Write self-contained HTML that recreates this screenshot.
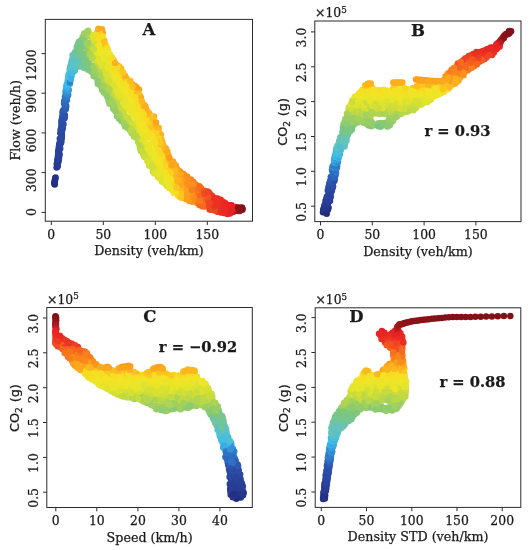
<!DOCTYPE html>
<html><head><meta charset="utf-8"><title>Figure</title>
<style>html,body{margin:0;padding:0;background:#fff}svg{display:block}text{font-family:"DejaVu Serif","Liberation Serif",serif;stroke:#1a1a1a;stroke-width:0.25px}</style>
</head><body>
<svg width="529" height="550" viewBox="0 0 529 550">
<rect width="529" height="550" fill="#ffffff"/>
<g>
<circle cx="54.7" cy="184.5" r="3.25" fill="#242e7f"/>
<circle cx="54.3" cy="183.3" r="3.25" fill="#242f80"/>
<circle cx="54.7" cy="182.1" r="3.25" fill="#243081"/>
<circle cx="54.8" cy="180.9" r="3.25" fill="#243083"/>
<circle cx="55.0" cy="179.7" r="3.25" fill="#253184"/>
<circle cx="55.3" cy="178.6" r="3.25" fill="#253285"/>
<circle cx="55.5" cy="177.4" r="3.25" fill="#253386"/>
<circle cx="56.6" cy="167.4" r="3.25" fill="#293b93"/>
<circle cx="57.4" cy="166.7" r="3.25" fill="#293b94"/>
<circle cx="57.6" cy="166.0" r="3.25" fill="#293b94"/>
<circle cx="57.5" cy="165.1" r="3.25" fill="#293c95"/>
<circle cx="56.9" cy="164.3" r="3.25" fill="#293c95"/>
<circle cx="57.0" cy="163.5" r="3.25" fill="#293c96"/>
<circle cx="57.4" cy="162.7" r="3.25" fill="#293d96"/>
<circle cx="58.3" cy="162.0" r="3.25" fill="#293d96"/>
<circle cx="57.4" cy="161.1" r="3.25" fill="#293d97"/>
<circle cx="58.5" cy="160.4" r="3.25" fill="#293e97"/>
<circle cx="57.4" cy="159.5" r="3.25" fill="#293e97"/>
<circle cx="58.8" cy="158.9" r="3.25" fill="#293e98"/>
<circle cx="58.9" cy="158.1" r="3.25" fill="#2a3f98"/>
<circle cx="59.0" cy="157.3" r="3.25" fill="#2a3f98"/>
<circle cx="57.9" cy="156.3" r="3.25" fill="#2a3f99"/>
<circle cx="58.7" cy="155.6" r="3.25" fill="#2a4099"/>
<circle cx="59.3" cy="154.9" r="3.25" fill="#2a4099"/>
<circle cx="59.5" cy="154.1" r="3.25" fill="#2a409a"/>
<circle cx="58.3" cy="153.1" r="3.25" fill="#2a419a"/>
<circle cx="58.3" cy="152.3" r="3.25" fill="#2a419a"/>
<circle cx="58.4" cy="151.5" r="3.25" fill="#2a419b"/>
<circle cx="58.6" cy="150.8" r="3.25" fill="#2a429b"/>
<circle cx="59.2" cy="150.0" r="3.25" fill="#2a429b"/>
<circle cx="58.8" cy="149.2" r="3.25" fill="#2a429c"/>
<circle cx="60.2" cy="148.6" r="3.25" fill="#2a439c"/>
<circle cx="58.8" cy="147.6" r="3.25" fill="#2a439c"/>
<circle cx="59.4" cy="146.8" r="3.25" fill="#2a439d"/>
<circle cx="59.1" cy="146.0" r="3.25" fill="#2a449d"/>
<circle cx="59.2" cy="145.2" r="3.25" fill="#2a449d"/>
<circle cx="59.5" cy="144.4" r="3.25" fill="#2a449e"/>
<circle cx="59.4" cy="143.6" r="3.25" fill="#2a459e"/>
<circle cx="61.0" cy="143.0" r="3.25" fill="#2a459e"/>
<circle cx="60.9" cy="142.2" r="3.25" fill="#2a459f"/>
<circle cx="61.2" cy="141.4" r="3.25" fill="#2b469f"/>
<circle cx="60.9" cy="140.6" r="3.25" fill="#2b469f"/>
<circle cx="61.2" cy="139.8" r="3.25" fill="#2b46a0"/>
<circle cx="59.8" cy="138.8" r="3.25" fill="#2b47a0"/>
<circle cx="61.5" cy="138.2" r="3.25" fill="#2b47a1"/>
<circle cx="61.7" cy="137.5" r="3.25" fill="#2b47a1"/>
<circle cx="61.7" cy="136.6" r="3.25" fill="#2b48a1"/>
<circle cx="61.9" cy="135.9" r="3.25" fill="#2b48a2"/>
<circle cx="61.9" cy="135.1" r="3.25" fill="#2b48a2"/>
<circle cx="61.1" cy="134.2" r="3.25" fill="#2b49a2"/>
<circle cx="60.6" cy="133.3" r="3.25" fill="#2b49a3"/>
<circle cx="60.5" cy="132.5" r="3.25" fill="#2b49a3"/>
<circle cx="61.9" cy="131.8" r="3.25" fill="#2b4aa3"/>
<circle cx="61.4" cy="131.0" r="3.25" fill="#2b4aa4"/>
<circle cx="60.8" cy="130.1" r="3.25" fill="#2b4aa4"/>
<circle cx="60.9" cy="129.3" r="3.25" fill="#2b4ba4"/>
<circle cx="62.7" cy="128.7" r="3.25" fill="#2b4ba5"/>
<circle cx="61.4" cy="127.7" r="3.25" fill="#2b4ba5"/>
<circle cx="62.3" cy="127.0" r="3.25" fill="#2b4ca5"/>
<circle cx="62.4" cy="126.2" r="3.25" fill="#2b4ca6"/>
<circle cx="61.5" cy="125.3" r="3.25" fill="#2b4ca6"/>
<circle cx="63.1" cy="124.7" r="3.25" fill="#2c4da6"/>
<circle cx="63.4" cy="124.0" r="3.25" fill="#2c4da7"/>
<circle cx="61.7" cy="122.9" r="3.25" fill="#2c4da7"/>
<circle cx="61.6" cy="122.1" r="3.25" fill="#2c4ea8"/>
<circle cx="61.9" cy="121.4" r="3.25" fill="#2c4ea8"/>
<circle cx="61.7" cy="120.5" r="3.25" fill="#2c4fa9"/>
<circle cx="62.2" cy="119.8" r="3.25" fill="#2c4fa9"/>
<circle cx="61.9" cy="118.9" r="3.25" fill="#2c4fa9"/>
<circle cx="64.4" cy="118.4" r="3.25" fill="#2c50aa"/>
<circle cx="64.4" cy="117.6" r="3.25" fill="#2c50aa"/>
<circle cx="62.3" cy="116.6" r="3.25" fill="#2c51ab"/>
<circle cx="64.7" cy="116.1" r="3.25" fill="#2c52ab"/>
<circle cx="64.8" cy="115.3" r="3.25" fill="#2c53ac"/>
<circle cx="64.3" cy="114.4" r="3.25" fill="#2c54ad"/>
<circle cx="62.9" cy="113.4" r="3.25" fill="#2d55ae"/>
<circle cx="62.7" cy="112.6" r="3.25" fill="#2d57af"/>
<circle cx="63.5" cy="111.9" r="3.25" fill="#2d58b0"/>
<circle cx="62.8" cy="111.0" r="3.25" fill="#2d59b1"/>
<circle cx="64.2" cy="110.3" r="3.25" fill="#2d5ab1"/>
<circle cx="63.9" cy="109.5" r="3.25" fill="#2d5bb2"/>
<circle cx="65.8" cy="109.0" r="3.25" fill="#2d5cb3"/>
<circle cx="64.9" cy="108.0" r="3.25" fill="#2d5eb4"/>
<circle cx="65.9" cy="107.4" r="3.25" fill="#2e5fb5"/>
<circle cx="66.0" cy="106.6" r="3.25" fill="#2e61b7"/>
<circle cx="66.1" cy="105.8" r="3.25" fill="#2e62b8"/>
<circle cx="65.2" cy="104.8" r="3.25" fill="#2e64b9"/>
<circle cx="64.3" cy="103.9" r="3.25" fill="#2e66bb"/>
<circle cx="64.1" cy="103.1" r="3.25" fill="#2e68bc"/>
<circle cx="64.3" cy="102.3" r="3.25" fill="#2f69bd"/>
<circle cx="64.6" cy="101.5" r="3.25" fill="#2f6bbe"/>
<circle cx="64.4" cy="100.7" r="3.25" fill="#2f6dbf"/>
<circle cx="66.8" cy="100.2" r="3.25" fill="#2f6ec0"/>
<circle cx="65.4" cy="99.2" r="3.25" fill="#2f70c2"/>
<circle cx="66.1" cy="98.5" r="3.25" fill="#2f72c4"/>
<circle cx="66.4" cy="97.8" r="3.25" fill="#3074c5"/>
<circle cx="65.0" cy="96.7" r="3.25" fill="#3077c8"/>
<circle cx="66.2" cy="96.1" r="3.25" fill="#307ac9"/>
<circle cx="67.9" cy="95.6" r="3.25" fill="#317dcb"/>
<circle cx="68.1" cy="94.8" r="3.25" fill="#3181cd"/>
<circle cx="67.1" cy="93.8" r="3.25" fill="#3287d0"/>
<circle cx="65.5" cy="92.7" r="3.25" fill="#338dd3"/>
<circle cx="66.1" cy="92.0" r="3.25" fill="#3491d5"/>
<circle cx="67.6" cy="91.5" r="3.25" fill="#3494d7"/>
<circle cx="65.9" cy="90.3" r="3.25" fill="#359ada"/>
<circle cx="68.8" cy="90.0" r="3.25" fill="#369cdb"/>
<circle cx="66.4" cy="88.8" r="3.25" fill="#37a3df"/>
<circle cx="66.9" cy="88.1" r="3.25" fill="#37a7e1"/>
<circle cx="67.6" cy="87.4" r="3.25" fill="#38abe4"/>
<circle cx="66.7" cy="86.4" r="3.25" fill="#39b1e7"/>
<circle cx="66.6" cy="85.6" r="3.25" fill="#39b5e9"/>
<circle cx="66.8" cy="84.8" r="3.25" fill="#3ab9eb"/>
<circle cx="69.0" cy="84.4" r="3.25" fill="#3bb9ea"/>
<circle cx="69.8" cy="83.7" r="3.25" fill="#3cbae8"/>
<circle cx="69.8" cy="82.9" r="3.25" fill="#3ebae7"/>
<circle cx="67.6" cy="81.7" r="3.25" fill="#40bbe4"/>
<circle cx="69.9" cy="81.3" r="3.25" fill="#41bbe4"/>
<circle cx="70.3" cy="80.6" r="3.25" fill="#42bbe2"/>
<circle cx="68.0" cy="79.3" r="3.25" fill="#44bce0"/>
<circle cx="68.4" cy="78.6" r="3.25" fill="#46bcde"/>
<circle cx="70.7" cy="78.2" r="3.25" fill="#47bcdd"/>
<circle cx="68.2" cy="76.9" r="3.25" fill="#49bddb"/>
<circle cx="68.5" cy="76.2" r="3.25" fill="#4abdd9"/>
<circle cx="71.2" cy="75.8" r="3.25" fill="#4bbed9"/>
<circle cx="68.6" cy="74.6" r="3.25" fill="#4ebed6"/>
<circle cx="69.4" cy="73.9" r="3.25" fill="#4fbfd4"/>
<circle cx="70.8" cy="73.3" r="3.25" fill="#51bfd2"/>
<circle cx="71.7" cy="72.8" r="3.25" fill="#52c0d1"/>
<circle cx="69.9" cy="71.5" r="3.25" fill="#56c0cd"/>
<circle cx="72.2" cy="71.3" r="3.25" fill="#56c1cc"/>
<circle cx="69.7" cy="69.8" r="3.25" fill="#5ac2c8"/>
<circle cx="70.1" cy="69.1" r="3.25" fill="#5cc2c6"/>
<circle cx="72.7" cy="68.9" r="3.25" fill="#5dc2c6"/>
<circle cx="70.2" cy="67.5" r="3.25" fill="#5fc3c2"/>
<circle cx="73.1" cy="67.4" r="3.25" fill="#5fc3c2"/>
<circle cx="93.3" cy="53.1" r="3.25" fill="#c0da43"/>
<circle cx="151.3" cy="130.7" r="3.25" fill="#f7da22"/>
<circle cx="99.0" cy="42.0" r="3.25" fill="#f7db22"/>
<circle cx="100.2" cy="54.8" r="3.25" fill="#e9e628"/>
<circle cx="150.4" cy="158.8" r="3.25" fill="#dbe230"/>
<circle cx="96.7" cy="64.6" r="3.25" fill="#bfd944"/>
<circle cx="148.0" cy="155.0" r="3.25" fill="#dfe32d"/>
<circle cx="151.4" cy="143.3" r="3.25" fill="#f0e425"/>
<circle cx="100.9" cy="69.5" r="3.25" fill="#bdd946"/>
<circle cx="93.6" cy="44.0" r="3.25" fill="#d1df37"/>
<circle cx="156.2" cy="165.7" r="3.25" fill="#e3e52b"/>
<circle cx="69.9" cy="82.6" r="3.25" fill="#3180cc"/>
<circle cx="86.8" cy="48.0" r="3.25" fill="#90cb6d"/>
<circle cx="147.0" cy="124.8" r="3.25" fill="#eee526"/>
<circle cx="153.5" cy="161.4" r="3.25" fill="#dee32e"/>
<circle cx="149.5" cy="127.5" r="3.25" fill="#fbc21f"/>
<circle cx="96.9" cy="52.7" r="3.25" fill="#e9e627"/>
<circle cx="99.5" cy="38.4" r="3.25" fill="#f3e123"/>
<circle cx="86.6" cy="57.1" r="3.25" fill="#83c878"/>
<circle cx="159.1" cy="134.8" r="3.25" fill="#fbbf1f"/>
<circle cx="166.9" cy="186.1" r="3.25" fill="#dfe32e"/>
<circle cx="203.7" cy="202.2" r="3.25" fill="#f6691f"/>
<circle cx="108.1" cy="51.3" r="3.25" fill="#f7da22"/>
<circle cx="87.2" cy="35.7" r="3.25" fill="#b0d551"/>
<circle cx="88.8" cy="63.0" r="3.25" fill="#8aca71"/>
<circle cx="127.0" cy="103.8" r="3.25" fill="#e3e42b"/>
<circle cx="169.0" cy="167.2" r="3.25" fill="#f7da22"/>
<circle cx="90.5" cy="66.2" r="3.25" fill="#9ace64"/>
<circle cx="73.8" cy="55.7" r="3.25" fill="#65c4b4"/>
<circle cx="224.7" cy="209.2" r="3.25" fill="#eb2e23"/>
<circle cx="136.8" cy="128.7" r="3.25" fill="#cbdd3a"/>
<circle cx="90.3" cy="45.7" r="3.25" fill="#b8d74a"/>
<circle cx="153.5" cy="125.7" r="3.25" fill="#fac41f"/>
<circle cx="83.8" cy="54.5" r="3.25" fill="#7dc67e"/>
<circle cx="228.4" cy="205.6" r="3.25" fill="#e82723"/>
<circle cx="220.2" cy="211.3" r="3.25" fill="#ec2e23"/>
<circle cx="116.2" cy="92.4" r="3.25" fill="#d7e133"/>
<circle cx="113.3" cy="108.7" r="3.25" fill="#8bca71"/>
<circle cx="125.7" cy="122.5" r="3.25" fill="#a8d358"/>
<circle cx="139.1" cy="134.7" r="3.25" fill="#d7e132"/>
<circle cx="91.4" cy="71.8" r="3.25" fill="#8aca72"/>
<circle cx="117.2" cy="111.8" r="3.25" fill="#a3d15c"/>
<circle cx="205.3" cy="194.9" r="3.25" fill="#f14f22"/>
<circle cx="130.0" cy="130.2" r="3.25" fill="#afd552"/>
<circle cx="112.7" cy="105.3" r="3.25" fill="#82c779"/>
<circle cx="158.0" cy="177.0" r="3.25" fill="#d8e132"/>
<circle cx="202.2" cy="206.3" r="3.25" fill="#f5671f"/>
<circle cx="92.0" cy="38.8" r="3.25" fill="#c9dc3b"/>
<circle cx="143.1" cy="153.1" r="3.25" fill="#c2da41"/>
<circle cx="203.8" cy="200.3" r="3.25" fill="#f45e20"/>
<circle cx="160.5" cy="154.3" r="3.25" fill="#f6dd23"/>
<circle cx="121.6" cy="121.3" r="3.25" fill="#8ecb6f"/>
<circle cx="183.5" cy="190.1" r="3.25" fill="#fca91d"/>
<circle cx="218.0" cy="210.1" r="3.25" fill="#ed3123"/>
<circle cx="160.8" cy="134.5" r="3.25" fill="#fcb01d"/>
<circle cx="105.6" cy="94.1" r="3.25" fill="#94cd69"/>
<circle cx="239.3" cy="208.0" r="3.25" fill="#8a1219"/>
<circle cx="236.0" cy="207.9" r="3.25" fill="#b11a1e"/>
<circle cx="165.8" cy="162.0" r="3.25" fill="#fcb51e"/>
<circle cx="139.2" cy="115.3" r="3.25" fill="#f3e324"/>
<circle cx="109.9" cy="69.4" r="3.25" fill="#e8e628"/>
<circle cx="116.1" cy="108.8" r="3.25" fill="#a0d05f"/>
<circle cx="132.7" cy="95.0" r="3.25" fill="#f5df23"/>
<circle cx="205.2" cy="204.8" r="3.25" fill="#f6691f"/>
<circle cx="147.5" cy="134.5" r="3.25" fill="#f3e123"/>
<circle cx="189.4" cy="193.1" r="3.25" fill="#fb901c"/>
<circle cx="218.2" cy="207.0" r="3.25" fill="#ee3a23"/>
<circle cx="106.9" cy="60.7" r="3.25" fill="#e5e52a"/>
<circle cx="113.7" cy="60.2" r="3.25" fill="#fbc11f"/>
<circle cx="171.0" cy="185.1" r="3.25" fill="#f0e425"/>
<circle cx="232.6" cy="208.4" r="3.25" fill="#e42223"/>
<circle cx="140.6" cy="118.0" r="3.25" fill="#f3e224"/>
<circle cx="155.9" cy="126.4" r="3.25" fill="#fcba1e"/>
<circle cx="97.4" cy="77.2" r="3.25" fill="#a2d15d"/>
<circle cx="170.6" cy="169.7" r="3.25" fill="#f8d121"/>
<circle cx="172.8" cy="183.0" r="3.25" fill="#f6dc22"/>
<circle cx="240.8" cy="208.8" r="3.25" fill="#90131a"/>
<circle cx="197.0" cy="198.5" r="3.25" fill="#f97d1d"/>
<circle cx="179.8" cy="171.3" r="3.25" fill="#fb951c"/>
<circle cx="84.3" cy="67.9" r="3.25" fill="#76c58e"/>
<circle cx="72.6" cy="55.3" r="3.25" fill="#64c4b7"/>
<circle cx="175.8" cy="165.5" r="3.25" fill="#fca31c"/>
<circle cx="178.2" cy="172.1" r="3.25" fill="#fca31c"/>
<circle cx="105.9" cy="77.1" r="3.25" fill="#c9dc3b"/>
<circle cx="119.1" cy="118.7" r="3.25" fill="#88c974"/>
<circle cx="165.5" cy="152.7" r="3.25" fill="#fac620"/>
<circle cx="201.5" cy="200.2" r="3.25" fill="#f97d1d"/>
<circle cx="145.6" cy="111.3" r="3.25" fill="#fcb81e"/>
<circle cx="106.3" cy="91.8" r="3.25" fill="#9ccf62"/>
<circle cx="221.9" cy="208.8" r="3.25" fill="#ea2923"/>
<circle cx="176.5" cy="177.9" r="3.25" fill="#fcb51e"/>
<circle cx="132.6" cy="102.5" r="3.25" fill="#f3e224"/>
<circle cx="112.2" cy="66.4" r="3.25" fill="#eee525"/>
<circle cx="214.1" cy="208.6" r="3.25" fill="#f04623"/>
<circle cx="138.3" cy="142.3" r="3.25" fill="#b7d74b"/>
<circle cx="131.6" cy="132.9" r="3.25" fill="#a8d258"/>
<circle cx="236.4" cy="210.4" r="3.25" fill="#93131a"/>
<circle cx="98.4" cy="72.2" r="3.25" fill="#b8d74a"/>
<circle cx="105.4" cy="74.1" r="3.25" fill="#cdde39"/>
<circle cx="194.9" cy="191.9" r="3.25" fill="#fa831d"/>
<circle cx="149.4" cy="113.5" r="3.25" fill="#fcad1d"/>
<circle cx="80.9" cy="47.7" r="3.25" fill="#7bc682"/>
<circle cx="163.2" cy="145.4" r="3.25" fill="#fcac1d"/>
<circle cx="128.8" cy="90.0" r="3.25" fill="#f5df23"/>
<circle cx="146.2" cy="130.1" r="3.25" fill="#f4e123"/>
<circle cx="163.8" cy="159.7" r="3.25" fill="#f5dd23"/>
<circle cx="182.6" cy="197.8" r="3.25" fill="#f9cb20"/>
<circle cx="89.7" cy="34.1" r="3.25" fill="#c4db3f"/>
<circle cx="139.8" cy="95.7" r="3.25" fill="#fca81c"/>
<circle cx="172.7" cy="174.8" r="3.25" fill="#f8d321"/>
<circle cx="120.8" cy="116.9" r="3.25" fill="#9ccf62"/>
<circle cx="132.4" cy="84.2" r="3.25" fill="#fca81d"/>
<circle cx="117.1" cy="65.3" r="3.25" fill="#f9cc20"/>
<circle cx="213.7" cy="204.6" r="3.25" fill="#ef4323"/>
<circle cx="108.5" cy="100.4" r="3.25" fill="#8aca72"/>
<circle cx="206.5" cy="203.7" r="3.25" fill="#f46020"/>
<circle cx="233.7" cy="211.0" r="3.25" fill="#e62423"/>
<circle cx="92.1" cy="57.3" r="3.25" fill="#add454"/>
<circle cx="148.1" cy="161.8" r="3.25" fill="#d4e034"/>
<circle cx="147.5" cy="144.9" r="3.25" fill="#eae627"/>
<circle cx="111.6" cy="72.8" r="3.25" fill="#eae627"/>
<circle cx="142.2" cy="103.0" r="3.25" fill="#fcb21d"/>
<circle cx="193.3" cy="182.1" r="3.25" fill="#f9811d"/>
<circle cx="155.5" cy="129.0" r="3.25" fill="#f9cb20"/>
<circle cx="109.5" cy="103.7" r="3.25" fill="#96cd68"/>
<circle cx="127.4" cy="81.4" r="3.25" fill="#f7db22"/>
<circle cx="241.8" cy="207.4" r="3.25" fill="#801118"/>
<circle cx="127.7" cy="124.3" r="3.25" fill="#b1d550"/>
<circle cx="194.5" cy="193.0" r="3.25" fill="#fa841d"/>
<circle cx="140.8" cy="150.9" r="3.25" fill="#b9d849"/>
<circle cx="143.3" cy="154.5" r="3.25" fill="#bfd944"/>
<circle cx="136.8" cy="91.8" r="3.25" fill="#fcb11d"/>
<circle cx="161.3" cy="166.8" r="3.25" fill="#f1e424"/>
<circle cx="70.7" cy="65.6" r="3.25" fill="#50bfd3"/>
<circle cx="236.9" cy="210.4" r="3.25" fill="#8e131a"/>
<circle cx="78.7" cy="49.8" r="3.25" fill="#70c59c"/>
<circle cx="231.4" cy="209.6" r="3.25" fill="#e62423"/>
<circle cx="104.6" cy="69.9" r="3.25" fill="#ccdd39"/>
<circle cx="242.4" cy="209.8" r="3.25" fill="#851118"/>
<circle cx="84.7" cy="38.1" r="3.25" fill="#8fcb6e"/>
<circle cx="162.4" cy="142.4" r="3.25" fill="#fcaf1d"/>
<circle cx="138.5" cy="141.7" r="3.25" fill="#b9d749"/>
<circle cx="158.7" cy="128.1" r="3.25" fill="#fcb01d"/>
<circle cx="154.6" cy="168.9" r="3.25" fill="#dde32f"/>
<circle cx="223.9" cy="212.9" r="3.25" fill="#ea2b23"/>
<circle cx="120.2" cy="76.7" r="3.25" fill="#f4e123"/>
<circle cx="173.2" cy="187.9" r="3.25" fill="#f4e023"/>
<circle cx="166.8" cy="156.7" r="3.25" fill="#fbc01f"/>
<circle cx="105.8" cy="64.4" r="3.25" fill="#dde32f"/>
<circle cx="93.6" cy="75.9" r="3.25" fill="#8dcb6f"/>
<circle cx="78.7" cy="66.6" r="3.25" fill="#6bc4a7"/>
<circle cx="220.7" cy="199.7" r="3.25" fill="#ed3123"/>
<circle cx="137.3" cy="138.7" r="3.25" fill="#b3d64f"/>
<circle cx="146.2" cy="146.8" r="3.25" fill="#e4e52b"/>
<circle cx="139.1" cy="89.8" r="3.25" fill="#fca91d"/>
<circle cx="161.8" cy="181.6" r="3.25" fill="#d8e132"/>
<circle cx="225.4" cy="204.4" r="3.25" fill="#e72623"/>
<circle cx="143.1" cy="129.0" r="3.25" fill="#f2e424"/>
<circle cx="220.7" cy="205.0" r="3.25" fill="#eb2d23"/>
<circle cx="139.9" cy="145.3" r="3.25" fill="#c2da41"/>
<circle cx="123.6" cy="119.2" r="3.25" fill="#a5d15b"/>
<circle cx="118.9" cy="66.3" r="3.25" fill="#fcbb1e"/>
<circle cx="121.6" cy="100.3" r="3.25" fill="#e0e42d"/>
<circle cx="73.0" cy="59.2" r="3.25" fill="#65c4b5"/>
<circle cx="95.8" cy="74.0" r="3.25" fill="#9bcf63"/>
<circle cx="228.5" cy="205.6" r="3.25" fill="#e62423"/>
<circle cx="166.5" cy="174.2" r="3.25" fill="#f4e023"/>
<circle cx="74.4" cy="66.5" r="3.25" fill="#5fc3c2"/>
<circle cx="76.8" cy="47.0" r="3.25" fill="#76c58d"/>
<circle cx="131.2" cy="112.2" r="3.25" fill="#e6e529"/>
<circle cx="75.0" cy="52.6" r="3.25" fill="#6ac4a9"/>
<circle cx="92.7" cy="67.9" r="3.25" fill="#9bcf63"/>
<circle cx="138.7" cy="119.5" r="3.25" fill="#efe525"/>
<circle cx="200.7" cy="195.1" r="3.25" fill="#f5651f"/>
<circle cx="143.7" cy="139.1" r="3.25" fill="#eee526"/>
<circle cx="177.1" cy="168.9" r="3.25" fill="#fc9d1c"/>
<circle cx="142.8" cy="136.6" r="3.25" fill="#ebe527"/>
<circle cx="135.3" cy="126.0" r="3.25" fill="#cfde37"/>
<circle cx="115.7" cy="87.8" r="3.25" fill="#dfe32d"/>
<circle cx="173.5" cy="181.8" r="3.25" fill="#f9cc20"/>
<circle cx="157.0" cy="135.0" r="3.25" fill="#f8d421"/>
<circle cx="177.6" cy="186.8" r="3.25" fill="#fac41f"/>
<circle cx="118.9" cy="70.5" r="3.25" fill="#f7da22"/>
<circle cx="182.1" cy="176.3" r="3.25" fill="#fca11c"/>
<circle cx="139.9" cy="97.3" r="3.25" fill="#fac51f"/>
<circle cx="76.0" cy="54.7" r="3.25" fill="#6ac4a9"/>
<circle cx="175.3" cy="189.9" r="3.25" fill="#f8d221"/>
<circle cx="76.3" cy="66.8" r="3.25" fill="#64c3b8"/>
<circle cx="161.8" cy="176.1" r="3.25" fill="#ece526"/>
<circle cx="227.4" cy="207.6" r="3.25" fill="#e52323"/>
<circle cx="85.3" cy="43.2" r="3.25" fill="#98ce66"/>
<circle cx="75.8" cy="51.5" r="3.25" fill="#74c593"/>
<circle cx="174.5" cy="185.2" r="3.25" fill="#f6dd23"/>
<circle cx="80.8" cy="61.2" r="3.25" fill="#71c599"/>
<circle cx="102.9" cy="66.2" r="3.25" fill="#e2e42c"/>
<circle cx="218.9" cy="202.9" r="3.25" fill="#ea2b23"/>
<circle cx="100.9" cy="50.4" r="3.25" fill="#ece526"/>
<circle cx="163.8" cy="162.8" r="3.25" fill="#f8d221"/>
<circle cx="150.1" cy="163.4" r="3.25" fill="#d4e034"/>
<circle cx="189.9" cy="182.1" r="3.25" fill="#fa8b1c"/>
<circle cx="218.5" cy="204.3" r="3.25" fill="#eb2d23"/>
<circle cx="135.0" cy="135.0" r="3.25" fill="#c3da41"/>
<circle cx="133.9" cy="111.8" r="3.25" fill="#ebe527"/>
<circle cx="93.4" cy="40.3" r="3.25" fill="#d8e132"/>
<circle cx="86.0" cy="60.8" r="3.25" fill="#88c974"/>
<circle cx="109.3" cy="96.8" r="3.25" fill="#9ccf63"/>
<circle cx="110.9" cy="83.9" r="3.25" fill="#d6e033"/>
<circle cx="95.4" cy="69.7" r="3.25" fill="#add453"/>
<circle cx="160.8" cy="141.4" r="3.25" fill="#f9d021"/>
<circle cx="142.2" cy="121.2" r="3.25" fill="#f3e324"/>
<circle cx="115.8" cy="77.9" r="3.25" fill="#f0e425"/>
<circle cx="233.8" cy="209.6" r="3.25" fill="#e12223"/>
<circle cx="164.9" cy="153.5" r="3.25" fill="#f8d021"/>
<circle cx="154.0" cy="116.4" r="3.25" fill="#fcb41e"/>
<circle cx="77.0" cy="59.0" r="3.25" fill="#6cc4a5"/>
<circle cx="185.0" cy="185.9" r="3.25" fill="#fc9b1c"/>
<circle cx="164.0" cy="178.0" r="3.25" fill="#ece526"/>
<circle cx="196.2" cy="189.5" r="3.25" fill="#f87a1d"/>
<circle cx="173.7" cy="167.6" r="3.25" fill="#fcb81e"/>
<circle cx="144.2" cy="109.0" r="3.25" fill="#fbc21f"/>
<circle cx="204.6" cy="206.5" r="3.25" fill="#f6681f"/>
<circle cx="144.4" cy="144.2" r="3.25" fill="#e2e42c"/>
<circle cx="133.9" cy="136.4" r="3.25" fill="#b3d64f"/>
<circle cx="102.7" cy="32.7" r="3.25" fill="#fca11c"/>
<circle cx="134.0" cy="88.5" r="3.25" fill="#fac820"/>
<circle cx="72.5" cy="69.6" r="3.25" fill="#56c1cd"/>
<circle cx="206.4" cy="199.5" r="3.25" fill="#f04a23"/>
<circle cx="178.2" cy="192.6" r="3.25" fill="#f6dc22"/>
<circle cx="179.7" cy="176.3" r="3.25" fill="#fcac1d"/>
<circle cx="211.9" cy="198.7" r="3.25" fill="#ee3a23"/>
<circle cx="84.0" cy="61.0" r="3.25" fill="#77c58b"/>
<circle cx="209.7" cy="209.4" r="3.25" fill="#ef3f23"/>
<circle cx="200.8" cy="187.7" r="3.25" fill="#f8751e"/>
<circle cx="105.4" cy="68.6" r="3.25" fill="#d0df37"/>
<circle cx="70.9" cy="73.2" r="3.25" fill="#48bddc"/>
<circle cx="138.3" cy="131.0" r="3.25" fill="#d5e034"/>
<circle cx="82.3" cy="44.9" r="3.25" fill="#85c876"/>
<circle cx="73.7" cy="63.3" r="3.25" fill="#5ec3c4"/>
<circle cx="197.8" cy="193.8" r="3.25" fill="#f7711e"/>
<circle cx="89.1" cy="35.9" r="3.25" fill="#b1d551"/>
<circle cx="161.3" cy="139.2" r="3.25" fill="#fcaa1d"/>
<circle cx="182.9" cy="173.8" r="3.25" fill="#fb931c"/>
<circle cx="184.8" cy="192.9" r="3.25" fill="#fcaf1d"/>
<circle cx="91.8" cy="65.6" r="3.25" fill="#95cd68"/>
<circle cx="117.9" cy="74.6" r="3.25" fill="#f1e425"/>
<circle cx="94.1" cy="59.0" r="3.25" fill="#bad848"/>
<circle cx="105.3" cy="85.4" r="3.25" fill="#bad849"/>
<circle cx="136.3" cy="118.3" r="3.25" fill="#e9e627"/>
<circle cx="240.9" cy="208.1" r="3.25" fill="#831118"/>
<circle cx="189.2" cy="188.4" r="3.25" fill="#fb8d1c"/>
<circle cx="163.5" cy="150.8" r="3.25" fill="#fcb71e"/>
<circle cx="105.4" cy="44.5" r="3.25" fill="#f3e224"/>
<circle cx="121.8" cy="86.3" r="3.25" fill="#f0e425"/>
<circle cx="132.9" cy="132.0" r="3.25" fill="#b3d64e"/>
<circle cx="71.2" cy="75.2" r="3.25" fill="#46bcde"/>
<circle cx="176.3" cy="179.7" r="3.25" fill="#fcb41e"/>
<circle cx="229.6" cy="207.5" r="3.25" fill="#e52323"/>
<circle cx="230.9" cy="212.1" r="3.25" fill="#e52323"/>
<circle cx="195.7" cy="184.4" r="3.25" fill="#f97c1d"/>
<circle cx="173.4" cy="168.6" r="3.25" fill="#fcb61e"/>
<circle cx="115.8" cy="65.2" r="3.25" fill="#f8d021"/>
<circle cx="192.9" cy="186.9" r="3.25" fill="#fa861d"/>
<circle cx="101.1" cy="82.6" r="3.25" fill="#add453"/>
<circle cx="164.5" cy="183.1" r="3.25" fill="#e0e42d"/>
<circle cx="81.5" cy="61.9" r="3.25" fill="#76c58e"/>
<circle cx="126.9" cy="107.7" r="3.25" fill="#e5e52a"/>
<circle cx="97.5" cy="32.3" r="3.25" fill="#fca41c"/>
<circle cx="150.9" cy="150.3" r="3.25" fill="#ebe527"/>
<circle cx="123.5" cy="99.4" r="3.25" fill="#eae627"/>
<circle cx="126.4" cy="78.3" r="3.25" fill="#fcb51e"/>
<circle cx="221.8" cy="203.6" r="3.25" fill="#eb2d23"/>
<circle cx="95.7" cy="47.7" r="3.25" fill="#e5e52a"/>
<circle cx="150.5" cy="116.2" r="3.25" fill="#f9cd20"/>
<circle cx="158.9" cy="132.7" r="3.25" fill="#fcb31e"/>
<circle cx="234.8" cy="209.0" r="3.25" fill="#b61b1e"/>
<circle cx="205.8" cy="202.0" r="3.25" fill="#f25521"/>
<circle cx="150.5" cy="123.4" r="3.25" fill="#f9cd20"/>
<circle cx="162.8" cy="169.2" r="3.25" fill="#f3e324"/>
<circle cx="238.9" cy="208.4" r="3.25" fill="#90131a"/>
<circle cx="74.9" cy="63.7" r="3.25" fill="#65c4b5"/>
<circle cx="82.7" cy="37.0" r="3.25" fill="#91cc6c"/>
<circle cx="105.6" cy="48.6" r="3.25" fill="#efe525"/>
<circle cx="78.6" cy="57.5" r="3.25" fill="#6fc59e"/>
<circle cx="77.2" cy="61.6" r="3.25" fill="#6cc4a4"/>
<circle cx="175.3" cy="184.7" r="3.25" fill="#f8d021"/>
<circle cx="231.6" cy="208.6" r="3.25" fill="#e92723"/>
<circle cx="97.5" cy="34.7" r="3.25" fill="#fbc01f"/>
<circle cx="80.8" cy="40.5" r="3.25" fill="#7cc680"/>
<circle cx="227.0" cy="212.6" r="3.25" fill="#e62423"/>
<circle cx="192.2" cy="201.7" r="3.25" fill="#fb901c"/>
<circle cx="147.4" cy="111.2" r="3.25" fill="#fcb51e"/>
<circle cx="87.0" cy="53.2" r="3.25" fill="#98ce66"/>
<circle cx="146.7" cy="158.5" r="3.25" fill="#d0df37"/>
<circle cx="86.9" cy="51.7" r="3.25" fill="#98ce66"/>
<circle cx="157.4" cy="132.4" r="3.25" fill="#fcb81e"/>
<circle cx="101.9" cy="29.2" r="3.25" fill="#fca71c"/>
<circle cx="75.9" cy="61.0" r="3.25" fill="#69c4ad"/>
<circle cx="112.0" cy="57.7" r="3.25" fill="#f9cc20"/>
<circle cx="117.1" cy="116.2" r="3.25" fill="#90cb6d"/>
<circle cx="146.6" cy="158.4" r="3.25" fill="#d2df36"/>
<circle cx="196.9" cy="201.4" r="3.25" fill="#fa821d"/>
<circle cx="186.2" cy="199.1" r="3.25" fill="#fc9c1c"/>
<circle cx="211.6" cy="207.7" r="3.25" fill="#f14c22"/>
<circle cx="148.5" cy="121.5" r="3.25" fill="#f8d321"/>
<circle cx="88.2" cy="30.8" r="3.25" fill="#b0d551"/>
<circle cx="152.9" cy="171.5" r="3.25" fill="#c9dc3b"/>
<circle cx="209.1" cy="205.8" r="3.25" fill="#f04823"/>
<circle cx="119.3" cy="107.2" r="3.25" fill="#bbd847"/>
<circle cx="173.1" cy="173.6" r="3.25" fill="#fac920"/>
<circle cx="156.0" cy="145.5" r="3.25" fill="#f4e023"/>
<circle cx="174.0" cy="192.9" r="3.25" fill="#f1e424"/>
<circle cx="227.4" cy="214.0" r="3.25" fill="#ea2b23"/>
<circle cx="160.8" cy="168.2" r="3.25" fill="#f0e425"/>
<circle cx="140.3" cy="123.4" r="3.25" fill="#efe525"/>
<circle cx="212.6" cy="201.4" r="3.25" fill="#ef4223"/>
<circle cx="235.2" cy="207.1" r="3.25" fill="#c01d1f"/>
<circle cx="98.3" cy="59.8" r="3.25" fill="#d8e132"/>
<circle cx="154.3" cy="140.7" r="3.25" fill="#f6dd23"/>
<circle cx="74.4" cy="57.8" r="3.25" fill="#67c4b1"/>
<circle cx="209.2" cy="199.5" r="3.25" fill="#ef4323"/>
<circle cx="72.9" cy="66.6" r="3.25" fill="#5dc3c5"/>
<circle cx="117.5" cy="105.0" r="3.25" fill="#c1da42"/>
<circle cx="77.9" cy="44.5" r="3.25" fill="#76c58d"/>
<circle cx="73.6" cy="61.1" r="3.25" fill="#60c3c1"/>
<circle cx="129.0" cy="106.5" r="3.25" fill="#ebe527"/>
<circle cx="110.2" cy="56.1" r="3.25" fill="#f3e224"/>
<circle cx="210.3" cy="202.4" r="3.25" fill="#f04523"/>
<circle cx="147.4" cy="132.0" r="3.25" fill="#f4e023"/>
<circle cx="198.6" cy="190.0" r="3.25" fill="#f87a1d"/>
<circle cx="155.6" cy="156.4" r="3.25" fill="#f1e424"/>
<circle cx="131.6" cy="99.6" r="3.25" fill="#efe525"/>
<circle cx="83.6" cy="45.8" r="3.25" fill="#8ecb6e"/>
<circle cx="113.0" cy="82.6" r="3.25" fill="#e2e42c"/>
<circle cx="224.3" cy="211.7" r="3.25" fill="#e72623"/>
<circle cx="234.7" cy="208.7" r="3.25" fill="#b21b1e"/>
<circle cx="144.4" cy="127.6" r="3.25" fill="#f4df23"/>
<circle cx="153.1" cy="152.5" r="3.25" fill="#efe525"/>
<circle cx="138.0" cy="122.2" r="3.25" fill="#eae627"/>
<circle cx="175.4" cy="169.5" r="3.25" fill="#fcb71e"/>
<circle cx="75.6" cy="64.1" r="3.25" fill="#62c3bb"/>
<circle cx="227.2" cy="208.1" r="3.25" fill="#ea2a23"/>
<circle cx="237.3" cy="208.4" r="3.25" fill="#9b151b"/>
<circle cx="145.9" cy="109.2" r="3.25" fill="#fcad1d"/>
<circle cx="159.8" cy="164.3" r="3.25" fill="#eee526"/>
<circle cx="83.1" cy="53.5" r="3.25" fill="#7ec67c"/>
<circle cx="76.3" cy="57.8" r="3.25" fill="#6ac4a9"/>
<circle cx="129.5" cy="97.8" r="3.25" fill="#f1e424"/>
<circle cx="209.4" cy="193.1" r="3.25" fill="#ef3f23"/>
<circle cx="113.4" cy="62.3" r="3.25" fill="#f6dc22"/>
<circle cx="219.6" cy="206.7" r="3.25" fill="#ed3323"/>
<circle cx="163.8" cy="149.9" r="3.25" fill="#fbbe1f"/>
<circle cx="240.1" cy="209.4" r="3.25" fill="#801118"/>
<circle cx="217.6" cy="198.4" r="3.25" fill="#ec3023"/>
<circle cx="82.7" cy="41.5" r="3.25" fill="#8aca72"/>
<circle cx="71.3" cy="72.7" r="3.25" fill="#41bbe3"/>
<circle cx="95.8" cy="77.1" r="3.25" fill="#92cc6b"/>
<circle cx="174.1" cy="176.5" r="3.25" fill="#fcb21d"/>
<circle cx="124.0" cy="112.8" r="3.25" fill="#c5db3e"/>
<circle cx="102.2" cy="78.8" r="3.25" fill="#bbd848"/>
<circle cx="100.0" cy="33.3" r="3.25" fill="#f8d321"/>
<circle cx="213.9" cy="200.2" r="3.25" fill="#ef4223"/>
<circle cx="78.7" cy="56.1" r="3.25" fill="#73c594"/>
<circle cx="129.4" cy="126.6" r="3.25" fill="#afd452"/>
<circle cx="166.7" cy="165.3" r="3.25" fill="#f9ce21"/>
<circle cx="77.2" cy="52.8" r="3.25" fill="#71c59a"/>
<circle cx="133.6" cy="115.3" r="3.25" fill="#e9e628"/>
<circle cx="154.4" cy="173.5" r="3.25" fill="#dee32e"/>
<circle cx="134.8" cy="105.0" r="3.25" fill="#f4e123"/>
<circle cx="106.0" cy="46.3" r="3.25" fill="#f3e224"/>
<circle cx="168.7" cy="158.6" r="3.25" fill="#fcb21d"/>
<circle cx="209.1" cy="196.5" r="3.25" fill="#ef4123"/>
<circle cx="183.9" cy="184.8" r="3.25" fill="#fc9f1c"/>
<circle cx="201.8" cy="193.3" r="3.25" fill="#f45c20"/>
<circle cx="112.9" cy="86.8" r="3.25" fill="#d5e034"/>
<circle cx="206.8" cy="194.9" r="3.25" fill="#f45d20"/>
<circle cx="145.7" cy="119.4" r="3.25" fill="#f6dc22"/>
<circle cx="208.9" cy="205.5" r="3.25" fill="#f04923"/>
<circle cx="203.0" cy="203.6" r="3.25" fill="#f76e1e"/>
<circle cx="156.9" cy="171.2" r="3.25" fill="#e1e42c"/>
<circle cx="192.4" cy="191.0" r="3.25" fill="#fb931c"/>
<circle cx="159.9" cy="137.7" r="3.25" fill="#fcb91e"/>
<circle cx="154.9" cy="124.2" r="3.25" fill="#fbc11f"/>
<circle cx="166.6" cy="155.2" r="3.25" fill="#fbc21f"/>
<circle cx="110.0" cy="54.7" r="3.25" fill="#f7db22"/>
<circle cx="79.2" cy="47.2" r="3.25" fill="#77c58c"/>
<circle cx="71.4" cy="76.0" r="3.25" fill="#3fbae6"/>
<circle cx="70.9" cy="79.0" r="3.25" fill="#39b1e7"/>
<circle cx="116.6" cy="102.9" r="3.25" fill="#bbd847"/>
<circle cx="218.2" cy="201.5" r="3.25" fill="#ec2f23"/>
<circle cx="190.9" cy="179.4" r="3.25" fill="#fa841d"/>
<circle cx="196.2" cy="187.4" r="3.25" fill="#f8791d"/>
<circle cx="121.3" cy="110.1" r="3.25" fill="#c8dc3c"/>
<circle cx="152.5" cy="167.7" r="3.25" fill="#cfde38"/>
<circle cx="206.8" cy="198.0" r="3.25" fill="#f04a23"/>
<circle cx="129.0" cy="83.8" r="3.25" fill="#f9cd20"/>
<circle cx="104.6" cy="81.3" r="3.25" fill="#b5d64c"/>
<circle cx="92.8" cy="48.3" r="3.25" fill="#c9dc3b"/>
<circle cx="156.6" cy="129.5" r="3.25" fill="#fcb61e"/>
<circle cx="181.9" cy="191.8" r="3.25" fill="#fcab1d"/>
<circle cx="162.6" cy="147.9" r="3.25" fill="#fbbc1e"/>
<circle cx="191.4" cy="195.5" r="3.25" fill="#fb961c"/>
<circle cx="198.8" cy="191.2" r="3.25" fill="#f7721e"/>
<circle cx="172.9" cy="161.4" r="3.25" fill="#fca11c"/>
<circle cx="165.8" cy="148.4" r="3.25" fill="#fca11c"/>
<circle cx="242.3" cy="208.6" r="3.25" fill="#811118"/>
<circle cx="105.1" cy="62.3" r="3.25" fill="#e9e628"/>
<circle cx="190.2" cy="189.1" r="3.25" fill="#fa891c"/>
<circle cx="125.6" cy="116.4" r="3.25" fill="#c4db3f"/>
<circle cx="221.8" cy="208.3" r="3.25" fill="#eb2e23"/>
<circle cx="215.5" cy="209.0" r="3.25" fill="#ed3423"/>
<circle cx="128.0" cy="118.0" r="3.25" fill="#cbdd3a"/>
<circle cx="210.3" cy="198.0" r="3.25" fill="#ef4023"/>
<circle cx="144.6" cy="156.4" r="3.25" fill="#bed945"/>
<circle cx="81.1" cy="55.9" r="3.25" fill="#76c58e"/>
<circle cx="120.0" cy="93.8" r="3.25" fill="#eae627"/>
<circle cx="72.3" cy="59.4" r="3.25" fill="#61c3bf"/>
<circle cx="111.5" cy="59.0" r="3.25" fill="#f6dc22"/>
<circle cx="167.3" cy="151.6" r="3.25" fill="#fca91d"/>
<circle cx="103.2" cy="52.4" r="3.25" fill="#ede526"/>
<circle cx="178.1" cy="195.8" r="3.25" fill="#f7db22"/>
<circle cx="195.6" cy="196.3" r="3.25" fill="#fb901c"/>
<circle cx="178.9" cy="190.1" r="3.25" fill="#f7da22"/>
<circle cx="78.4" cy="62.5" r="3.25" fill="#68c4ae"/>
<circle cx="168.8" cy="170.1" r="3.25" fill="#f9d021"/>
<circle cx="114.0" cy="75.1" r="3.25" fill="#ede526"/>
<circle cx="162.6" cy="170.7" r="3.25" fill="#f2e324"/>
<circle cx="90.3" cy="45.7" r="3.25" fill="#b3d64e"/>
<circle cx="201.7" cy="191.9" r="3.25" fill="#f5651f"/>
<circle cx="104.6" cy="89.1" r="3.25" fill="#9ccf62"/>
<circle cx="153.1" cy="119.3" r="3.25" fill="#fbc21f"/>
<circle cx="167.2" cy="167.6" r="3.25" fill="#f9ce21"/>
<circle cx="74.0" cy="66.5" r="3.25" fill="#60c3c0"/>
<circle cx="217.1" cy="209.2" r="3.25" fill="#ee3a23"/>
<circle cx="144.2" cy="156.4" r="3.25" fill="#cbdd3a"/>
<circle cx="74.8" cy="70.8" r="3.25" fill="#62c3bd"/>
<circle cx="187.6" cy="187.5" r="3.25" fill="#fb941c"/>
<circle cx="168.2" cy="154.6" r="3.25" fill="#fcb01d"/>
<circle cx="149.3" cy="165.8" r="3.25" fill="#d1df36"/>
<circle cx="199.3" cy="186.3" r="3.25" fill="#f66c1e"/>
<circle cx="141.7" cy="111.2" r="3.25" fill="#f6db22"/>
<circle cx="227.9" cy="209.4" r="3.25" fill="#e62523"/>
<circle cx="140.4" cy="127.8" r="3.25" fill="#ede526"/>
<circle cx="149.2" cy="134.7" r="3.25" fill="#f4e123"/>
<circle cx="161.5" cy="144.7" r="3.25" fill="#fcbb1e"/>
<circle cx="85.0" cy="62.0" r="3.25" fill="#7ac683"/>
<circle cx="162.3" cy="159.0" r="3.25" fill="#f6dc22"/>
<circle cx="224.0" cy="205.9" r="3.25" fill="#e82623"/>
<circle cx="108.1" cy="53.5" r="3.25" fill="#f1e424"/>
<circle cx="234.0" cy="210.7" r="3.25" fill="#bf1d1f"/>
<circle cx="149.6" cy="137.3" r="3.25" fill="#f4e023"/>
<circle cx="198.2" cy="198.5" r="3.25" fill="#f87a1d"/>
<circle cx="140.9" cy="100.9" r="3.25" fill="#fac820"/>
<circle cx="172.1" cy="189.9" r="3.25" fill="#f0e425"/>
<circle cx="186.1" cy="186.5" r="3.25" fill="#fc9f1c"/>
<circle cx="157.6" cy="148.2" r="3.25" fill="#f6dc22"/>
<circle cx="230.2" cy="211.6" r="3.25" fill="#e62523"/>
<circle cx="93.2" cy="68.0" r="3.25" fill="#a1d05e"/>
<circle cx="237.0" cy="210.1" r="3.25" fill="#95141a"/>
<circle cx="104.4" cy="40.4" r="3.25" fill="#fbbe1f"/>
<circle cx="212.1" cy="204.5" r="3.25" fill="#ef4423"/>
<circle cx="125.0" cy="126.6" r="3.25" fill="#9bcf63"/>
<circle cx="211.7" cy="195.5" r="3.25" fill="#ee3a23"/>
<circle cx="216.4" cy="206.0" r="3.25" fill="#ed3123"/>
<circle cx="140.8" cy="130.6" r="3.25" fill="#eae627"/>
<circle cx="102.6" cy="47.1" r="3.25" fill="#f3e224"/>
<circle cx="136.4" cy="114.8" r="3.25" fill="#eee525"/>
<circle cx="160.1" cy="178.4" r="3.25" fill="#dde22f"/>
<circle cx="139.9" cy="147.9" r="3.25" fill="#bfd944"/>
<circle cx="159.3" cy="150.6" r="3.25" fill="#f6dc22"/>
<circle cx="96.1" cy="37.2" r="3.25" fill="#f4e023"/>
<circle cx="184.3" cy="180.8" r="3.25" fill="#fc9e1c"/>
<circle cx="97.8" cy="83.8" r="3.25" fill="#89c973"/>
<circle cx="145.4" cy="141.8" r="3.25" fill="#ece526"/>
<circle cx="142.4" cy="140.6" r="3.25" fill="#e3e42b"/>
<circle cx="111.0" cy="92.9" r="3.25" fill="#bad848"/>
<circle cx="126.9" cy="87.4" r="3.25" fill="#f5dd23"/>
<circle cx="71.0" cy="69.7" r="3.25" fill="#45bcdf"/>
<circle cx="102.6" cy="36.3" r="3.25" fill="#f7db22"/>
<circle cx="198.2" cy="194.4" r="3.25" fill="#f8781d"/>
<circle cx="193.4" cy="199.4" r="3.25" fill="#fb8e1c"/>
<circle cx="87.6" cy="63.7" r="3.25" fill="#7fc67c"/>
<circle cx="163.1" cy="147.8" r="3.25" fill="#fcb71e"/>
<circle cx="139.8" cy="145.6" r="3.25" fill="#b6d74c"/>
<circle cx="107.2" cy="95.0" r="3.25" fill="#a3d15d"/>
<circle cx="144.0" cy="117.6" r="3.25" fill="#f6dd23"/>
<circle cx="212.0" cy="207.4" r="3.25" fill="#ef4323"/>
<circle cx="71.9" cy="64.2" r="3.25" fill="#52c0d1"/>
<circle cx="141.0" cy="148.1" r="3.25" fill="#b9d749"/>
<circle cx="91.9" cy="48.1" r="3.25" fill="#bcd846"/>
<circle cx="169.9" cy="161.0" r="3.25" fill="#fac820"/>
<circle cx="106.0" cy="58.8" r="3.25" fill="#e4e52b"/>
<circle cx="125.6" cy="92.0" r="3.25" fill="#f2e424"/>
<circle cx="168.4" cy="159.6" r="3.25" fill="#fbbf1f"/>
<circle cx="156.3" cy="143.7" r="3.25" fill="#f6dd23"/>
<circle cx="80.9" cy="43.8" r="3.25" fill="#79c687"/>
<circle cx="114.3" cy="85.7" r="3.25" fill="#dae231"/>
<circle cx="159.0" cy="138.4" r="3.25" fill="#f8d421"/>
<circle cx="108.9" cy="77.0" r="3.25" fill="#dee32e"/>
<circle cx="93.8" cy="70.9" r="3.25" fill="#9ccf62"/>
<circle cx="89.2" cy="54.6" r="3.25" fill="#95cd68"/>
<circle cx="113.2" cy="96.4" r="3.25" fill="#c4db3f"/>
<circle cx="203.7" cy="197.7" r="3.25" fill="#f35b20"/>
<circle cx="236.9" cy="209.0" r="3.25" fill="#8f131a"/>
<circle cx="109.3" cy="64.0" r="3.25" fill="#efe525"/>
<circle cx="110.4" cy="79.7" r="3.25" fill="#e4e52b"/>
<circle cx="191.4" cy="198.0" r="3.25" fill="#fc9b1c"/>
<circle cx="101.6" cy="62.8" r="3.25" fill="#e4e52b"/>
<circle cx="73.0" cy="70.3" r="3.25" fill="#50bfd4"/>
<circle cx="169.1" cy="183.1" r="3.25" fill="#f3e224"/>
<circle cx="160.1" cy="164.3" r="3.25" fill="#f2e424"/>
<circle cx="141.0" cy="97.8" r="3.25" fill="#fcab1d"/>
<circle cx="157.3" cy="147.0" r="3.25" fill="#f5dd23"/>
<circle cx="152.8" cy="153.8" r="3.25" fill="#e8e628"/>
<circle cx="71.4" cy="65.2" r="3.25" fill="#54c0cf"/>
<circle cx="86.2" cy="43.2" r="3.25" fill="#93cc6a"/>
<circle cx="170.4" cy="162.9" r="3.25" fill="#fcaf1d"/>
<circle cx="148.1" cy="114.3" r="3.25" fill="#fcb61e"/>
<circle cx="72.8" cy="66.3" r="3.25" fill="#57c1cc"/>
<circle cx="155.1" cy="157.7" r="3.25" fill="#ede526"/>
<circle cx="72.4" cy="70.0" r="3.25" fill="#58c1ca"/>
<circle cx="115.1" cy="99.3" r="3.25" fill="#b9d849"/>
<circle cx="122.4" cy="79.6" r="3.25" fill="#f6dc22"/>
<circle cx="160.8" cy="144.5" r="3.25" fill="#fbc21f"/>
<circle cx="142.9" cy="123.7" r="3.25" fill="#f3e224"/>
<circle cx="114.4" cy="89.7" r="3.25" fill="#d9e131"/>
<circle cx="240.0" cy="208.9" r="3.25" fill="#831118"/>
<circle cx="186.9" cy="191.4" r="3.25" fill="#fca31c"/>
<circle cx="227.8" cy="209.4" r="3.25" fill="#e72523"/>
<circle cx="125.4" cy="105.1" r="3.25" fill="#e6e529"/>
<circle cx="217.5" cy="211.7" r="3.25" fill="#ed3323"/>
<circle cx="184.8" cy="195.6" r="3.25" fill="#fc9f1c"/>
<circle cx="123.7" cy="102.7" r="3.25" fill="#e4e52a"/>
<circle cx="166.0" cy="165.6" r="3.25" fill="#f8d521"/>
<circle cx="127.1" cy="94.4" r="3.25" fill="#f0e425"/>
<circle cx="164.5" cy="172.0" r="3.25" fill="#f3e123"/>
<circle cx="197.2" cy="202.9" r="3.25" fill="#fa8a1c"/>
<circle cx="188.8" cy="200.7" r="3.25" fill="#fc9b1c"/>
<circle cx="224.6" cy="207.5" r="3.25" fill="#e62523"/>
<circle cx="161.9" cy="156.6" r="3.25" fill="#f6dd23"/>
<circle cx="73.8" cy="58.6" r="3.25" fill="#68c4ae"/>
<circle cx="125.6" cy="101.6" r="3.25" fill="#e6e529"/>
<circle cx="158.7" cy="150.8" r="3.25" fill="#f6dd23"/>
<circle cx="134.9" cy="86.0" r="3.25" fill="#fca81c"/>
<circle cx="152.0" cy="166.4" r="3.25" fill="#d0de37"/>
<circle cx="199.7" cy="202.5" r="3.25" fill="#f8741e"/>
<circle cx="180.9" cy="188.5" r="3.25" fill="#fcb91e"/>
<circle cx="117.5" cy="80.5" r="3.25" fill="#ede526"/>
<circle cx="103.6" cy="92.2" r="3.25" fill="#95cd68"/>
<circle cx="138.4" cy="93.5" r="3.25" fill="#fbbf1f"/>
<circle cx="105.4" cy="72.7" r="3.25" fill="#d8e132"/>
<circle cx="112.3" cy="102.6" r="3.25" fill="#9fd060"/>
<circle cx="82.2" cy="66.5" r="3.25" fill="#72c597"/>
<circle cx="144.4" cy="105.2" r="3.25" fill="#fca01c"/>
<circle cx="178.2" cy="182.0" r="3.25" fill="#fcb31d"/>
<circle cx="130.8" cy="92.5" r="3.25" fill="#f5de23"/>
<circle cx="120.0" cy="83.5" r="3.25" fill="#f0e425"/>
<circle cx="72.0" cy="62.4" r="3.25" fill="#5fc3c2"/>
<circle cx="109.0" cy="81.3" r="3.25" fill="#d1df36"/>
<circle cx="103.6" cy="64.6" r="3.25" fill="#dae231"/>
<circle cx="104.7" cy="44.1" r="3.25" fill="#fbc21f"/>
<circle cx="152.3" cy="137.3" r="3.25" fill="#f5dd23"/>
<circle cx="157.8" cy="161.1" r="3.25" fill="#f3e123"/>
<circle cx="215.5" cy="201.8" r="3.25" fill="#ee3723"/>
<circle cx="100.5" cy="85.8" r="3.25" fill="#90cb6d"/>
<circle cx="160.6" cy="156.4" r="3.25" fill="#f4df23"/>
<circle cx="211.5" cy="209.8" r="3.25" fill="#f04523"/>
<circle cx="109.4" cy="90.1" r="3.25" fill="#aed453"/>
<circle cx="123.6" cy="82.6" r="3.25" fill="#f4e023"/>
<circle cx="114.5" cy="106.2" r="3.25" fill="#9fd05f"/>
<circle cx="238.3" cy="208.7" r="3.25" fill="#95141a"/>
<circle cx="184.0" cy="174.6" r="3.25" fill="#fb971c"/>
<circle cx="102.0" cy="89.8" r="3.25" fill="#8dcb6f"/>
<circle cx="160.4" cy="153.4" r="3.25" fill="#f7d722"/>
<circle cx="99.3" cy="79.7" r="3.25" fill="#acd455"/>
<circle cx="169.4" cy="157.7" r="3.25" fill="#fc9c1c"/>
<circle cx="227.2" cy="211.5" r="3.25" fill="#e82723"/>
<circle cx="87.9" cy="43.7" r="3.25" fill="#a6d25a"/>
<circle cx="231.4" cy="205.2" r="3.25" fill="#d11f21"/>
<circle cx="74.7" cy="53.3" r="3.25" fill="#6bc4a7"/>
<circle cx="233.4" cy="211.7" r="3.25" fill="#af1a1d"/>
<circle cx="72.3" cy="72.7" r="3.25" fill="#40bbe5"/>
<circle cx="107.8" cy="67.5" r="3.25" fill="#e8e628"/>
<circle cx="131.3" cy="109.2" r="3.25" fill="#e8e628"/>
<circle cx="123.7" cy="89.4" r="3.25" fill="#f0e425"/>
<circle cx="138.0" cy="101.4" r="3.25" fill="#f6dc22"/>
<circle cx="118.1" cy="91.0" r="3.25" fill="#e4e52a"/>
<circle cx="75.1" cy="60.4" r="3.25" fill="#62c3bc"/>
<circle cx="189.8" cy="185.4" r="3.25" fill="#fb901c"/>
<circle cx="159.9" cy="142.0" r="3.25" fill="#fac820"/>
<circle cx="173.6" cy="177.8" r="3.25" fill="#fcb81e"/>
<circle cx="95.4" cy="34.4" r="3.25" fill="#f6db22"/>
<circle cx="214.7" cy="210.6" r="3.25" fill="#f04723"/>
<circle cx="139.2" cy="103.8" r="3.25" fill="#f6db22"/>
<circle cx="96.1" cy="58.8" r="3.25" fill="#dce22f"/>
<circle cx="129.8" cy="121.0" r="3.25" fill="#c9dc3b"/>
<circle cx="93.0" cy="36.0" r="3.25" fill="#dee32e"/>
<circle cx="71.4" cy="62.1" r="3.25" fill="#58c1ca"/>
<circle cx="98.4" cy="28.8" r="3.25" fill="#fcac1d"/>
<circle cx="222.1" cy="205.9" r="3.25" fill="#ec2f23"/>
<circle cx="98.8" cy="45.7" r="3.25" fill="#f1e425"/>
<circle cx="204.5" cy="190.7" r="3.25" fill="#f35921"/>
<circle cx="107.5" cy="79.2" r="3.25" fill="#d2df36"/>
<circle cx="156.2" cy="132.1" r="3.25" fill="#f8d421"/>
<circle cx="141.0" cy="138.2" r="3.25" fill="#dfe32d"/>
<circle cx="72.6" cy="61.8" r="3.25" fill="#5ac2c8"/>
<circle cx="119.1" cy="114.6" r="3.25" fill="#a4d15c"/>
<circle cx="187.7" cy="180.3" r="3.25" fill="#fb901c"/>
<circle cx="77.4" cy="49.7" r="3.25" fill="#71c59a"/>
<circle cx="180.5" cy="174.5" r="3.25" fill="#fca71c"/>
<circle cx="76.5" cy="52.7" r="3.25" fill="#6ec59f"/>
<circle cx="233.9" cy="207.2" r="3.25" fill="#e42223"/>
<circle cx="208.1" cy="200.9" r="3.25" fill="#f25022"/>
<circle cx="74.9" cy="55.6" r="3.25" fill="#6ac4aa"/>
<circle cx="139.4" cy="125.6" r="3.25" fill="#eae627"/>
<circle cx="110.2" cy="99.5" r="3.25" fill="#a1d05e"/>
<circle cx="80.7" cy="46.9" r="3.25" fill="#77c58c"/>
<circle cx="107.3" cy="47.9" r="3.25" fill="#f6dc22"/>
<circle cx="118.2" cy="95.7" r="3.25" fill="#e0e42d"/>
<circle cx="152.3" cy="138.6" r="3.25" fill="#f3e123"/>
<circle cx="147.5" cy="161.2" r="3.25" fill="#d7e132"/>
<circle cx="107.2" cy="96.6" r="3.25" fill="#91cc6c"/>
<circle cx="156.6" cy="158.5" r="3.25" fill="#ece526"/>
<circle cx="137.2" cy="136.5" r="3.25" fill="#b6d74b"/>
<circle cx="74.0" cy="64.0" r="3.25" fill="#5ec3c4"/>
<circle cx="184.9" cy="178.2" r="3.25" fill="#fc9b1c"/>
<circle cx="230.8" cy="206.4" r="3.25" fill="#e72523"/>
<circle cx="170.7" cy="180.6" r="3.25" fill="#f4df23"/>
<circle cx="149.9" cy="151.6" r="3.25" fill="#eae627"/>
<circle cx="155.0" cy="142.5" r="3.25" fill="#f4df23"/>
<circle cx="191.3" cy="194.9" r="3.25" fill="#fb961c"/>
<circle cx="214.9" cy="200.2" r="3.25" fill="#ef4123"/>
<circle cx="97.6" cy="80.7" r="3.25" fill="#8bca71"/>
<circle cx="182.0" cy="194.3" r="3.25" fill="#fac51f"/>
<circle cx="214.2" cy="197.8" r="3.25" fill="#ec3023"/>
<circle cx="100.7" cy="75.2" r="3.25" fill="#aed453"/>
<circle cx="124.2" cy="124.0" r="3.25" fill="#9ed060"/>
<circle cx="180.7" cy="182.2" r="3.25" fill="#fbc01f"/>
<circle cx="230.1" cy="213.4" r="3.25" fill="#e62523"/>
<circle cx="123.8" cy="76.5" r="3.25" fill="#f8d321"/>
<circle cx="119.4" cy="98.0" r="3.25" fill="#d6e033"/>
<circle cx="187.2" cy="194.1" r="3.25" fill="#fca01c"/>
<circle cx="214.7" cy="206.0" r="3.25" fill="#ed3123"/>
<circle cx="207.9" cy="196.8" r="3.25" fill="#f25321"/>
<circle cx="88.2" cy="69.7" r="3.25" fill="#7cc680"/>
<circle cx="203.3" cy="196.8" r="3.25" fill="#f46020"/>
<circle cx="134.9" cy="97.1" r="3.25" fill="#f7db22"/>
<circle cx="148.2" cy="149.2" r="3.25" fill="#e5e52a"/>
<circle cx="115.5" cy="71.4" r="3.25" fill="#f4df23"/>
<circle cx="170.7" cy="179.0" r="3.25" fill="#f5de23"/>
<circle cx="96.9" cy="60.0" r="3.25" fill="#dfe32d"/>
<circle cx="140.3" cy="107.7" r="3.25" fill="#f5df23"/>
<circle cx="115.5" cy="111.6" r="3.25" fill="#94cd69"/>
<circle cx="121.2" cy="68.6" r="3.25" fill="#fcba1e"/>
<circle cx="129.2" cy="110.0" r="3.25" fill="#e9e628"/>
<circle cx="80.5" cy="54.2" r="3.25" fill="#75c590"/>
<circle cx="165.3" cy="173.6" r="3.25" fill="#f3e123"/>
<circle cx="125.1" cy="78.6" r="3.25" fill="#f8d221"/>
<circle cx="141.8" cy="101.3" r="3.25" fill="#fcb91e"/>
<circle cx="168.3" cy="176.8" r="3.25" fill="#f7d822"/>
<circle cx="105.8" cy="50.9" r="3.25" fill="#eee526"/>
<circle cx="215.7" cy="203.1" r="3.25" fill="#ed3123"/>
<circle cx="107.0" cy="87.4" r="3.25" fill="#b2d54f"/>
<circle cx="169.1" cy="188.1" r="3.25" fill="#e9e627"/>
<circle cx="138.2" cy="111.1" r="3.25" fill="#f2e324"/>
<circle cx="132.1" cy="123.5" r="3.25" fill="#d2df36"/>
<circle cx="200.4" cy="196.0" r="3.25" fill="#f6681f"/>
<circle cx="89.6" cy="54.2" r="3.25" fill="#a8d258"/>
<circle cx="72.2" cy="73.1" r="3.25" fill="#43bbe2"/>
<circle cx="98.0" cy="48.6" r="3.25" fill="#f0e425"/>
<circle cx="193.2" cy="184.2" r="3.25" fill="#fb8e1c"/>
<circle cx="199.5" cy="205.0" r="3.25" fill="#f6691f"/>
<circle cx="84.3" cy="33.6" r="3.25" fill="#9dcf62"/>
<circle cx="104.6" cy="52.7" r="3.25" fill="#f1e424"/>
<circle cx="176.4" cy="173.7" r="3.25" fill="#fcaf1d"/>
<circle cx="144.9" cy="131.7" r="3.25" fill="#f3e324"/>
<circle cx="117.5" cy="67.5" r="3.25" fill="#f6dd23"/>
<circle cx="115.1" cy="63.3" r="3.25" fill="#fcb21d"/>
<circle cx="239.8" cy="210.4" r="3.25" fill="#8c1219"/>
<circle cx="158.1" cy="161.2" r="3.25" fill="#f2e424"/>
<circle cx="127.6" cy="128.1" r="3.25" fill="#9ccf62"/>
<circle cx="168.9" cy="178.5" r="3.25" fill="#f3e224"/>
<circle cx="242.1" cy="208.3" r="3.25" fill="#821118"/>
<circle cx="166.3" cy="181.0" r="3.25" fill="#ede526"/>
<circle cx="87.7" cy="42.8" r="3.25" fill="#9fd05f"/>
<circle cx="156.5" cy="127.0" r="3.25" fill="#fcb71e"/>
<circle cx="187.1" cy="176.6" r="3.25" fill="#fb8f1c"/>
<circle cx="220.8" cy="212.6" r="3.25" fill="#ed3423"/>
<circle cx="174.3" cy="171.7" r="3.25" fill="#fcb71e"/>
<circle cx="130.4" cy="81.0" r="3.25" fill="#fcbc1e"/>
<circle cx="125.1" cy="76.1" r="3.25" fill="#fcae1d"/>
<circle cx="105.2" cy="55.3" r="3.25" fill="#e8e628"/>
<circle cx="99.8" cy="62.3" r="3.25" fill="#dee32e"/>
<circle cx="141.9" cy="151.3" r="3.25" fill="#c4db3f"/>
<circle cx="121.4" cy="72.9" r="3.25" fill="#f7d722"/>
<circle cx="93.9" cy="49.3" r="3.25" fill="#c7dc3d"/>
<circle cx="156.0" cy="122.4" r="3.25" fill="#fca41c"/>
<circle cx="221.2" cy="210.8" r="3.25" fill="#eb2e23"/>
<circle cx="180.8" cy="197.5" r="3.25" fill="#fac720"/>
<circle cx="171.4" cy="165.5" r="3.25" fill="#fcb01d"/>
<circle cx="143.6" cy="114.4" r="3.25" fill="#f6dd23"/>
<circle cx="223.2" cy="202.0" r="3.25" fill="#eb2e23"/>
<circle cx="136.5" cy="87.3" r="3.25" fill="#fca01c"/>
<circle cx="204.5" cy="193.7" r="3.25" fill="#f04a23"/>
<circle cx="174.1" cy="163.9" r="3.25" fill="#fca81d"/>
<circle cx="143.2" cy="106.0" r="3.25" fill="#fcbc1e"/>
<circle cx="71.3" cy="68.3" r="3.25" fill="#56c0cd"/>
<circle cx="145.5" cy="106.6" r="3.25" fill="#fcac1d"/>
<circle cx="106.3" cy="74.5" r="3.25" fill="#d8e132"/>
<circle cx="181.0" cy="184.4" r="3.25" fill="#fca51c"/>
<circle cx="181.4" cy="179.2" r="3.25" fill="#fca11c"/>
<circle cx="232.2" cy="209.9" r="3.25" fill="#e42223"/>
<circle cx="178.8" cy="180.3" r="3.25" fill="#fcb21d"/>
<circle cx="137.5" cy="108.4" r="3.25" fill="#f4df23"/>
<circle cx="103.2" cy="86.5" r="3.25" fill="#9ecf61"/>
<circle cx="131.3" cy="129.7" r="3.25" fill="#bad848"/>
<circle cx="79.6" cy="50.1" r="3.25" fill="#7dc67e"/>
<circle cx="123.1" cy="72.5" r="3.25" fill="#fac920"/>
<circle cx="187.5" cy="183.5" r="3.25" fill="#fb8e1c"/>
<circle cx="149.5" cy="148.0" r="3.25" fill="#eae627"/>
<circle cx="159.3" cy="173.8" r="3.25" fill="#e5e52a"/>
<circle cx="172.2" cy="165.1" r="3.25" fill="#fca41c"/>
<circle cx="176.7" cy="187.8" r="3.25" fill="#fac720"/>
<circle cx="207.8" cy="191.5" r="3.25" fill="#ef4323"/>
<circle cx="92.6" cy="57.6" r="3.25" fill="#b6d74c"/>
<circle cx="225.4" cy="203.2" r="3.25" fill="#e92823"/>
<circle cx="238.2" cy="207.6" r="3.25" fill="#8c1219"/>
<circle cx="187.9" cy="197.0" r="3.25" fill="#fc9d1c"/>
<circle cx="239.5" cy="210.9" r="3.25" fill="#8d1219"/>
<circle cx="121.2" cy="96.4" r="3.25" fill="#e2e42c"/>
<circle cx="114.0" cy="69.2" r="3.25" fill="#f4df23"/>
<circle cx="223.8" cy="212.4" r="3.25" fill="#ea2b23"/>
<circle cx="192.0" cy="189.9" r="3.25" fill="#f9811d"/>
<circle cx="132.5" cy="86.4" r="3.25" fill="#fbc11f"/>
<circle cx="209.3" cy="203.2" r="3.25" fill="#f04523"/>
<circle cx="125.4" cy="85.8" r="3.25" fill="#f4e123"/>
<circle cx="142.4" cy="133.4" r="3.25" fill="#eae627"/>
<circle cx="170.6" cy="172.9" r="3.25" fill="#f8d121"/>
<circle cx="78.8" cy="41.9" r="3.25" fill="#79c686"/>
<circle cx="193.5" cy="197.6" r="3.25" fill="#fb8d1c"/>
<circle cx="87.4" cy="31.4" r="3.25" fill="#a5d15b"/>
<circle cx="224.6" cy="208.7" r="3.25" fill="#ea2b23"/>
<circle cx="166.9" cy="176.6" r="3.25" fill="#f2e324"/>
<circle cx="199.8" cy="201.0" r="3.25" fill="#f8781d"/>
<circle cx="141.3" cy="125.8" r="3.25" fill="#f0e425"/>
<circle cx="104.5" cy="58.7" r="3.25" fill="#e8e628"/>
</g>
<rect x="45.3" y="19.4" width="207.2" height="201.8" fill="none" stroke="#2b2b2b" stroke-width="1"/>
<line x1="51.3" y1="221.2" x2="51.3" y2="225.0" stroke="#2b2b2b" stroke-width="1"/>
<text x="51.3" y="238.6" font-size="12.4" text-anchor="middle" fill="#1a1a1a">0</text>
<line x1="103.3" y1="221.2" x2="103.3" y2="225.0" stroke="#2b2b2b" stroke-width="1"/>
<text x="103.3" y="238.6" font-size="12.4" text-anchor="middle" fill="#1a1a1a">50</text>
<line x1="155.3" y1="221.2" x2="155.3" y2="225.0" stroke="#2b2b2b" stroke-width="1"/>
<text x="155.3" y="238.6" font-size="12.4" text-anchor="middle" fill="#1a1a1a">100</text>
<line x1="207.3" y1="221.2" x2="207.3" y2="225.0" stroke="#2b2b2b" stroke-width="1"/>
<text x="207.3" y="238.6" font-size="12.4" text-anchor="middle" fill="#1a1a1a">150</text>
<line x1="41.5" y1="212.4" x2="45.3" y2="212.4" stroke="#2b2b2b" stroke-width="1"/>
<text transform="translate(36.3,208.2) rotate(-90)" font-size="12.4" text-anchor="end" fill="#1a1a1a">0</text>
<line x1="41.5" y1="172.6" x2="45.3" y2="172.6" stroke="#2b2b2b" stroke-width="1"/>
<text transform="translate(36.3,168.4) rotate(-90)" font-size="12.4" text-anchor="end" fill="#1a1a1a">300</text>
<line x1="41.5" y1="132.9" x2="45.3" y2="132.9" stroke="#2b2b2b" stroke-width="1"/>
<text transform="translate(36.3,128.7) rotate(-90)" font-size="12.4" text-anchor="end" fill="#1a1a1a">600</text>
<line x1="41.5" y1="93.2" x2="45.3" y2="93.2" stroke="#2b2b2b" stroke-width="1"/>
<text transform="translate(36.3,89.0) rotate(-90)" font-size="12.4" text-anchor="end" fill="#1a1a1a">900</text>
<line x1="41.5" y1="53.6" x2="45.3" y2="53.6" stroke="#2b2b2b" stroke-width="1"/>
<text transform="translate(36.3,49.4) rotate(-90)" font-size="12.4" text-anchor="end" fill="#1a1a1a">1200</text>
<text x="148.9" y="255.2" font-size="12.7" text-anchor="middle" fill="#1a1a1a">Density (veh/km)</text>
<text transform="translate(19.7,120.3) rotate(-90)" font-size="12.7" text-anchor="middle" fill="#1a1a1a">Flow (veh/h)</text>
<text x="148.9" y="34.7" font-size="16.5" font-weight="bold" text-anchor="middle" fill="#1a1a1a">A</text>
<g>
<circle cx="326.7" cy="213.7" r="3.25" fill="#232d7d"/>
<circle cx="323.0" cy="212.2" r="3.25" fill="#232d7d"/>
<circle cx="325.3" cy="212.2" r="3.25" fill="#232d7d"/>
<circle cx="324.1" cy="211.2" r="3.25" fill="#232d7d"/>
<circle cx="325.9" cy="211.1" r="3.25" fill="#232e7e"/>
<circle cx="323.2" cy="209.7" r="3.25" fill="#242f80"/>
<circle cx="323.7" cy="209.2" r="3.25" fill="#263387"/>
<circle cx="327.9" cy="209.7" r="3.25" fill="#243083"/>
<circle cx="324.9" cy="208.3" r="3.25" fill="#242f80"/>
<circle cx="324.0" cy="207.5" r="3.25" fill="#28388f"/>
<circle cx="328.3" cy="208.0" r="3.25" fill="#263489"/>
<circle cx="328.4" cy="207.4" r="3.25" fill="#253284"/>
<circle cx="324.6" cy="205.8" r="3.25" fill="#263489"/>
<circle cx="324.8" cy="205.2" r="3.25" fill="#253285"/>
<circle cx="324.9" cy="204.6" r="3.25" fill="#283991"/>
<circle cx="325.9" cy="204.2" r="3.25" fill="#293d97"/>
<circle cx="327.8" cy="204.1" r="3.25" fill="#293a93"/>
<circle cx="326.8" cy="203.2" r="3.25" fill="#27368c"/>
<circle cx="327.9" cy="202.9" r="3.25" fill="#283a92"/>
<circle cx="327.5" cy="202.2" r="3.25" fill="#293a93"/>
<circle cx="325.5" cy="201.0" r="3.25" fill="#293b95"/>
<circle cx="328.1" cy="201.1" r="3.25" fill="#293c95"/>
<circle cx="330.0" cy="201.0" r="3.25" fill="#2a4099"/>
<circle cx="329.0" cy="200.1" r="3.25" fill="#293d97"/>
<circle cx="326.5" cy="198.8" r="3.25" fill="#293c95"/>
<circle cx="329.4" cy="198.9" r="3.25" fill="#2a419a"/>
<circle cx="326.8" cy="197.8" r="3.25" fill="#2a4099"/>
<circle cx="328.6" cy="197.5" r="3.25" fill="#2a439c"/>
<circle cx="327.0" cy="196.6" r="3.25" fill="#2a419a"/>
<circle cx="330.8" cy="196.7" r="3.25" fill="#2a419a"/>
<circle cx="328.2" cy="195.6" r="3.25" fill="#2a459f"/>
<circle cx="329.2" cy="195.2" r="3.25" fill="#2a449d"/>
<circle cx="329.7" cy="194.7" r="3.25" fill="#2b469f"/>
<circle cx="329.9" cy="194.1" r="3.25" fill="#2b49a2"/>
<circle cx="330.3" cy="193.6" r="3.25" fill="#2a439d"/>
<circle cx="330.0" cy="192.9" r="3.25" fill="#2a3f99"/>
<circle cx="330.4" cy="192.4" r="3.25" fill="#2a429b"/>
<circle cx="330.7" cy="191.8" r="3.25" fill="#2a459f"/>
<circle cx="327.8" cy="190.6" r="3.25" fill="#2b469f"/>
<circle cx="331.9" cy="190.8" r="3.25" fill="#2a459f"/>
<circle cx="330.6" cy="190.0" r="3.25" fill="#2a459e"/>
<circle cx="328.4" cy="188.9" r="3.25" fill="#2b4aa3"/>
<circle cx="328.7" cy="188.3" r="3.25" fill="#2b4ca6"/>
<circle cx="330.0" cy="188.0" r="3.25" fill="#2b47a1"/>
<circle cx="332.4" cy="187.9" r="3.25" fill="#2b47a1"/>
<circle cx="328.7" cy="186.5" r="3.25" fill="#2b4ba5"/>
<circle cx="332.9" cy="186.7" r="3.25" fill="#2a459e"/>
<circle cx="333.0" cy="186.2" r="3.25" fill="#2b47a1"/>
<circle cx="332.6" cy="185.5" r="3.25" fill="#2c4fa9"/>
<circle cx="331.1" cy="184.5" r="3.25" fill="#2b49a3"/>
<circle cx="329.3" cy="183.6" r="3.25" fill="#2b4ca5"/>
<circle cx="330.0" cy="183.1" r="3.25" fill="#2c50aa"/>
<circle cx="332.7" cy="183.0" r="3.25" fill="#2c50aa"/>
<circle cx="332.9" cy="182.5" r="3.25" fill="#2c50aa"/>
<circle cx="330.2" cy="181.3" r="3.25" fill="#2c4ea8"/>
<circle cx="330.4" cy="180.7" r="3.25" fill="#2d59b1"/>
<circle cx="334.3" cy="180.9" r="3.25" fill="#2c4ea8"/>
<circle cx="334.2" cy="180.3" r="3.25" fill="#2b4ca6"/>
<circle cx="334.0" cy="179.6" r="3.25" fill="#2c4ea8"/>
<circle cx="334.6" cy="179.1" r="3.25" fill="#2c4da7"/>
<circle cx="332.0" cy="178.0" r="3.25" fill="#2e62b8"/>
<circle cx="330.8" cy="177.1" r="3.25" fill="#2d5cb3"/>
<circle cx="334.9" cy="177.3" r="3.25" fill="#2e60b6"/>
<circle cx="334.8" cy="176.7" r="3.25" fill="#2e68bc"/>
<circle cx="335.1" cy="176.2" r="3.25" fill="#2e66ba"/>
<circle cx="333.2" cy="175.2" r="3.25" fill="#2e63b8"/>
<circle cx="332.8" cy="174.5" r="3.25" fill="#2e68bc"/>
<circle cx="335.4" cy="174.4" r="3.25" fill="#2e63b8"/>
<circle cx="334.9" cy="173.7" r="3.25" fill="#2f6cbf"/>
<circle cx="335.5" cy="173.2" r="3.25" fill="#2d5db4"/>
<circle cx="336.0" cy="172.7" r="3.25" fill="#2f6dbf"/>
<circle cx="335.9" cy="172.0" r="3.25" fill="#3078c8"/>
<circle cx="332.3" cy="170.7" r="3.25" fill="#2e67bb"/>
<circle cx="332.0" cy="170.0" r="3.25" fill="#2f73c4"/>
<circle cx="334.9" cy="170.0" r="3.25" fill="#2f70c2"/>
<circle cx="332.2" cy="168.9" r="3.25" fill="#2e67bb"/>
<circle cx="333.6" cy="168.5" r="3.25" fill="#2f70c2"/>
<circle cx="332.6" cy="167.7" r="3.25" fill="#3286d0"/>
<circle cx="336.8" cy="167.9" r="3.25" fill="#317cca"/>
<circle cx="332.6" cy="166.5" r="3.25" fill="#3490d5"/>
<circle cx="337.0" cy="166.8" r="3.25" fill="#338ad1"/>
<circle cx="333.5" cy="165.4" r="3.25" fill="#3075c6"/>
<circle cx="337.0" cy="165.5" r="3.25" fill="#3077c7"/>
<circle cx="334.1" cy="164.3" r="3.25" fill="#3283ce"/>
<circle cx="334.7" cy="163.9" r="3.25" fill="#3078c8"/>
<circle cx="336.4" cy="163.6" r="3.25" fill="#3286cf"/>
<circle cx="334.2" cy="162.5" r="3.25" fill="#369ddc"/>
<circle cx="335.9" cy="162.2" r="3.25" fill="#369fdd"/>
<circle cx="337.9" cy="162.0" r="3.25" fill="#3597d8"/>
<circle cx="337.8" cy="161.4" r="3.25" fill="#3285cf"/>
<circle cx="334.1" cy="160.1" r="3.25" fill="#37a4e0"/>
<circle cx="336.9" cy="160.0" r="3.25" fill="#37a6e1"/>
<circle cx="334.4" cy="158.9" r="3.25" fill="#38ade4"/>
<circle cx="336.4" cy="158.7" r="3.25" fill="#3495d8"/>
<circle cx="338.4" cy="158.5" r="3.25" fill="#39b0e6"/>
<circle cx="334.7" cy="157.1" r="3.25" fill="#37a4e0"/>
<circle cx="335.5" cy="156.7" r="3.25" fill="#45bcdf"/>
<circle cx="338.7" cy="156.8" r="3.25" fill="#38aae3"/>
<circle cx="335.3" cy="155.3" r="3.25" fill="#38ace4"/>
<circle cx="335.4" cy="154.7" r="3.25" fill="#3fbae6"/>
<circle cx="339.3" cy="155.1" r="3.25" fill="#41bbe3"/>
<circle cx="339.3" cy="154.5" r="3.25" fill="#40bbe5"/>
<circle cx="339.8" cy="154.0" r="3.25" fill="#3bb9ea"/>
<circle cx="338.3" cy="153.0" r="3.25" fill="#41bbe3"/>
<circle cx="335.9" cy="151.8" r="3.25" fill="#4dbed6"/>
<circle cx="336.2" cy="151.2" r="3.25" fill="#48bddc"/>
<circle cx="338.6" cy="151.2" r="3.25" fill="#51bfd2"/>
<circle cx="340.2" cy="151.0" r="3.25" fill="#4ebed5"/>
<circle cx="336.5" cy="149.4" r="3.25" fill="#42bbe3"/>
<circle cx="340.7" cy="149.9" r="3.25" fill="#45bcdf"/>
<circle cx="336.6" cy="148.2" r="3.25" fill="#58c1cb"/>
<circle cx="337.0" cy="147.7" r="3.25" fill="#64c4b6"/>
<circle cx="337.0" cy="147.1" r="3.25" fill="#5ac2c9"/>
<circle cx="337.8" cy="146.7" r="3.25" fill="#5cc2c6"/>
<circle cx="341.6" cy="147.0" r="3.25" fill="#51bfd2"/>
<circle cx="337.8" cy="145.2" r="3.25" fill="#65c4b4"/>
<circle cx="339.7" cy="145.3" r="3.25" fill="#59c1ca"/>
<circle cx="341.6" cy="145.3" r="3.25" fill="#60c3c0"/>
<circle cx="341.9" cy="144.8" r="3.25" fill="#55c0ce"/>
<circle cx="342.4" cy="144.4" r="3.25" fill="#58c1cb"/>
<circle cx="342.4" cy="143.7" r="3.25" fill="#5bc2c8"/>
<circle cx="342.2" cy="143.0" r="3.25" fill="#65c4b5"/>
<circle cx="339.2" cy="141.3" r="3.25" fill="#6dc4a2"/>
<circle cx="340.8" cy="141.2" r="3.25" fill="#67c4af"/>
<circle cx="339.8" cy="140.2" r="3.25" fill="#66c4b3"/>
<circle cx="343.6" cy="141.0" r="3.25" fill="#66c4b3"/>
<circle cx="341.7" cy="139.6" r="3.25" fill="#65c4b6"/>
<circle cx="344.2" cy="139.9" r="3.25" fill="#6bc4a7"/>
<circle cx="340.2" cy="137.8" r="3.25" fill="#69c4ac"/>
<circle cx="499.0" cy="44.4" r="3.25" fill="#d92022"/>
<circle cx="499.8" cy="43.9" r="3.25" fill="#be1c1f"/>
<circle cx="499.1" cy="42.2" r="3.25" fill="#b11a1e"/>
<circle cx="500.6" cy="42.3" r="3.25" fill="#bc1c1f"/>
<circle cx="500.4" cy="40.9" r="3.25" fill="#ae1a1d"/>
<circle cx="500.8" cy="40.0" r="3.25" fill="#a8181d"/>
<circle cx="501.8" cy="39.7" r="3.25" fill="#a6181c"/>
<circle cx="502.3" cy="39.0" r="3.25" fill="#9c161b"/>
<circle cx="502.6" cy="38.1" r="3.25" fill="#a0161c"/>
<circle cx="503.9" cy="38.0" r="3.25" fill="#94141a"/>
<circle cx="503.7" cy="36.6" r="3.25" fill="#96141b"/>
<circle cx="504.2" cy="35.9" r="3.25" fill="#8e131a"/>
<circle cx="505.0" cy="35.2" r="3.25" fill="#8b1219"/>
<circle cx="505.6" cy="34.6" r="3.25" fill="#8b1219"/>
<circle cx="506.2" cy="33.9" r="3.25" fill="#8d1219"/>
<circle cx="507.8" cy="34.2" r="3.25" fill="#8c1219"/>
<circle cx="508.2" cy="33.4" r="3.25" fill="#871219"/>
<circle cx="509.4" cy="33.3" r="3.25" fill="#8a1219"/>
<circle cx="508.8" cy="31.4" r="3.25" fill="#861219"/>
<circle cx="509.5" cy="30.9" r="3.25" fill="#801118"/>
<circle cx="511.1" cy="31.2" r="3.25" fill="#801118"/>
<circle cx="343.5" cy="124.6" r="3.25" fill="#7fc77b"/>
<circle cx="389.4" cy="93.9" r="3.25" fill="#f4e023"/>
<circle cx="385.8" cy="97.0" r="3.25" fill="#ede526"/>
<circle cx="402.9" cy="93.5" r="3.25" fill="#f2e424"/>
<circle cx="386.0" cy="107.7" r="3.25" fill="#c7dc3d"/>
<circle cx="384.5" cy="123.1" r="3.25" fill="#8dcb6f"/>
<circle cx="371.4" cy="126.2" r="3.25" fill="#85c876"/>
<circle cx="459.9" cy="77.7" r="3.25" fill="#fcad1d"/>
<circle cx="474.3" cy="63.2" r="3.25" fill="#f5621f"/>
<circle cx="396.0" cy="95.4" r="3.25" fill="#f0e425"/>
<circle cx="370.3" cy="117.6" r="3.25" fill="#b1d551"/>
<circle cx="371.7" cy="122.0" r="3.25" fill="#97ce66"/>
<circle cx="410.2" cy="109.8" r="3.25" fill="#b9d749"/>
<circle cx="423.1" cy="90.8" r="3.25" fill="#f6dc22"/>
<circle cx="348.7" cy="110.5" r="3.25" fill="#bad848"/>
<circle cx="347.8" cy="122.2" r="3.25" fill="#8fcb6e"/>
<circle cx="403.5" cy="99.2" r="3.25" fill="#ebe527"/>
<circle cx="490.7" cy="47.4" r="3.25" fill="#e52323"/>
<circle cx="347.0" cy="130.3" r="3.25" fill="#85c876"/>
<circle cx="376.7" cy="112.9" r="3.25" fill="#a6d25a"/>
<circle cx="357.7" cy="107.6" r="3.25" fill="#d4e035"/>
<circle cx="365.7" cy="92.2" r="3.25" fill="#f1e424"/>
<circle cx="406.9" cy="107.1" r="3.25" fill="#ccdd3a"/>
<circle cx="415.8" cy="108.1" r="3.25" fill="#c3da41"/>
<circle cx="463.5" cy="63.0" r="3.25" fill="#f5621f"/>
<circle cx="484.4" cy="54.8" r="3.25" fill="#ed3523"/>
<circle cx="367.3" cy="117.2" r="3.25" fill="#98ce66"/>
<circle cx="354.3" cy="124.1" r="3.25" fill="#8ecb6e"/>
<circle cx="479.3" cy="61.7" r="3.25" fill="#f14d22"/>
<circle cx="458.5" cy="80.6" r="3.25" fill="#fca81d"/>
<circle cx="469.2" cy="69.1" r="3.25" fill="#f8751e"/>
<circle cx="406.9" cy="99.2" r="3.25" fill="#e2e42c"/>
<circle cx="466.5" cy="60.8" r="3.25" fill="#f45e20"/>
<circle cx="395.7" cy="110.8" r="3.25" fill="#c6db3e"/>
<circle cx="367.3" cy="95.0" r="3.25" fill="#f3e224"/>
<circle cx="453.1" cy="78.9" r="3.25" fill="#fb941c"/>
<circle cx="466.5" cy="64.2" r="3.25" fill="#fa831d"/>
<circle cx="409.6" cy="98.8" r="3.25" fill="#e8e628"/>
<circle cx="352.0" cy="110.9" r="3.25" fill="#d2df36"/>
<circle cx="351.7" cy="107.8" r="3.25" fill="#d4e035"/>
<circle cx="490.3" cy="52.1" r="3.25" fill="#ec3023"/>
<circle cx="479.8" cy="52.1" r="3.25" fill="#ec2f23"/>
<circle cx="469.2" cy="65.4" r="3.25" fill="#f6691f"/>
<circle cx="360.7" cy="99.3" r="3.25" fill="#e2e42c"/>
<circle cx="449.4" cy="82.5" r="3.25" fill="#f9ca20"/>
<circle cx="396.4" cy="98.4" r="3.25" fill="#e5e52a"/>
<circle cx="405.4" cy="112.1" r="3.25" fill="#b9d749"/>
<circle cx="392.3" cy="111.6" r="3.25" fill="#bdd946"/>
<circle cx="391.9" cy="89.8" r="3.25" fill="#f3e324"/>
<circle cx="415.4" cy="93.6" r="3.25" fill="#f3e324"/>
<circle cx="383.5" cy="89.8" r="3.25" fill="#f1e424"/>
<circle cx="496.3" cy="49.2" r="3.25" fill="#e92823"/>
<circle cx="392.9" cy="115.3" r="3.25" fill="#aed453"/>
<circle cx="417.5" cy="90.0" r="3.25" fill="#f5dd23"/>
<circle cx="433.8" cy="93.3" r="3.25" fill="#f2e424"/>
<circle cx="467.3" cy="70.4" r="3.25" fill="#f8791d"/>
<circle cx="431.8" cy="91.4" r="3.25" fill="#f3e123"/>
<circle cx="388.1" cy="114.5" r="3.25" fill="#aad357"/>
<circle cx="394.5" cy="100.1" r="3.25" fill="#d9e131"/>
<circle cx="484.5" cy="58.9" r="3.25" fill="#ee3b23"/>
<circle cx="462.1" cy="67.2" r="3.25" fill="#f8791d"/>
<circle cx="360.8" cy="109.3" r="3.25" fill="#bcd846"/>
<circle cx="400.8" cy="99.9" r="3.25" fill="#d6e033"/>
<circle cx="398.7" cy="94.2" r="3.25" fill="#efe525"/>
<circle cx="396.2" cy="87.4" r="3.25" fill="#fac620"/>
<circle cx="471.8" cy="64.8" r="3.25" fill="#f9801d"/>
<circle cx="412.2" cy="88.3" r="3.25" fill="#f9cd20"/>
<circle cx="397.8" cy="101.0" r="3.25" fill="#e2e42c"/>
<circle cx="381.1" cy="105.1" r="3.25" fill="#d9e131"/>
<circle cx="430.4" cy="84.1" r="3.25" fill="#fc9f1c"/>
<circle cx="380.4" cy="126.8" r="3.25" fill="#7ac684"/>
<circle cx="397.3" cy="89.8" r="3.25" fill="#f5df23"/>
<circle cx="401.9" cy="90.9" r="3.25" fill="#f3e224"/>
<circle cx="418.1" cy="97.9" r="3.25" fill="#eae627"/>
<circle cx="418.6" cy="92.8" r="3.25" fill="#f3e324"/>
<circle cx="421.7" cy="104.6" r="3.25" fill="#dee32e"/>
<circle cx="379.4" cy="94.4" r="3.25" fill="#f2e424"/>
<circle cx="364.0" cy="102.0" r="3.25" fill="#d2df36"/>
<circle cx="394.1" cy="87.5" r="3.25" fill="#fac920"/>
<circle cx="350.7" cy="117.6" r="3.25" fill="#a6d25a"/>
<circle cx="438.1" cy="89.2" r="3.25" fill="#f7db22"/>
<circle cx="485.7" cy="49.9" r="3.25" fill="#e92923"/>
<circle cx="368.5" cy="125.5" r="3.25" fill="#8fcb6e"/>
<circle cx="447.7" cy="73.8" r="3.25" fill="#fc9b1c"/>
<circle cx="385.3" cy="114.1" r="3.25" fill="#b1d550"/>
<circle cx="487.0" cy="53.1" r="3.25" fill="#ec3023"/>
<circle cx="430.4" cy="94.7" r="3.25" fill="#f2e424"/>
<circle cx="359.7" cy="111.7" r="3.25" fill="#bbd847"/>
<circle cx="411.7" cy="93.6" r="3.25" fill="#ece526"/>
<circle cx="389.6" cy="96.9" r="3.25" fill="#e8e628"/>
<circle cx="348.5" cy="119.7" r="3.25" fill="#a2d15d"/>
<circle cx="341.0" cy="136.9" r="3.25" fill="#68c4ad"/>
<circle cx="410.3" cy="91.5" r="3.25" fill="#f3e224"/>
<circle cx="492.1" cy="54.9" r="3.25" fill="#ee3823"/>
<circle cx="385.9" cy="93.4" r="3.25" fill="#e8e628"/>
<circle cx="356.8" cy="99.7" r="3.25" fill="#e5e52a"/>
<circle cx="460.5" cy="64.6" r="3.25" fill="#fa841d"/>
<circle cx="427.0" cy="102.2" r="3.25" fill="#dee32e"/>
<circle cx="401.9" cy="110.2" r="3.25" fill="#bcd846"/>
<circle cx="414.9" cy="88.0" r="3.25" fill="#fbbf1f"/>
<circle cx="360.8" cy="115.1" r="3.25" fill="#bbd847"/>
<circle cx="436.6" cy="95.2" r="3.25" fill="#f1e424"/>
<circle cx="480.3" cy="55.6" r="3.25" fill="#ee3a23"/>
<circle cx="457.0" cy="66.0" r="3.25" fill="#f97d1d"/>
<circle cx="493.1" cy="47.6" r="3.25" fill="#e72523"/>
<circle cx="357.4" cy="95.7" r="3.25" fill="#ede526"/>
<circle cx="447.8" cy="89.2" r="3.25" fill="#f5de23"/>
<circle cx="458.3" cy="71.8" r="3.25" fill="#fb8d1c"/>
<circle cx="352.3" cy="100.3" r="3.25" fill="#eae627"/>
<circle cx="355.5" cy="116.2" r="3.25" fill="#9ccf63"/>
<circle cx="354.8" cy="121.1" r="3.25" fill="#9ecf61"/>
<circle cx="377.3" cy="100.3" r="3.25" fill="#e1e42c"/>
<circle cx="363.8" cy="111.6" r="3.25" fill="#bfd944"/>
<circle cx="451.7" cy="69.7" r="3.25" fill="#f97b1d"/>
<circle cx="461.1" cy="74.0" r="3.25" fill="#fa8b1c"/>
<circle cx="343.0" cy="134.3" r="3.25" fill="#66c4b2"/>
<circle cx="394.7" cy="104.7" r="3.25" fill="#e1e42d"/>
<circle cx="420.2" cy="90.5" r="3.25" fill="#f7db22"/>
<circle cx="406.4" cy="96.0" r="3.25" fill="#eae627"/>
<circle cx="361.5" cy="119.3" r="3.25" fill="#8aca72"/>
<circle cx="411.2" cy="101.6" r="3.25" fill="#e2e42c"/>
<circle cx="348.8" cy="107.4" r="3.25" fill="#cadd3b"/>
<circle cx="384.6" cy="100.1" r="3.25" fill="#ede526"/>
<circle cx="499.7" cy="46.4" r="3.25" fill="#e72523"/>
<circle cx="344.5" cy="146.6" r="3.25" fill="#5dc2c5"/>
<circle cx="487.5" cy="49.0" r="3.25" fill="#e92823"/>
<circle cx="457.9" cy="63.5" r="3.25" fill="#f25321"/>
<circle cx="464.6" cy="68.8" r="3.25" fill="#f66c1e"/>
<circle cx="376.9" cy="90.4" r="3.25" fill="#f6dc22"/>
<circle cx="370.7" cy="89.6" r="3.25" fill="#f2e424"/>
<circle cx="424.8" cy="85.3" r="3.25" fill="#fbc11f"/>
<circle cx="431.1" cy="99.3" r="3.25" fill="#ece526"/>
<circle cx="378.4" cy="104.2" r="3.25" fill="#d2df36"/>
<circle cx="378.0" cy="123.4" r="3.25" fill="#8fcb6e"/>
<circle cx="396.5" cy="107.2" r="3.25" fill="#d1df36"/>
<circle cx="393.8" cy="97.1" r="3.25" fill="#f3e123"/>
<circle cx="493.9" cy="52.6" r="3.25" fill="#ed3123"/>
<circle cx="441.3" cy="85.5" r="3.25" fill="#fac620"/>
<circle cx="422.5" cy="87.4" r="3.25" fill="#f8d421"/>
<circle cx="470.5" cy="55.6" r="3.25" fill="#ee3a23"/>
<circle cx="346.5" cy="140.5" r="3.25" fill="#67c4b1"/>
<circle cx="474.1" cy="66.2" r="3.25" fill="#f8741e"/>
<circle cx="429.5" cy="100.3" r="3.25" fill="#dae230"/>
<circle cx="363.1" cy="92.9" r="3.25" fill="#f6dc22"/>
<circle cx="482.9" cy="56.8" r="3.25" fill="#f25122"/>
<circle cx="452.8" cy="74.2" r="3.25" fill="#fb911c"/>
<circle cx="395.3" cy="114.3" r="3.25" fill="#aed453"/>
<circle cx="486.6" cy="57.2" r="3.25" fill="#f04623"/>
<circle cx="456.8" cy="81.9" r="3.25" fill="#fcae1d"/>
<circle cx="404.2" cy="105.6" r="3.25" fill="#cfde37"/>
<circle cx="368.3" cy="111.4" r="3.25" fill="#c8dc3c"/>
<circle cx="449.9" cy="80.0" r="3.25" fill="#fc9f1c"/>
<circle cx="451.7" cy="85.0" r="3.25" fill="#fcbc1e"/>
<circle cx="377.0" cy="93.5" r="3.25" fill="#f2e424"/>
<circle cx="372.3" cy="98.7" r="3.25" fill="#eae627"/>
<circle cx="426.7" cy="99.4" r="3.25" fill="#e1e42c"/>
<circle cx="387.3" cy="123.0" r="3.25" fill="#87c974"/>
<circle cx="387.9" cy="110.3" r="3.25" fill="#bfd944"/>
<circle cx="347.9" cy="134.7" r="3.25" fill="#6dc4a2"/>
<circle cx="439.1" cy="82.9" r="3.25" fill="#fcb31d"/>
<circle cx="393.0" cy="120.7" r="3.25" fill="#97cd67"/>
<circle cx="353.6" cy="105.1" r="3.25" fill="#d3df35"/>
<circle cx="360.9" cy="91.4" r="3.25" fill="#f0e425"/>
<circle cx="481.9" cy="60.6" r="3.25" fill="#f45c20"/>
<circle cx="492.6" cy="50.4" r="3.25" fill="#ea2b23"/>
<circle cx="463.2" cy="60.2" r="3.25" fill="#f04623"/>
<circle cx="357.5" cy="122.5" r="3.25" fill="#90cb6d"/>
<circle cx="482.1" cy="53.3" r="3.25" fill="#ed3323"/>
<circle cx="425.0" cy="88.2" r="3.25" fill="#f7da22"/>
<circle cx="394.6" cy="117.7" r="3.25" fill="#a4d15b"/>
<circle cx="351.9" cy="129.5" r="3.25" fill="#7dc67e"/>
<circle cx="369.0" cy="87.6" r="3.25" fill="#f8d121"/>
<circle cx="497.6" cy="43.2" r="3.25" fill="#e22223"/>
<circle cx="349.6" cy="125.1" r="3.25" fill="#82c779"/>
<circle cx="411.0" cy="96.6" r="3.25" fill="#e9e628"/>
<circle cx="348.7" cy="128.0" r="3.25" fill="#7bc681"/>
<circle cx="427.7" cy="94.9" r="3.25" fill="#eae627"/>
<circle cx="390.8" cy="102.8" r="3.25" fill="#dee32e"/>
<circle cx="447.1" cy="80.2" r="3.25" fill="#fcb61e"/>
<circle cx="366.2" cy="123.4" r="3.25" fill="#87c974"/>
<circle cx="341.6" cy="145.4" r="3.25" fill="#66c4b2"/>
<circle cx="444.3" cy="91.6" r="3.25" fill="#f2e424"/>
<circle cx="436.6" cy="83.5" r="3.25" fill="#fac620"/>
<circle cx="436.4" cy="92.5" r="3.25" fill="#f5de23"/>
<circle cx="413.0" cy="107.2" r="3.25" fill="#c8dc3c"/>
<circle cx="430.8" cy="87.6" r="3.25" fill="#f7da22"/>
<circle cx="407.7" cy="93.8" r="3.25" fill="#eee526"/>
<circle cx="440.5" cy="90.2" r="3.25" fill="#f3e324"/>
<circle cx="438.2" cy="86.6" r="3.25" fill="#f8d421"/>
<circle cx="489.4" cy="55.0" r="3.25" fill="#ef4123"/>
<circle cx="354.7" cy="96.8" r="3.25" fill="#ece526"/>
<circle cx="399.0" cy="111.7" r="3.25" fill="#b0d551"/>
<circle cx="384.7" cy="105.3" r="3.25" fill="#dce22f"/>
<circle cx="446.3" cy="83.6" r="3.25" fill="#fcb41e"/>
<circle cx="400.6" cy="105.5" r="3.25" fill="#cddd39"/>
<circle cx="413.8" cy="102.7" r="3.25" fill="#d2df35"/>
<circle cx="367.0" cy="109.0" r="3.25" fill="#d9e132"/>
<circle cx="419.8" cy="99.9" r="3.25" fill="#eae627"/>
<circle cx="345.6" cy="127.6" r="3.25" fill="#81c77a"/>
<circle cx="441.8" cy="92.7" r="3.25" fill="#f0e425"/>
<circle cx="369.4" cy="103.9" r="3.25" fill="#d0de37"/>
<circle cx="434.2" cy="84.9" r="3.25" fill="#fbbf1f"/>
<circle cx="462.5" cy="70.3" r="3.25" fill="#fb901c"/>
<circle cx="499.6" cy="42.6" r="3.25" fill="#b81c1e"/>
<circle cx="410.5" cy="107.1" r="3.25" fill="#ccdd39"/>
<circle cx="449.8" cy="75.5" r="3.25" fill="#fb981c"/>
<circle cx="403.9" cy="96.2" r="3.25" fill="#e4e52a"/>
<circle cx="344.9" cy="138.3" r="3.25" fill="#6bc4a6"/>
<circle cx="433.8" cy="96.2" r="3.25" fill="#ede526"/>
<circle cx="402.3" cy="107.5" r="3.25" fill="#c5db3f"/>
<circle cx="379.3" cy="90.3" r="3.25" fill="#f7d922"/>
<circle cx="367.8" cy="90.1" r="3.25" fill="#f4e023"/>
<circle cx="391.2" cy="121.7" r="3.25" fill="#93cc6a"/>
<circle cx="341.8" cy="139.3" r="3.25" fill="#6bc4a6"/>
<circle cx="397.1" cy="103.9" r="3.25" fill="#c2da41"/>
<circle cx="369.9" cy="92.4" r="3.25" fill="#f5df23"/>
<circle cx="372.3" cy="94.9" r="3.25" fill="#f2e424"/>
<circle cx="476.8" cy="64.4" r="3.25" fill="#f5651f"/>
<circle cx="396.8" cy="116.5" r="3.25" fill="#9bcf63"/>
<circle cx="354.6" cy="101.3" r="3.25" fill="#d0de37"/>
<circle cx="379.1" cy="114.1" r="3.25" fill="#b8d74a"/>
<circle cx="345.3" cy="119.1" r="3.25" fill="#a5d15b"/>
<circle cx="361.7" cy="106.3" r="3.25" fill="#c7dc3d"/>
<circle cx="383.1" cy="125.3" r="3.25" fill="#85c876"/>
<circle cx="342.4" cy="132.0" r="3.25" fill="#71c599"/>
<circle cx="364.4" cy="118.1" r="3.25" fill="#b3d64e"/>
<circle cx="350.2" cy="115.1" r="3.25" fill="#a2d15d"/>
<circle cx="382.9" cy="103.4" r="3.25" fill="#dfe32d"/>
<circle cx="380.4" cy="123.0" r="3.25" fill="#8fcb6d"/>
<circle cx="428.8" cy="97.2" r="3.25" fill="#eee526"/>
<circle cx="385.2" cy="110.6" r="3.25" fill="#b4d64e"/>
<circle cx="365.2" cy="88.5" r="3.25" fill="#f4e123"/>
<circle cx="340.0" cy="142.5" r="3.25" fill="#64c3b8"/>
<circle cx="425.2" cy="97.4" r="3.25" fill="#ebe527"/>
<circle cx="382.0" cy="100.0" r="3.25" fill="#e6e529"/>
<circle cx="427.6" cy="88.8" r="3.25" fill="#f6dd23"/>
<circle cx="476.8" cy="60.2" r="3.25" fill="#f5661f"/>
<circle cx="445.7" cy="76.3" r="3.25" fill="#fb971c"/>
<circle cx="344.2" cy="122.8" r="3.25" fill="#94cc6a"/>
<circle cx="419.8" cy="87.2" r="3.25" fill="#f7d822"/>
<circle cx="497.6" cy="47.7" r="3.25" fill="#e72623"/>
<circle cx="362.7" cy="95.4" r="3.25" fill="#eee526"/>
<circle cx="464.0" cy="72.7" r="3.25" fill="#fb8e1c"/>
<circle cx="354.4" cy="109.5" r="3.25" fill="#cddd39"/>
<circle cx="446.1" cy="87.3" r="3.25" fill="#f7d722"/>
<circle cx="367.6" cy="99.9" r="3.25" fill="#e5e52a"/>
<circle cx="467.3" cy="67.2" r="3.25" fill="#f6681f"/>
<circle cx="444.2" cy="79.8" r="3.25" fill="#fc9a1c"/>
<circle cx="379.3" cy="110.7" r="3.25" fill="#aad356"/>
<circle cx="401.3" cy="95.5" r="3.25" fill="#eee525"/>
<circle cx="452.1" cy="81.5" r="3.25" fill="#fc9b1c"/>
<circle cx="418.5" cy="84.7" r="3.25" fill="#fbbd1e"/>
<circle cx="363.9" cy="107.8" r="3.25" fill="#d4e035"/>
<circle cx="363.0" cy="122.5" r="3.25" fill="#92cc6b"/>
<circle cx="474.8" cy="57.7" r="3.25" fill="#f25222"/>
<circle cx="360.2" cy="95.6" r="3.25" fill="#eee526"/>
<circle cx="375.9" cy="106.2" r="3.25" fill="#d2df35"/>
<circle cx="342.9" cy="128.1" r="3.25" fill="#78c589"/>
<circle cx="393.3" cy="102.4" r="3.25" fill="#d9e131"/>
<circle cx="367.1" cy="105.5" r="3.25" fill="#cbdd3a"/>
<circle cx="358.0" cy="115.8" r="3.25" fill="#b2d64f"/>
<circle cx="457.2" cy="69.3" r="3.25" fill="#f9811d"/>
<circle cx="414.5" cy="97.2" r="3.25" fill="#efe525"/>
<circle cx="381.8" cy="110.8" r="3.25" fill="#bad849"/>
<circle cx="417.7" cy="95.4" r="3.25" fill="#f1e424"/>
<circle cx="388.2" cy="91.3" r="3.25" fill="#efe525"/>
<circle cx="374.7" cy="125.0" r="3.25" fill="#94cd69"/>
<circle cx="393.2" cy="106.7" r="3.25" fill="#d2df36"/>
<circle cx="391.5" cy="100.4" r="3.25" fill="#e5e52a"/>
<circle cx="422.9" cy="103.0" r="3.25" fill="#dce230"/>
<circle cx="370.2" cy="107.1" r="3.25" fill="#c3da40"/>
<circle cx="443.9" cy="84.3" r="3.25" fill="#fbbe1f"/>
<circle cx="415.5" cy="105.6" r="3.25" fill="#cede38"/>
<circle cx="350.6" cy="104.8" r="3.25" fill="#e0e32d"/>
<circle cx="380.5" cy="102.2" r="3.25" fill="#e4e52a"/>
<circle cx="388.6" cy="120.6" r="3.25" fill="#96cd68"/>
<circle cx="350.0" cy="131.3" r="3.25" fill="#78c688"/>
<circle cx="346.2" cy="124.3" r="3.25" fill="#8aca72"/>
<circle cx="364.8" cy="98.7" r="3.25" fill="#ece526"/>
<circle cx="425.2" cy="93.6" r="3.25" fill="#efe525"/>
<circle cx="346.9" cy="136.8" r="3.25" fill="#68c4af"/>
<circle cx="405.3" cy="92.4" r="3.25" fill="#f5de23"/>
<circle cx="450.1" cy="72.2" r="3.25" fill="#f97d1d"/>
<circle cx="382.0" cy="96.2" r="3.25" fill="#ede526"/>
<circle cx="355.9" cy="111.7" r="3.25" fill="#c4db40"/>
<circle cx="478.6" cy="58.0" r="3.25" fill="#f04723"/>
<circle cx="459.6" cy="67.7" r="3.25" fill="#f5641f"/>
<circle cx="347.0" cy="113.8" r="3.25" fill="#a9d357"/>
<circle cx="381.3" cy="92.5" r="3.25" fill="#f4df23"/>
<circle cx="473.3" cy="54.0" r="3.25" fill="#ed3223"/>
<circle cx="403.6" cy="88.3" r="3.25" fill="#f6dc22"/>
<circle cx="374.1" cy="113.5" r="3.25" fill="#abd355"/>
<circle cx="420.2" cy="96.4" r="3.25" fill="#ebe527"/>
<circle cx="375.2" cy="109.5" r="3.25" fill="#c4db40"/>
<circle cx="471.8" cy="67.8" r="3.25" fill="#f9821d"/>
<circle cx="362.4" cy="89.8" r="3.25" fill="#f5de23"/>
<circle cx="351.4" cy="120.1" r="3.25" fill="#93cc6a"/>
<circle cx="465.4" cy="58.2" r="3.25" fill="#ef4023"/>
<circle cx="422.5" cy="97.6" r="3.25" fill="#dde22f"/>
<circle cx="365.5" cy="120.9" r="3.25" fill="#9ccf62"/>
<circle cx="421.2" cy="94.1" r="3.25" fill="#efe525"/>
<circle cx="408.7" cy="89.5" r="3.25" fill="#f0e425"/>
<circle cx="428.0" cy="86.0" r="3.25" fill="#fcb41e"/>
<circle cx="385.7" cy="90.2" r="3.25" fill="#f4e123"/>
<circle cx="371.8" cy="109.2" r="3.25" fill="#c1da42"/>
<circle cx="364.4" cy="105.1" r="3.25" fill="#e1e42c"/>
<circle cx="343.8" cy="141.2" r="3.25" fill="#60c3c1"/>
<circle cx="418.7" cy="102.5" r="3.25" fill="#d4e034"/>
<circle cx="375.6" cy="95.7" r="3.25" fill="#ebe527"/>
<circle cx="363.7" cy="114.4" r="3.25" fill="#bad849"/>
<circle cx="378.2" cy="126.0" r="3.25" fill="#79c685"/>
<circle cx="389.0" cy="99.4" r="3.25" fill="#e8e628"/>
<circle cx="382.6" cy="113.7" r="3.25" fill="#abd356"/>
<circle cx="454.6" cy="76.1" r="3.25" fill="#fc9a1c"/>
<circle cx="382.6" cy="108.0" r="3.25" fill="#dde32f"/>
<circle cx="360.0" cy="120.3" r="3.25" fill="#a0d05f"/>
<circle cx="371.9" cy="104.9" r="3.25" fill="#e2e42b"/>
<circle cx="496.3" cy="44.6" r="3.25" fill="#e22223"/>
<circle cx="426.0" cy="90.8" r="3.25" fill="#f6dc22"/>
<circle cx="378.0" cy="96.6" r="3.25" fill="#f0e425"/>
<circle cx="360.7" cy="101.9" r="3.25" fill="#e1e42c"/>
<circle cx="373.7" cy="101.1" r="3.25" fill="#dbe230"/>
<circle cx="358.8" cy="104.7" r="3.25" fill="#d9e131"/>
<circle cx="389.8" cy="117.2" r="3.25" fill="#95cd69"/>
<circle cx="357.1" cy="102.6" r="3.25" fill="#e6e529"/>
<circle cx="457.2" cy="74.4" r="3.25" fill="#fa851d"/>
<circle cx="400.2" cy="114.2" r="3.25" fill="#a8d258"/>
<circle cx="464.8" cy="66.3" r="3.25" fill="#f6671f"/>
<circle cx="375.3" cy="98.7" r="3.25" fill="#efe525"/>
<circle cx="418.6" cy="105.3" r="3.25" fill="#d1df36"/>
<circle cx="454.9" cy="83.7" r="3.25" fill="#fcb21d"/>
<circle cx="477.8" cy="54.8" r="3.25" fill="#ee3923"/>
<circle cx="439.4" cy="94.1" r="3.25" fill="#efe525"/>
<circle cx="390.0" cy="124.9" r="3.25" fill="#93cc6a"/>
<circle cx="366.2" cy="114.8" r="3.25" fill="#a5d15b"/>
<circle cx="455.9" cy="78.4" r="3.25" fill="#fcb01d"/>
<circle cx="448.0" cy="77.5" r="3.25" fill="#fca81c"/>
<circle cx="392.8" cy="92.8" r="3.25" fill="#f2e424"/>
<circle cx="390.7" cy="113.6" r="3.25" fill="#b6d74c"/>
<circle cx="373.5" cy="107.1" r="3.25" fill="#d7e133"/>
<circle cx="358.9" cy="93.4" r="3.25" fill="#f3e224"/>
<circle cx="378.5" cy="108.1" r="3.25" fill="#ccdd3a"/>
<circle cx="399.5" cy="102.8" r="3.25" fill="#dfe32e"/>
<circle cx="410.5" cy="104.0" r="3.25" fill="#ccdd39"/>
<circle cx="353.8" cy="114.0" r="3.25" fill="#bbd847"/>
<circle cx="375.5" cy="103.7" r="3.25" fill="#d0de37"/>
<circle cx="402.0" cy="102.4" r="3.25" fill="#e4e52a"/>
<circle cx="353.7" cy="118.0" r="3.25" fill="#9ace64"/>
<circle cx="401.5" cy="113.4" r="3.25" fill="#b2d64f"/>
<circle cx="372.2" cy="87.4" r="3.25" fill="#f8d321"/>
<circle cx="345.1" cy="143.7" r="3.25" fill="#65c4b5"/>
<circle cx="412.4" cy="98.7" r="3.25" fill="#ece526"/>
<circle cx="435.4" cy="88.3" r="3.25" fill="#f2e324"/>
<circle cx="414.0" cy="91.3" r="3.25" fill="#f0e425"/>
<circle cx="366.7" cy="102.6" r="3.25" fill="#cadd3b"/>
<circle cx="400.1" cy="87.9" r="3.25" fill="#f1e424"/>
<circle cx="468.4" cy="58.6" r="3.25" fill="#f15022"/>
<circle cx="356.2" cy="105.2" r="3.25" fill="#dee32e"/>
<circle cx="399.2" cy="97.9" r="3.25" fill="#ede526"/>
<circle cx="443.0" cy="89.4" r="3.25" fill="#fac720"/>
<circle cx="352.3" cy="127.0" r="3.25" fill="#7cc680"/>
<circle cx="352.0" cy="102.1" r="3.25" fill="#cbdd3a"/>
<circle cx="368.6" cy="97.3" r="3.25" fill="#e8e628"/>
<circle cx="429.2" cy="91.7" r="3.25" fill="#f2e324"/>
<circle cx="408.0" cy="111.5" r="3.25" fill="#b9d849"/>
<circle cx="424.2" cy="99.8" r="3.25" fill="#e5e52a"/>
<circle cx="394.8" cy="90.6" r="3.25" fill="#f3e123"/>
<circle cx="476.4" cy="51.9" r="3.25" fill="#ea2c23"/>
<circle cx="449.6" cy="87.3" r="3.25" fill="#fbbd1f"/>
<circle cx="373.4" cy="92.0" r="3.25" fill="#f3e324"/>
<circle cx="405.3" cy="88.5" r="3.25" fill="#f8d622"/>
<circle cx="368.5" cy="119.5" r="3.25" fill="#a1d05e"/>
<circle cx="404.3" cy="109.3" r="3.25" fill="#d0de37"/>
<circle cx="389.1" cy="105.4" r="3.25" fill="#d0df37"/>
<circle cx="399.2" cy="91.4" r="3.25" fill="#f3e224"/>
<circle cx="405.7" cy="102.8" r="3.25" fill="#d7e132"/>
<circle cx="482.9" cy="50.9" r="3.25" fill="#eb2c23"/>
<circle cx="416.9" cy="86.2" r="3.25" fill="#fcbc1e"/>
<circle cx="373.5" cy="89.5" r="3.25" fill="#f5df23"/>
<circle cx="422.1" cy="84.6" r="3.25" fill="#fac620"/>
<circle cx="370.0" cy="100.9" r="3.25" fill="#e8e628"/>
<circle cx="408.1" cy="102.0" r="3.25" fill="#dfe32d"/>
<circle cx="468.7" cy="56.1" r="3.25" fill="#ef3f23"/>
<circle cx="413.5" cy="110.3" r="3.25" fill="#c1da42"/>
<circle cx="370.6" cy="114.7" r="3.25" fill="#abd355"/>
<circle cx="379.8" cy="98.5" r="3.25" fill="#ebe527"/>
<circle cx="357.2" cy="119.1" r="3.25" fill="#a3d15d"/>
<circle cx="371.5" cy="112.3" r="3.25" fill="#aed453"/>
<circle cx="471.8" cy="59.2" r="3.25" fill="#f25521"/>
<circle cx="399.5" cy="108.6" r="3.25" fill="#d4e035"/>
<circle cx="470.3" cy="62.8" r="3.25" fill="#f45c20"/>
<circle cx="386.9" cy="101.5" r="3.25" fill="#dce22f"/>
<circle cx="453.9" cy="68.0" r="3.25" fill="#fa821d"/>
<circle cx="392.1" cy="118.4" r="3.25" fill="#a0d05f"/>
<circle cx="455.2" cy="72.2" r="3.25" fill="#fa871d"/>
<circle cx="463.5" cy="75.3" r="3.25" fill="#fb931c"/>
<circle cx="387.5" cy="126.4" r="3.25" fill="#8aca72"/>
<circle cx="390.8" cy="109.6" r="3.25" fill="#c9dc3b"/>
<circle cx="460.7" cy="62.1" r="3.25" fill="#f76e1e"/>
<circle cx="368.3" cy="122.2" r="3.25" fill="#96cd68"/>
<circle cx="442.3" cy="80.9" r="3.25" fill="#fcaa1d"/>
<circle cx="347.2" cy="117.4" r="3.25" fill="#9bce64"/>
<circle cx="345.9" cy="132.8" r="3.25" fill="#7ac685"/>
<circle cx="352.4" cy="122.4" r="3.25" fill="#9ace65"/>
<circle cx="340.0" cy="146.7" r="3.25" fill="#50bfd3"/>
<circle cx="415.7" cy="101.0" r="3.25" fill="#d5e034"/>
<circle cx="365.1" cy="85.5" r="3.25" fill="#fbc11f"/>
<circle cx="366.7" cy="84.9" r="3.25" fill="#fcbb1e"/>
<circle cx="367.8" cy="83.7" r="3.25" fill="#fcb41e"/>
<circle cx="369.2" cy="83.5" r="3.25" fill="#fcb31d"/>
<circle cx="370.8" cy="83.5" r="3.25" fill="#fcb31d"/>
<circle cx="393.3" cy="82.4" r="3.25" fill="#fcad1d"/>
<circle cx="395.1" cy="82.4" r="3.25" fill="#fcad1d"/>
<circle cx="396.9" cy="82.6" r="3.25" fill="#fcae1d"/>
<circle cx="398.7" cy="82.5" r="3.25" fill="#fcae1d"/>
<circle cx="400.5" cy="82.6" r="3.25" fill="#fcae1d"/>
<circle cx="402.3" cy="82.5" r="3.25" fill="#fcae1d"/>
<circle cx="416.0" cy="79.6" r="3.25" fill="#fc9f1c"/>
<circle cx="417.8" cy="79.6" r="3.25" fill="#fca01c"/>
<circle cx="419.6" cy="80.4" r="3.25" fill="#fca21c"/>
<circle cx="421.4" cy="79.8" r="3.25" fill="#fca01c"/>
<circle cx="423.2" cy="80.6" r="3.25" fill="#fca31c"/>
<circle cx="425.0" cy="80.4" r="3.25" fill="#fca21c"/>
<circle cx="426.8" cy="80.2" r="3.25" fill="#fca11c"/>
<circle cx="428.5" cy="81.0" r="3.25" fill="#fca61c"/>
<circle cx="430.3" cy="81.1" r="3.25" fill="#fca61c"/>
<circle cx="432.2" cy="80.7" r="3.25" fill="#fca41c"/>
<circle cx="434.0" cy="81.1" r="3.25" fill="#fca61c"/>
<circle cx="435.8" cy="81.2" r="3.25" fill="#fca61c"/>
<circle cx="437.6" cy="81.1" r="3.25" fill="#fca61c"/>
<circle cx="439.4" cy="81.2" r="3.25" fill="#fca71c"/>
</g>
<rect x="314.8" y="21.0" width="206.2" height="200.6" fill="none" stroke="#2b2b2b" stroke-width="1"/>
<line x1="320.5" y1="221.6" x2="320.5" y2="225.4" stroke="#2b2b2b" stroke-width="1"/>
<text x="320.5" y="239.0" font-size="12.4" text-anchor="middle" fill="#1a1a1a">0</text>
<line x1="372.3" y1="221.6" x2="372.3" y2="225.4" stroke="#2b2b2b" stroke-width="1"/>
<text x="372.3" y="239.0" font-size="12.4" text-anchor="middle" fill="#1a1a1a">50</text>
<line x1="424.1" y1="221.6" x2="424.1" y2="225.4" stroke="#2b2b2b" stroke-width="1"/>
<text x="424.1" y="239.0" font-size="12.4" text-anchor="middle" fill="#1a1a1a">100</text>
<line x1="475.9" y1="221.6" x2="475.9" y2="225.4" stroke="#2b2b2b" stroke-width="1"/>
<text x="475.9" y="239.0" font-size="12.4" text-anchor="middle" fill="#1a1a1a">150</text>
<line x1="311.0" y1="206.2" x2="314.8" y2="206.2" stroke="#2b2b2b" stroke-width="1"/>
<text transform="translate(305.8,202.0) rotate(-90)" font-size="12.4" text-anchor="end" fill="#1a1a1a">0.5</text>
<line x1="311.0" y1="171.3" x2="314.8" y2="171.3" stroke="#2b2b2b" stroke-width="1"/>
<text transform="translate(305.8,167.1) rotate(-90)" font-size="12.4" text-anchor="end" fill="#1a1a1a">1.0</text>
<line x1="311.0" y1="136.5" x2="314.8" y2="136.5" stroke="#2b2b2b" stroke-width="1"/>
<text transform="translate(305.8,132.3) rotate(-90)" font-size="12.4" text-anchor="end" fill="#1a1a1a">1.5</text>
<line x1="311.0" y1="101.6" x2="314.8" y2="101.6" stroke="#2b2b2b" stroke-width="1"/>
<text transform="translate(305.8,97.4) rotate(-90)" font-size="12.4" text-anchor="end" fill="#1a1a1a">2.0</text>
<line x1="311.0" y1="66.8" x2="314.8" y2="66.8" stroke="#2b2b2b" stroke-width="1"/>
<text transform="translate(305.8,62.6) rotate(-90)" font-size="12.4" text-anchor="end" fill="#1a1a1a">2.5</text>
<line x1="311.0" y1="31.9" x2="314.8" y2="31.9" stroke="#2b2b2b" stroke-width="1"/>
<text transform="translate(305.8,27.7) rotate(-90)" font-size="12.4" text-anchor="end" fill="#1a1a1a">3.0</text>
<text x="417.9" y="255.6" font-size="12.7" text-anchor="middle" fill="#1a1a1a">Density (veh/km)</text>
<text transform="translate(287.4,121.9) rotate(-90)" font-size="12.8" text-anchor="middle" fill="#1a1a1a" style="font-family:'DejaVu Sans','Liberation Sans',sans-serif">CO<tspan font-size="9" dy="2.3">2</tspan><tspan dy="-2.3" dx="0.8"> (g)</tspan></text>
<text x="417.9" y="35.7" font-size="16.5" font-weight="bold" text-anchor="middle" fill="#1a1a1a">B</text>
<text x="315.0" y="17.0" font-size="12.4" fill="#1a1a1a">×10<tspan font-size="8.7" dy="-4.2">5</tspan></text>
<text x="424.4" y="136.2" font-size="14.7" font-weight="bold" fill="#1a1a1a">r = 0.93</text>
<g>
<circle cx="55.5" cy="316.2" r="3.25" fill="#7d1017"/>
<circle cx="55.6" cy="317.0" r="3.25" fill="#821118"/>
<circle cx="56.1" cy="317.8" r="3.25" fill="#811118"/>
<circle cx="55.5" cy="318.6" r="3.25" fill="#851118"/>
<circle cx="55.9" cy="319.4" r="3.25" fill="#881219"/>
<circle cx="56.0" cy="320.2" r="3.25" fill="#8c1219"/>
<circle cx="56.0" cy="321.0" r="3.25" fill="#891219"/>
<circle cx="55.7" cy="321.8" r="3.25" fill="#90131a"/>
<circle cx="55.9" cy="322.6" r="3.25" fill="#8f131a"/>
<circle cx="55.5" cy="323.4" r="3.25" fill="#90131a"/>
<circle cx="56.0" cy="324.2" r="3.25" fill="#a7181d"/>
<circle cx="55.6" cy="325.0" r="3.25" fill="#a0161c"/>
<circle cx="55.5" cy="325.8" r="3.25" fill="#aa191d"/>
<circle cx="55.8" cy="326.6" r="3.25" fill="#ac191d"/>
<circle cx="55.8" cy="327.4" r="3.25" fill="#a8181d"/>
<circle cx="56.1" cy="328.2" r="3.25" fill="#bd1c1f"/>
<circle cx="56.1" cy="329.0" r="3.25" fill="#d21f21"/>
<circle cx="56.1" cy="329.8" r="3.25" fill="#c21d1f"/>
<circle cx="55.5" cy="330.6" r="3.25" fill="#d82022"/>
<circle cx="55.8" cy="331.4" r="3.25" fill="#e42223"/>
<circle cx="55.5" cy="332.2" r="3.25" fill="#e52423"/>
<circle cx="55.8" cy="333.0" r="3.25" fill="#e32223"/>
<circle cx="55.6" cy="333.8" r="3.25" fill="#e72523"/>
<circle cx="56.1" cy="334.6" r="3.25" fill="#e82623"/>
<circle cx="55.8" cy="335.4" r="3.25" fill="#e92823"/>
<circle cx="55.8" cy="336.2" r="3.25" fill="#e92923"/>
<circle cx="56.1" cy="337.0" r="3.25" fill="#eb2d23"/>
<circle cx="56.1" cy="337.8" r="3.25" fill="#eb2c23"/>
<circle cx="55.6" cy="338.6" r="3.25" fill="#ed3123"/>
<circle cx="56.1" cy="339.4" r="3.25" fill="#ec3023"/>
<circle cx="55.9" cy="340.2" r="3.25" fill="#ed3523"/>
<circle cx="55.9" cy="341.0" r="3.25" fill="#ee3923"/>
<circle cx="55.5" cy="341.8" r="3.25" fill="#ee3d23"/>
<circle cx="55.7" cy="342.6" r="3.25" fill="#ed3223"/>
<circle cx="55.5" cy="343.4" r="3.25" fill="#ef4323"/>
<circle cx="152.8" cy="385.5" r="3.25" fill="#d7e133"/>
<circle cx="165.7" cy="376.4" r="3.25" fill="#f5dd23"/>
<circle cx="77.1" cy="351.8" r="3.25" fill="#ef4223"/>
<circle cx="175.8" cy="398.5" r="3.25" fill="#bed945"/>
<circle cx="182.0" cy="408.2" r="3.25" fill="#94cd69"/>
<circle cx="210.6" cy="414.5" r="3.25" fill="#82c779"/>
<circle cx="166.7" cy="388.4" r="3.25" fill="#e0e32d"/>
<circle cx="170.7" cy="393.7" r="3.25" fill="#b4d64e"/>
<circle cx="148.1" cy="396.0" r="3.25" fill="#c4db3f"/>
<circle cx="230.7" cy="494.8" r="3.25" fill="#263488"/>
<circle cx="135.9" cy="396.8" r="3.25" fill="#bdd946"/>
<circle cx="57.7" cy="346.3" r="3.25" fill="#ef4323"/>
<circle cx="190.3" cy="389.5" r="3.25" fill="#d2df36"/>
<circle cx="110.2" cy="387.1" r="3.25" fill="#e1e42c"/>
<circle cx="133.2" cy="377.8" r="3.25" fill="#f6db22"/>
<circle cx="125.8" cy="375.5" r="3.25" fill="#f8d121"/>
<circle cx="134.1" cy="394.6" r="3.25" fill="#d6e033"/>
<circle cx="88.7" cy="377.6" r="3.25" fill="#f6db22"/>
<circle cx="234.5" cy="457.8" r="3.25" fill="#3077c8"/>
<circle cx="167.7" cy="394.5" r="3.25" fill="#d0de37"/>
<circle cx="176.8" cy="376.7" r="3.25" fill="#f2e324"/>
<circle cx="188.9" cy="400.2" r="3.25" fill="#bbd847"/>
<circle cx="154.8" cy="390.9" r="3.25" fill="#d5e034"/>
<circle cx="208.1" cy="409.6" r="3.25" fill="#98ce66"/>
<circle cx="210.9" cy="405.1" r="3.25" fill="#a5d25a"/>
<circle cx="174.5" cy="377.7" r="3.25" fill="#f3e224"/>
<circle cx="235.5" cy="481.4" r="3.25" fill="#2a429b"/>
<circle cx="166.2" cy="382.0" r="3.25" fill="#f2e424"/>
<circle cx="165.8" cy="411.1" r="3.25" fill="#84c877"/>
<circle cx="208.1" cy="402.5" r="3.25" fill="#a5d15b"/>
<circle cx="240.8" cy="497.4" r="3.25" fill="#26358a"/>
<circle cx="232.9" cy="448.8" r="3.25" fill="#359bdb"/>
<circle cx="147.1" cy="378.2" r="3.25" fill="#f3e324"/>
<circle cx="128.1" cy="389.3" r="3.25" fill="#e3e52b"/>
<circle cx="206.4" cy="404.8" r="3.25" fill="#99ce65"/>
<circle cx="143.0" cy="392.8" r="3.25" fill="#cfde37"/>
<circle cx="167.5" cy="374.3" r="3.25" fill="#f5de23"/>
<circle cx="150.6" cy="399.5" r="3.25" fill="#b3d64e"/>
<circle cx="230.4" cy="491.5" r="3.25" fill="#293c95"/>
<circle cx="161.0" cy="385.4" r="3.25" fill="#eae627"/>
<circle cx="161.9" cy="405.2" r="3.25" fill="#a0d05f"/>
<circle cx="222.1" cy="441.5" r="3.25" fill="#3dbae8"/>
<circle cx="99.0" cy="376.2" r="3.25" fill="#f5de23"/>
<circle cx="229.0" cy="469.0" r="3.25" fill="#2c4fa9"/>
<circle cx="122.3" cy="370.6" r="3.25" fill="#fac31f"/>
<circle cx="105.5" cy="374.6" r="3.25" fill="#f8d621"/>
<circle cx="234.2" cy="451.6" r="3.25" fill="#3180cc"/>
<circle cx="157.8" cy="378.0" r="3.25" fill="#f0e425"/>
<circle cx="183.6" cy="390.3" r="3.25" fill="#cadd3b"/>
<circle cx="72.0" cy="343.7" r="3.25" fill="#ee3c23"/>
<circle cx="233.3" cy="471.0" r="3.25" fill="#2c4da7"/>
<circle cx="94.6" cy="380.8" r="3.25" fill="#f2e424"/>
<circle cx="218.8" cy="421.0" r="3.25" fill="#71c599"/>
<circle cx="146.8" cy="402.7" r="3.25" fill="#8ecb6f"/>
<circle cx="86.0" cy="367.3" r="3.25" fill="#fbbc1e"/>
<circle cx="183.1" cy="374.6" r="3.25" fill="#f8d421"/>
<circle cx="223.0" cy="429.8" r="3.25" fill="#60c3c0"/>
<circle cx="157.5" cy="405.7" r="3.25" fill="#a3d15c"/>
<circle cx="184.0" cy="377.2" r="3.25" fill="#f6dc22"/>
<circle cx="83.3" cy="368.6" r="3.25" fill="#fca31c"/>
<circle cx="78.1" cy="360.5" r="3.25" fill="#fa8a1c"/>
<circle cx="158.6" cy="396.4" r="3.25" fill="#b5d64c"/>
<circle cx="239.9" cy="485.9" r="3.25" fill="#293a93"/>
<circle cx="237.1" cy="468.2" r="3.25" fill="#2c50aa"/>
<circle cx="190.6" cy="403.1" r="3.25" fill="#aed453"/>
<circle cx="131.8" cy="388.1" r="3.25" fill="#d5e034"/>
<circle cx="117.4" cy="394.4" r="3.25" fill="#cfde38"/>
<circle cx="180.7" cy="379.3" r="3.25" fill="#f4e023"/>
<circle cx="237.2" cy="475.3" r="3.25" fill="#2b46a0"/>
<circle cx="194.5" cy="405.1" r="3.25" fill="#95cd69"/>
<circle cx="231.3" cy="443.3" r="3.25" fill="#40bbe4"/>
<circle cx="192.8" cy="379.9" r="3.25" fill="#f4e023"/>
<circle cx="135.1" cy="380.8" r="3.25" fill="#f0e425"/>
<circle cx="99.0" cy="384.4" r="3.25" fill="#e7e628"/>
<circle cx="234.6" cy="491.7" r="3.25" fill="#27368c"/>
<circle cx="225.1" cy="426.9" r="3.25" fill="#66c4b3"/>
<circle cx="114.1" cy="371.1" r="3.25" fill="#fcb81e"/>
<circle cx="121.4" cy="393.1" r="3.25" fill="#dbe230"/>
<circle cx="121.1" cy="395.8" r="3.25" fill="#cbdd3a"/>
<circle cx="126.3" cy="378.3" r="3.25" fill="#f0e425"/>
<circle cx="219.3" cy="413.0" r="3.25" fill="#8cca71"/>
<circle cx="81.1" cy="363.2" r="3.25" fill="#fb991c"/>
<circle cx="107.5" cy="376.0" r="3.25" fill="#f5dd23"/>
<circle cx="180.4" cy="403.9" r="3.25" fill="#add454"/>
<circle cx="85.0" cy="351.8" r="3.25" fill="#f25621"/>
<circle cx="213.1" cy="412.5" r="3.25" fill="#95cd69"/>
<circle cx="238.5" cy="472.9" r="3.25" fill="#2b4ca6"/>
<circle cx="239.9" cy="495.0" r="3.25" fill="#253286"/>
<circle cx="106.5" cy="380.9" r="3.25" fill="#eae627"/>
<circle cx="156.6" cy="388.8" r="3.25" fill="#dde32f"/>
<circle cx="234.5" cy="465.7" r="3.25" fill="#2b4ca6"/>
<circle cx="101.7" cy="368.4" r="3.25" fill="#fcb91e"/>
<circle cx="185.2" cy="405.2" r="3.25" fill="#a4d15b"/>
<circle cx="205.4" cy="392.5" r="3.25" fill="#cede38"/>
<circle cx="231.1" cy="480.0" r="3.25" fill="#2b48a1"/>
<circle cx="119.5" cy="390.3" r="3.25" fill="#e7e628"/>
<circle cx="72.4" cy="361.7" r="3.25" fill="#fb931c"/>
<circle cx="90.4" cy="371.4" r="3.25" fill="#fcb41e"/>
<circle cx="103.2" cy="383.5" r="3.25" fill="#e2e42c"/>
<circle cx="138.7" cy="375.3" r="3.25" fill="#f1e424"/>
<circle cx="70.0" cy="355.3" r="3.25" fill="#fa831d"/>
<circle cx="163.6" cy="398.9" r="3.25" fill="#afd552"/>
<circle cx="233.5" cy="455.0" r="3.25" fill="#3076c6"/>
<circle cx="152.8" cy="376.2" r="3.25" fill="#f9ce21"/>
<circle cx="192.3" cy="397.6" r="3.25" fill="#bed945"/>
<circle cx="68.0" cy="356.9" r="3.25" fill="#f97a1d"/>
<circle cx="118.0" cy="382.2" r="3.25" fill="#e2e42c"/>
<circle cx="188.2" cy="385.3" r="3.25" fill="#e3e42b"/>
<circle cx="131.0" cy="381.3" r="3.25" fill="#ece526"/>
<circle cx="188.3" cy="407.8" r="3.25" fill="#96cd67"/>
<circle cx="179.7" cy="398.6" r="3.25" fill="#cede38"/>
<circle cx="162.4" cy="392.7" r="3.25" fill="#d0de37"/>
<circle cx="176.1" cy="401.2" r="3.25" fill="#b0d551"/>
<circle cx="114.7" cy="392.9" r="3.25" fill="#d3df35"/>
<circle cx="216.3" cy="420.4" r="3.25" fill="#71c599"/>
<circle cx="185.7" cy="400.5" r="3.25" fill="#c4db40"/>
<circle cx="116.7" cy="390.5" r="3.25" fill="#e1e42c"/>
<circle cx="133.3" cy="382.7" r="3.25" fill="#e4e52b"/>
<circle cx="217.1" cy="414.7" r="3.25" fill="#7ac685"/>
<circle cx="103.9" cy="376.9" r="3.25" fill="#f3e324"/>
<circle cx="192.1" cy="393.0" r="3.25" fill="#cdde39"/>
<circle cx="181.0" cy="386.1" r="3.25" fill="#ece526"/>
<circle cx="218.2" cy="417.1" r="3.25" fill="#76c58d"/>
<circle cx="237.2" cy="491.1" r="3.25" fill="#253285"/>
<circle cx="128.6" cy="392.2" r="3.25" fill="#cede38"/>
<circle cx="223.3" cy="447.7" r="3.25" fill="#38aee5"/>
<circle cx="140.2" cy="394.6" r="3.25" fill="#d2df36"/>
<circle cx="193.7" cy="402.6" r="3.25" fill="#a5d15b"/>
<circle cx="171.9" cy="382.2" r="3.25" fill="#f2e424"/>
<circle cx="174.1" cy="408.8" r="3.25" fill="#8dcb6f"/>
<circle cx="101.1" cy="385.7" r="3.25" fill="#e4e52b"/>
<circle cx="152.4" cy="382.4" r="3.25" fill="#ede526"/>
<circle cx="111.6" cy="391.3" r="3.25" fill="#d2df36"/>
<circle cx="166.4" cy="385.4" r="3.25" fill="#e1e42c"/>
<circle cx="231.2" cy="445.9" r="3.25" fill="#3494d7"/>
<circle cx="191.4" cy="374.6" r="3.25" fill="#f5df23"/>
<circle cx="129.4" cy="383.6" r="3.25" fill="#f2e424"/>
<circle cx="226.4" cy="432.0" r="3.25" fill="#60c3c0"/>
<circle cx="142.6" cy="389.7" r="3.25" fill="#dae131"/>
<circle cx="123.6" cy="389.0" r="3.25" fill="#d4e034"/>
<circle cx="149.7" cy="383.2" r="3.25" fill="#e8e628"/>
<circle cx="121.1" cy="388.2" r="3.25" fill="#d3df35"/>
<circle cx="131.1" cy="375.8" r="3.25" fill="#f7d722"/>
<circle cx="176.3" cy="389.6" r="3.25" fill="#dde32f"/>
<circle cx="99.3" cy="371.5" r="3.25" fill="#f9cf21"/>
<circle cx="161.8" cy="380.6" r="3.25" fill="#f0e425"/>
<circle cx="231.3" cy="456.3" r="3.25" fill="#2e66ba"/>
<circle cx="227.8" cy="446.8" r="3.25" fill="#369edd"/>
<circle cx="159.9" cy="409.5" r="3.25" fill="#8fcb6e"/>
<circle cx="169.7" cy="386.2" r="3.25" fill="#dde32f"/>
<circle cx="228.5" cy="456.3" r="3.25" fill="#2f6dc0"/>
<circle cx="243.7" cy="492.7" r="3.25" fill="#253285"/>
<circle cx="77.9" cy="346.9" r="3.25" fill="#ed3223"/>
<circle cx="184.3" cy="380.0" r="3.25" fill="#f0e425"/>
<circle cx="234.7" cy="484.9" r="3.25" fill="#293d97"/>
<circle cx="229.7" cy="471.6" r="3.25" fill="#2b4ba4"/>
<circle cx="230.1" cy="489.1" r="3.25" fill="#293d97"/>
<circle cx="163.9" cy="390.7" r="3.25" fill="#d8e132"/>
<circle cx="128.7" cy="379.5" r="3.25" fill="#f0e425"/>
<circle cx="137.6" cy="395.0" r="3.25" fill="#bfd944"/>
<circle cx="175.5" cy="405.5" r="3.25" fill="#9ecf61"/>
<circle cx="198.4" cy="385.0" r="3.25" fill="#e4e52a"/>
<circle cx="146.0" cy="386.4" r="3.25" fill="#e0e32d"/>
<circle cx="94.9" cy="370.5" r="3.25" fill="#fcaa1d"/>
<circle cx="72.7" cy="346.3" r="3.25" fill="#f14c22"/>
<circle cx="154.4" cy="387.5" r="3.25" fill="#e3e42b"/>
<circle cx="85.1" cy="373.7" r="3.25" fill="#f6dd23"/>
<circle cx="204.0" cy="388.0" r="3.25" fill="#d1df36"/>
<circle cx="83.5" cy="366.1" r="3.25" fill="#fc9a1c"/>
<circle cx="159.6" cy="382.0" r="3.25" fill="#ece527"/>
<circle cx="92.9" cy="368.3" r="3.25" fill="#fcaa1d"/>
<circle cx="177.3" cy="408.0" r="3.25" fill="#87c974"/>
<circle cx="62.7" cy="341.3" r="3.25" fill="#ef3f23"/>
<circle cx="188.1" cy="375.1" r="3.25" fill="#f5de23"/>
<circle cx="199.9" cy="380.7" r="3.25" fill="#f3e324"/>
<circle cx="68.6" cy="345.8" r="3.25" fill="#ef4223"/>
<circle cx="123.3" cy="386.4" r="3.25" fill="#ebe527"/>
<circle cx="205.4" cy="397.3" r="3.25" fill="#c2da41"/>
<circle cx="174.5" cy="383.1" r="3.25" fill="#eae627"/>
<circle cx="179.0" cy="375.5" r="3.25" fill="#f8d622"/>
<circle cx="235.6" cy="460.4" r="3.25" fill="#2e60b6"/>
<circle cx="194.3" cy="377.8" r="3.25" fill="#f5df23"/>
<circle cx="82.9" cy="351.3" r="3.25" fill="#f66b1e"/>
<circle cx="167.4" cy="410.5" r="3.25" fill="#a5d25a"/>
<circle cx="195.9" cy="381.3" r="3.25" fill="#f2e424"/>
<circle cx="225.4" cy="457.1" r="3.25" fill="#2e66ba"/>
<circle cx="198.6" cy="395.1" r="3.25" fill="#d3df35"/>
<circle cx="116.7" cy="373.8" r="3.25" fill="#f6dc22"/>
<circle cx="81.9" cy="360.3" r="3.25" fill="#fa871d"/>
<circle cx="193.1" cy="386.9" r="3.25" fill="#e8e628"/>
<circle cx="200.5" cy="404.6" r="3.25" fill="#a9d357"/>
<circle cx="223.6" cy="436.2" r="3.25" fill="#4bbed8"/>
<circle cx="137.0" cy="391.3" r="3.25" fill="#c7dc3d"/>
<circle cx="59.9" cy="343.4" r="3.25" fill="#f25222"/>
<circle cx="83.8" cy="354.4" r="3.25" fill="#f9811d"/>
<circle cx="224.5" cy="442.9" r="3.25" fill="#45bcdf"/>
<circle cx="110.4" cy="390.3" r="3.25" fill="#d7e132"/>
<circle cx="215.4" cy="417.5" r="3.25" fill="#78c589"/>
<circle cx="153.8" cy="406.0" r="3.25" fill="#a2d05e"/>
<circle cx="240.1" cy="474.6" r="3.25" fill="#2b48a2"/>
<circle cx="174.9" cy="395.5" r="3.25" fill="#dbe230"/>
<circle cx="227.6" cy="444.2" r="3.25" fill="#3cbae9"/>
<circle cx="212.2" cy="399.4" r="3.25" fill="#a1d05e"/>
<circle cx="140.0" cy="392.1" r="3.25" fill="#d8e132"/>
<circle cx="196.8" cy="376.6" r="3.25" fill="#f6dd23"/>
<circle cx="90.7" cy="358.5" r="3.25" fill="#fa841d"/>
<circle cx="216.5" cy="425.3" r="3.25" fill="#6ac4a9"/>
<circle cx="242.5" cy="489.7" r="3.25" fill="#293a93"/>
<circle cx="110.5" cy="376.8" r="3.25" fill="#eee526"/>
<circle cx="123.5" cy="383.9" r="3.25" fill="#ebe527"/>
<circle cx="154.6" cy="383.6" r="3.25" fill="#f0e425"/>
<circle cx="179.7" cy="394.9" r="3.25" fill="#c6db3e"/>
<circle cx="150.5" cy="374.4" r="3.25" fill="#f6dd23"/>
<circle cx="104.9" cy="369.9" r="3.25" fill="#fbbf1f"/>
<circle cx="174.1" cy="374.9" r="3.25" fill="#f7da22"/>
<circle cx="177.9" cy="404.2" r="3.25" fill="#aad356"/>
<circle cx="205.4" cy="383.8" r="3.25" fill="#eee526"/>
<circle cx="125.4" cy="380.8" r="3.25" fill="#f1e425"/>
<circle cx="218.6" cy="410.2" r="3.25" fill="#83c878"/>
<circle cx="237.6" cy="484.8" r="3.25" fill="#2a3f99"/>
<circle cx="197.1" cy="378.5" r="3.25" fill="#f3e224"/>
<circle cx="231.2" cy="459.0" r="3.25" fill="#2f70c2"/>
<circle cx="239.9" cy="492.0" r="3.25" fill="#26358a"/>
<circle cx="138.4" cy="387.5" r="3.25" fill="#eae627"/>
<circle cx="112.8" cy="378.9" r="3.25" fill="#f3e123"/>
<circle cx="156.1" cy="372.5" r="3.25" fill="#f9cf21"/>
<circle cx="231.0" cy="464.8" r="3.25" fill="#2d5db4"/>
<circle cx="138.2" cy="379.0" r="3.25" fill="#f5de23"/>
<circle cx="134.0" cy="390.2" r="3.25" fill="#e4e52b"/>
<circle cx="197.4" cy="389.0" r="3.25" fill="#d1df36"/>
<circle cx="202.5" cy="381.0" r="3.25" fill="#f3e324"/>
<circle cx="132.0" cy="371.8" r="3.25" fill="#f6dc22"/>
<circle cx="101.2" cy="379.0" r="3.25" fill="#f3e224"/>
<circle cx="180.3" cy="383.7" r="3.25" fill="#eae627"/>
<circle cx="201.7" cy="399.7" r="3.25" fill="#add454"/>
<circle cx="206.1" cy="385.4" r="3.25" fill="#e9e628"/>
<circle cx="162.9" cy="373.1" r="3.25" fill="#f7d822"/>
<circle cx="183.9" cy="387.7" r="3.25" fill="#dfe32d"/>
<circle cx="142.2" cy="386.7" r="3.25" fill="#e4e52b"/>
<circle cx="162.4" cy="410.2" r="3.25" fill="#88c973"/>
<circle cx="110.1" cy="380.3" r="3.25" fill="#eee526"/>
<circle cx="159.1" cy="388.2" r="3.25" fill="#e8e628"/>
<circle cx="155.2" cy="378.3" r="3.25" fill="#f3e123"/>
<circle cx="177.2" cy="382.6" r="3.25" fill="#eee526"/>
<circle cx="123.5" cy="378.0" r="3.25" fill="#f5de23"/>
<circle cx="177.4" cy="385.1" r="3.25" fill="#e7e628"/>
<circle cx="124.7" cy="392.4" r="3.25" fill="#dae231"/>
<circle cx="109.7" cy="373.6" r="3.25" fill="#fac920"/>
<circle cx="228.1" cy="437.2" r="3.25" fill="#39b3e8"/>
<circle cx="187.0" cy="394.3" r="3.25" fill="#c9dc3c"/>
<circle cx="191.0" cy="377.5" r="3.25" fill="#f1e424"/>
<circle cx="182.2" cy="394.9" r="3.25" fill="#cbdd3a"/>
<circle cx="75.5" cy="356.2" r="3.25" fill="#fb8e1c"/>
<circle cx="170.6" cy="400.6" r="3.25" fill="#b3d64e"/>
<circle cx="237.6" cy="464.5" r="3.25" fill="#2d5ab2"/>
<circle cx="104.5" cy="387.2" r="3.25" fill="#ece527"/>
<circle cx="226.1" cy="429.1" r="3.25" fill="#61c3bf"/>
<circle cx="87.5" cy="369.8" r="3.25" fill="#f9ca20"/>
<circle cx="212.8" cy="417.7" r="3.25" fill="#70c59b"/>
<circle cx="62.2" cy="338.2" r="3.25" fill="#eb2d23"/>
<circle cx="101.7" cy="375.1" r="3.25" fill="#f6db22"/>
<circle cx="115.4" cy="382.4" r="3.25" fill="#ebe527"/>
<circle cx="84.8" cy="363.5" r="3.25" fill="#fc9f1c"/>
<circle cx="103.7" cy="380.0" r="3.25" fill="#f4e023"/>
<circle cx="77.6" cy="368.1" r="3.25" fill="#fcb11d"/>
<circle cx="125.1" cy="372.3" r="3.25" fill="#f8d121"/>
<circle cx="88.2" cy="359.5" r="3.25" fill="#fb931c"/>
<circle cx="194.5" cy="390.0" r="3.25" fill="#e0e42d"/>
<circle cx="80.0" cy="356.5" r="3.25" fill="#fa871c"/>
<circle cx="234.8" cy="488.3" r="3.25" fill="#293a93"/>
<circle cx="183.1" cy="382.3" r="3.25" fill="#ebe527"/>
<circle cx="95.7" cy="367.5" r="3.25" fill="#fbc01f"/>
<circle cx="240.6" cy="478.9" r="3.25" fill="#2b48a1"/>
<circle cx="116.6" cy="378.7" r="3.25" fill="#f4e023"/>
<circle cx="227.8" cy="462.8" r="3.25" fill="#2d59b1"/>
<circle cx="215.5" cy="404.6" r="3.25" fill="#a3d15c"/>
<circle cx="65.1" cy="344.5" r="3.25" fill="#ed3223"/>
<circle cx="56.0" cy="343.9" r="3.25" fill="#f04b23"/>
<circle cx="113.3" cy="373.8" r="3.25" fill="#f4e023"/>
<circle cx="119.2" cy="386.4" r="3.25" fill="#e3e42b"/>
<circle cx="91.0" cy="375.3" r="3.25" fill="#efe525"/>
<circle cx="75.4" cy="349.7" r="3.25" fill="#f45e20"/>
<circle cx="185.2" cy="396.2" r="3.25" fill="#b2d550"/>
<circle cx="174.0" cy="380.5" r="3.25" fill="#f4e023"/>
<circle cx="187.8" cy="404.2" r="3.25" fill="#99ce65"/>
<circle cx="159.1" cy="400.5" r="3.25" fill="#c0da43"/>
<circle cx="109.6" cy="384.6" r="3.25" fill="#e9e627"/>
<circle cx="223.3" cy="432.9" r="3.25" fill="#62c3bc"/>
<circle cx="202.0" cy="384.3" r="3.25" fill="#eee526"/>
<circle cx="122.9" cy="374.5" r="3.25" fill="#f9ca20"/>
<circle cx="201.2" cy="394.3" r="3.25" fill="#cadc3b"/>
<circle cx="179.6" cy="406.4" r="3.25" fill="#99ce65"/>
<circle cx="190.5" cy="387.0" r="3.25" fill="#e1e42c"/>
<circle cx="219.8" cy="436.0" r="3.25" fill="#45bcdf"/>
<circle cx="142.5" cy="375.1" r="3.25" fill="#f6dd23"/>
<circle cx="224.7" cy="439.3" r="3.25" fill="#4dbed7"/>
<circle cx="169.4" cy="391.1" r="3.25" fill="#e8e628"/>
<circle cx="153.2" cy="399.3" r="3.25" fill="#afd552"/>
<circle cx="170.7" cy="388.5" r="3.25" fill="#d1df36"/>
<circle cx="175.4" cy="386.9" r="3.25" fill="#e5e52a"/>
<circle cx="189.6" cy="395.8" r="3.25" fill="#bdd946"/>
<circle cx="154.6" cy="396.7" r="3.25" fill="#c6dc3d"/>
<circle cx="172.6" cy="385.1" r="3.25" fill="#ece526"/>
<circle cx="214.5" cy="414.8" r="3.25" fill="#82c779"/>
<circle cx="220.3" cy="418.9" r="3.25" fill="#77c58a"/>
<circle cx="171.1" cy="409.2" r="3.25" fill="#8cca70"/>
<circle cx="74.9" cy="360.1" r="3.25" fill="#f9811d"/>
<circle cx="168.4" cy="377.9" r="3.25" fill="#eee526"/>
<circle cx="195.6" cy="387.2" r="3.25" fill="#d9e131"/>
<circle cx="141.1" cy="400.1" r="3.25" fill="#b8d74a"/>
<circle cx="160.8" cy="375.7" r="3.25" fill="#f5df23"/>
<circle cx="165.4" cy="373.3" r="3.25" fill="#fbc21f"/>
<circle cx="210.6" cy="402.3" r="3.25" fill="#a4d15b"/>
<circle cx="144.3" cy="375.5" r="3.25" fill="#f9ca20"/>
<circle cx="173.2" cy="398.5" r="3.25" fill="#bcd846"/>
<circle cx="126.8" cy="386.0" r="3.25" fill="#eae627"/>
<circle cx="219.4" cy="425.6" r="3.25" fill="#6cc4a5"/>
<circle cx="184.5" cy="393.2" r="3.25" fill="#d9e132"/>
<circle cx="217.7" cy="429.9" r="3.25" fill="#5bc2c7"/>
<circle cx="142.0" cy="377.5" r="3.25" fill="#f6db22"/>
<circle cx="238.9" cy="497.3" r="3.25" fill="#242f81"/>
<circle cx="171.3" cy="379.7" r="3.25" fill="#f0e425"/>
<circle cx="126.1" cy="394.6" r="3.25" fill="#cdde39"/>
<circle cx="99.6" cy="381.1" r="3.25" fill="#f2e324"/>
<circle cx="237.8" cy="493.6" r="3.25" fill="#27358b"/>
<circle cx="75.1" cy="345.2" r="3.25" fill="#ef4223"/>
<circle cx="91.8" cy="379.2" r="3.25" fill="#f1e424"/>
<circle cx="210.0" cy="407.7" r="3.25" fill="#a5d25a"/>
<circle cx="136.4" cy="373.4" r="3.25" fill="#fcb61e"/>
<circle cx="86.9" cy="356.2" r="3.25" fill="#fa8c1c"/>
<circle cx="118.0" cy="376.6" r="3.25" fill="#f3e224"/>
<circle cx="146.9" cy="382.0" r="3.25" fill="#ebe527"/>
<circle cx="60.6" cy="347.2" r="3.25" fill="#f04b23"/>
<circle cx="185.9" cy="383.0" r="3.25" fill="#ece527"/>
<circle cx="150.6" cy="378.8" r="3.25" fill="#f3e123"/>
<circle cx="178.9" cy="388.0" r="3.25" fill="#e9e628"/>
<circle cx="176.8" cy="380.0" r="3.25" fill="#f2e424"/>
<circle cx="237.2" cy="478.9" r="3.25" fill="#2a459f"/>
<circle cx="187.1" cy="380.7" r="3.25" fill="#f0e425"/>
<circle cx="134.3" cy="399.1" r="3.25" fill="#a5d25b"/>
<circle cx="181.1" cy="389.4" r="3.25" fill="#dbe230"/>
<circle cx="214.6" cy="407.8" r="3.25" fill="#92cc6b"/>
<circle cx="75.1" cy="365.7" r="3.25" fill="#fc9e1c"/>
<circle cx="223.4" cy="445.8" r="3.25" fill="#38abe4"/>
<circle cx="129.3" cy="394.8" r="3.25" fill="#c8dc3c"/>
<circle cx="131.6" cy="397.7" r="3.25" fill="#bdd946"/>
<circle cx="225.7" cy="451.2" r="3.25" fill="#3287d0"/>
<circle cx="93.3" cy="373.5" r="3.25" fill="#f4e123"/>
<circle cx="217.7" cy="406.2" r="3.25" fill="#9ace64"/>
<circle cx="149.0" cy="375.2" r="3.25" fill="#f9cd20"/>
<circle cx="215.0" cy="422.6" r="3.25" fill="#71c599"/>
<circle cx="193.6" cy="399.9" r="3.25" fill="#aed453"/>
<circle cx="163.7" cy="385.9" r="3.25" fill="#e3e52b"/>
<circle cx="97.5" cy="369.4" r="3.25" fill="#f9cb20"/>
<circle cx="167.5" cy="397.0" r="3.25" fill="#b3d64f"/>
<circle cx="84.6" cy="357.5" r="3.25" fill="#fa831d"/>
<circle cx="91.0" cy="362.9" r="3.25" fill="#fc9b1c"/>
<circle cx="194.6" cy="396.5" r="3.25" fill="#cfde38"/>
<circle cx="163.1" cy="382.8" r="3.25" fill="#eee526"/>
<circle cx="220.4" cy="430.1" r="3.25" fill="#63c3ba"/>
<circle cx="87.5" cy="375.8" r="3.25" fill="#f7d922"/>
<circle cx="88.2" cy="365.1" r="3.25" fill="#fcae1d"/>
<circle cx="207.7" cy="393.8" r="3.25" fill="#d7e133"/>
<circle cx="220.3" cy="423.3" r="3.25" fill="#69c4ac"/>
<circle cx="221.1" cy="439.5" r="3.25" fill="#47bcdd"/>
<circle cx="82.7" cy="371.3" r="3.25" fill="#f4e023"/>
<circle cx="64.9" cy="339.9" r="3.25" fill="#ed3123"/>
<circle cx="156.5" cy="381.1" r="3.25" fill="#efe525"/>
<circle cx="157.0" cy="385.5" r="3.25" fill="#ebe527"/>
<circle cx="156.4" cy="409.2" r="3.25" fill="#98ce66"/>
<circle cx="226.0" cy="452.8" r="3.25" fill="#2f71c3"/>
<circle cx="233.1" cy="468.2" r="3.25" fill="#2c53ac"/>
<circle cx="215.2" cy="402.7" r="3.25" fill="#aed453"/>
<circle cx="74.3" cy="353.1" r="3.25" fill="#f5611f"/>
<circle cx="80.0" cy="369.7" r="3.25" fill="#fcad1d"/>
<circle cx="226.8" cy="435.3" r="3.25" fill="#4cbed7"/>
<circle cx="73.5" cy="364.0" r="3.25" fill="#fca01c"/>
<circle cx="107.2" cy="385.8" r="3.25" fill="#eae627"/>
<circle cx="72.4" cy="357.2" r="3.25" fill="#fb8f1c"/>
<circle cx="77.6" cy="354.2" r="3.25" fill="#f97f1d"/>
<circle cx="183.4" cy="384.8" r="3.25" fill="#ebe527"/>
<circle cx="128.5" cy="397.2" r="3.25" fill="#b3d64e"/>
<circle cx="92.0" cy="366.0" r="3.25" fill="#fcb01d"/>
<circle cx="186.6" cy="374.2" r="3.25" fill="#f8d521"/>
<circle cx="180.5" cy="409.2" r="3.25" fill="#9ecf61"/>
<circle cx="136.5" cy="377.2" r="3.25" fill="#f5de23"/>
<circle cx="232.7" cy="477.9" r="3.25" fill="#2b48a1"/>
<circle cx="67.0" cy="354.2" r="3.25" fill="#f8751e"/>
<circle cx="120.2" cy="374.1" r="3.25" fill="#f7db22"/>
<circle cx="143.9" cy="379.2" r="3.25" fill="#f2e424"/>
<circle cx="112.8" cy="382.1" r="3.25" fill="#f0e425"/>
<circle cx="72.4" cy="348.9" r="3.25" fill="#f5671f"/>
<circle cx="70.0" cy="348.1" r="3.25" fill="#f45e20"/>
<circle cx="151.2" cy="396.8" r="3.25" fill="#bfd944"/>
<circle cx="133.2" cy="385.2" r="3.25" fill="#e9e627"/>
<circle cx="232.7" cy="482.3" r="3.25" fill="#2a3f98"/>
<circle cx="95.8" cy="363.9" r="3.25" fill="#fc9c1c"/>
<circle cx="166.7" cy="390.9" r="3.25" fill="#dae231"/>
<circle cx="115.0" cy="376.3" r="3.25" fill="#f6dc22"/>
<circle cx="125.7" cy="369.6" r="3.25" fill="#fcb51e"/>
<circle cx="230.2" cy="453.2" r="3.25" fill="#3073c4"/>
<circle cx="189.7" cy="381.0" r="3.25" fill="#f0e425"/>
<circle cx="227.2" cy="440.2" r="3.25" fill="#45bcdf"/>
<circle cx="235.9" cy="470.7" r="3.25" fill="#2b4ca6"/>
<circle cx="182.4" cy="405.5" r="3.25" fill="#a6d25a"/>
<circle cx="230.0" cy="440.9" r="3.25" fill="#52bfd1"/>
<circle cx="236.3" cy="498.7" r="3.25" fill="#232d7d"/>
<circle cx="173.8" cy="403.4" r="3.25" fill="#9ecf61"/>
<circle cx="107.2" cy="388.8" r="3.25" fill="#dee32e"/>
<circle cx="162.4" cy="388.2" r="3.25" fill="#dce22f"/>
<circle cx="143.6" cy="401.4" r="3.25" fill="#add454"/>
<circle cx="191.2" cy="406.3" r="3.25" fill="#8bca71"/>
<circle cx="150.1" cy="403.7" r="3.25" fill="#9fd060"/>
<circle cx="154.5" cy="373.4" r="3.25" fill="#f7db22"/>
<circle cx="62.6" cy="345.2" r="3.25" fill="#f46020"/>
<circle cx="187.1" cy="398.4" r="3.25" fill="#bad848"/>
<circle cx="139.6" cy="384.8" r="3.25" fill="#ece526"/>
<circle cx="158.3" cy="374.8" r="3.25" fill="#f5de23"/>
<circle cx="173.0" cy="389.8" r="3.25" fill="#e5e52a"/>
<circle cx="130.5" cy="386.0" r="3.25" fill="#ebe527"/>
<circle cx="143.9" cy="395.2" r="3.25" fill="#cadd3b"/>
<circle cx="218.4" cy="428.2" r="3.25" fill="#59c1ca"/>
<circle cx="134.0" cy="375.1" r="3.25" fill="#f6dc22"/>
<circle cx="219.4" cy="433.6" r="3.25" fill="#58c1cb"/>
<circle cx="120.5" cy="383.7" r="3.25" fill="#e9e628"/>
<circle cx="222.0" cy="415.9" r="3.25" fill="#74c593"/>
<circle cx="158.2" cy="392.3" r="3.25" fill="#d6e033"/>
<circle cx="162.3" cy="395.7" r="3.25" fill="#b6d74c"/>
<circle cx="175.2" cy="392.9" r="3.25" fill="#d8e132"/>
<circle cx="168.3" cy="380.5" r="3.25" fill="#f1e424"/>
<circle cx="89.6" cy="357.1" r="3.25" fill="#f97b1d"/>
<circle cx="195.4" cy="384.1" r="3.25" fill="#dde32f"/>
<circle cx="80.3" cy="353.1" r="3.25" fill="#f7721e"/>
<circle cx="186.6" cy="391.5" r="3.25" fill="#cfde37"/>
<circle cx="198.5" cy="398.0" r="3.25" fill="#b2d54f"/>
<circle cx="97.2" cy="382.4" r="3.25" fill="#ebe527"/>
<circle cx="188.1" cy="378.2" r="3.25" fill="#f3e324"/>
<circle cx="128.7" cy="373.3" r="3.25" fill="#f3e123"/>
<circle cx="159.2" cy="372.4" r="3.25" fill="#fbc21f"/>
<circle cx="126.2" cy="383.5" r="3.25" fill="#eee525"/>
<circle cx="212.2" cy="396.3" r="3.25" fill="#cadd3a"/>
<circle cx="200.4" cy="389.0" r="3.25" fill="#d5e034"/>
<circle cx="171.3" cy="375.6" r="3.25" fill="#fac920"/>
<circle cx="212.0" cy="409.3" r="3.25" fill="#93cc6a"/>
<circle cx="92.9" cy="361.2" r="3.25" fill="#fb8f1c"/>
<circle cx="140.2" cy="381.4" r="3.25" fill="#f1e424"/>
<circle cx="126.6" cy="397.3" r="3.25" fill="#c9dc3c"/>
<circle cx="165.3" cy="379.6" r="3.25" fill="#f6dc22"/>
<circle cx="96.7" cy="373.9" r="3.25" fill="#f4e123"/>
<circle cx="64.2" cy="347.2" r="3.25" fill="#ef3d23"/>
<circle cx="96.9" cy="365.2" r="3.25" fill="#fb981c"/>
<circle cx="192.4" cy="382.8" r="3.25" fill="#e9e628"/>
<circle cx="76.7" cy="363.0" r="3.25" fill="#fca61c"/>
<circle cx="230.3" cy="449.2" r="3.25" fill="#3492d6"/>
<circle cx="167.6" cy="400.5" r="3.25" fill="#add454"/>
<circle cx="243.0" cy="495.2" r="3.25" fill="#27368b"/>
<circle cx="79.5" cy="349.9" r="3.25" fill="#f5631f"/>
<circle cx="67.3" cy="349.6" r="3.25" fill="#f5661f"/>
<circle cx="196.4" cy="406.1" r="3.25" fill="#9ccf63"/>
<circle cx="196.2" cy="399.5" r="3.25" fill="#b3d64e"/>
<circle cx="141.8" cy="397.4" r="3.25" fill="#a7d259"/>
<circle cx="228.2" cy="465.0" r="3.25" fill="#2d57af"/>
<circle cx="208.3" cy="399.2" r="3.25" fill="#c2da41"/>
<circle cx="112.2" cy="388.6" r="3.25" fill="#e9e628"/>
<circle cx="130.5" cy="390.4" r="3.25" fill="#dce230"/>
<circle cx="87.0" cy="353.3" r="3.25" fill="#f97c1d"/>
<circle cx="143.6" cy="381.9" r="3.25" fill="#ede526"/>
<circle cx="208.5" cy="390.5" r="3.25" fill="#dae131"/>
<circle cx="145.6" cy="397.6" r="3.25" fill="#b7d74b"/>
<circle cx="209.4" cy="412.1" r="3.25" fill="#85c876"/>
<circle cx="59.4" cy="339.0" r="3.25" fill="#ec3023"/>
<circle cx="137.0" cy="385.1" r="3.25" fill="#ebe527"/>
<circle cx="177.5" cy="396.5" r="3.25" fill="#add453"/>
<circle cx="88.0" cy="362.3" r="3.25" fill="#fca11c"/>
<circle cx="138.2" cy="398.8" r="3.25" fill="#c8dc3c"/>
<circle cx="242.8" cy="486.3" r="3.25" fill="#2a4099"/>
<circle cx="215.7" cy="410.8" r="3.25" fill="#98ce66"/>
<circle cx="234.9" cy="473.8" r="3.25" fill="#2b49a3"/>
<circle cx="211.4" cy="393.7" r="3.25" fill="#cddd39"/>
<circle cx="155.9" cy="399.7" r="3.25" fill="#a9d357"/>
<circle cx="227.2" cy="459.7" r="3.25" fill="#2f6abe"/>
<circle cx="163.3" cy="402.2" r="3.25" fill="#b4d64e"/>
<circle cx="137.6" cy="382.2" r="3.25" fill="#eee525"/>
<circle cx="208.3" cy="388.4" r="3.25" fill="#d9e131"/>
<circle cx="106.0" cy="378.3" r="3.25" fill="#f1e424"/>
<circle cx="160.4" cy="398.4" r="3.25" fill="#bbd847"/>
<circle cx="167.2" cy="408.0" r="3.25" fill="#92cc6b"/>
<circle cx="186.0" cy="407.6" r="3.25" fill="#8dca70"/>
<circle cx="94.0" cy="377.1" r="3.25" fill="#f4df23"/>
<circle cx="229.8" cy="484.0" r="3.25" fill="#293e97"/>
<circle cx="69.7" cy="351.8" r="3.25" fill="#f8771d"/>
<circle cx="205.4" cy="400.9" r="3.25" fill="#b3d64e"/>
<circle cx="165.1" cy="404.3" r="3.25" fill="#aed453"/>
<circle cx="232.7" cy="475.4" r="3.25" fill="#2b4aa3"/>
<circle cx="233.7" cy="463.0" r="3.25" fill="#2f6dc0"/>
<circle cx="134.0" cy="372.1" r="3.25" fill="#fac41f"/>
<circle cx="111.4" cy="370.1" r="3.25" fill="#fbbe1f"/>
<circle cx="194.7" cy="375.3" r="3.25" fill="#f3e224"/>
<circle cx="131.0" cy="393.0" r="3.25" fill="#d5e034"/>
<circle cx="189.6" cy="393.1" r="3.25" fill="#c5db3f"/>
<circle cx="230.3" cy="473.4" r="3.25" fill="#2b4aa4"/>
<circle cx="80.9" cy="366.6" r="3.25" fill="#fca31c"/>
<circle cx="223.8" cy="424.4" r="3.25" fill="#63c3b9"/>
<circle cx="143.6" cy="384.6" r="3.25" fill="#dee32e"/>
<circle cx="85.0" cy="360.9" r="3.25" fill="#fa891c"/>
<circle cx="164.9" cy="396.2" r="3.25" fill="#c8dc3c"/>
<circle cx="206.0" cy="389.8" r="3.25" fill="#d5e034"/>
<circle cx="102.3" cy="372.5" r="3.25" fill="#f5dd23"/>
<circle cx="151.5" cy="393.7" r="3.25" fill="#c7dc3d"/>
<circle cx="202.3" cy="405.6" r="3.25" fill="#a9d357"/>
<circle cx="197.7" cy="402.3" r="3.25" fill="#add454"/>
<circle cx="235.4" cy="495.4" r="3.25" fill="#253184"/>
<circle cx="208.1" cy="396.6" r="3.25" fill="#c8dc3c"/>
<circle cx="151.2" cy="405.1" r="3.25" fill="#a3d15d"/>
<circle cx="69.9" cy="358.4" r="3.25" fill="#f97c1d"/>
<circle cx="179.8" cy="392.4" r="3.25" fill="#ccdd39"/>
<circle cx="169.6" cy="383.3" r="3.25" fill="#e9e627"/>
<circle cx="120.5" cy="377.0" r="3.25" fill="#f4df23"/>
<circle cx="149.9" cy="387.1" r="3.25" fill="#e2e42c"/>
<circle cx="116.5" cy="370.9" r="3.25" fill="#fcbb1e"/>
<circle cx="171.1" cy="397.1" r="3.25" fill="#c1da42"/>
<circle cx="120.3" cy="379.9" r="3.25" fill="#f3e324"/>
<circle cx="160.0" cy="394.3" r="3.25" fill="#d3df35"/>
<circle cx="170.9" cy="405.3" r="3.25" fill="#a3d15c"/>
<circle cx="145.3" cy="390.0" r="3.25" fill="#dce22f"/>
<circle cx="97.9" cy="378.9" r="3.25" fill="#efe525"/>
<circle cx="238.7" cy="470.2" r="3.25" fill="#2b4ca6"/>
<circle cx="77.6" cy="357.7" r="3.25" fill="#fa821d"/>
<circle cx="78.2" cy="365.3" r="3.25" fill="#fcaa1d"/>
<circle cx="100.2" cy="367.1" r="3.25" fill="#fcac1d"/>
<circle cx="238.1" cy="465.9" r="3.25" fill="#2d59b1"/>
<circle cx="221.7" cy="426.7" r="3.25" fill="#73c595"/>
<circle cx="168.6" cy="404.2" r="3.25" fill="#add454"/>
<circle cx="222.6" cy="417.6" r="3.25" fill="#7cc680"/>
<circle cx="187.4" cy="387.8" r="3.25" fill="#e3e42b"/>
<circle cx="232.8" cy="497.2" r="3.25" fill="#263488"/>
<circle cx="59.9" cy="335.7" r="3.25" fill="#e92823"/>
<circle cx="129.7" cy="370.1" r="3.25" fill="#fcb41e"/>
<circle cx="223.6" cy="421.1" r="3.25" fill="#70c59b"/>
<circle cx="213.9" cy="419.5" r="3.25" fill="#6fc59f"/>
<circle cx="58.1" cy="341.3" r="3.25" fill="#ee3823"/>
<circle cx="107.2" cy="370.7" r="3.25" fill="#fac620"/>
<circle cx="229.6" cy="477.0" r="3.25" fill="#2b46a0"/>
<circle cx="183.0" cy="398.3" r="3.25" fill="#c5db3e"/>
<circle cx="69.4" cy="342.9" r="3.25" fill="#ec3023"/>
<circle cx="235.2" cy="477.4" r="3.25" fill="#2a449d"/>
<circle cx="231.1" cy="462.0" r="3.25" fill="#2f72c3"/>
<circle cx="62.4" cy="349.1" r="3.25" fill="#f5651f"/>
<circle cx="163.1" cy="407.6" r="3.25" fill="#95cd69"/>
<circle cx="181.0" cy="401.1" r="3.25" fill="#bad848"/>
<circle cx="146.8" cy="400.0" r="3.25" fill="#b4d64e"/>
<circle cx="241.9" cy="483.4" r="3.25" fill="#2a3f98"/>
<circle cx="152.0" cy="390.3" r="3.25" fill="#d9e131"/>
<circle cx="123.2" cy="396.6" r="3.25" fill="#c0da43"/>
<circle cx="165.4" cy="393.2" r="3.25" fill="#d3df35"/>
<circle cx="119.8" cy="370.7" r="3.25" fill="#fbc01f"/>
<circle cx="230.9" cy="486.5" r="3.25" fill="#293d97"/>
<circle cx="163.0" cy="377.9" r="3.25" fill="#f3e123"/>
<circle cx="233.3" cy="493.9" r="3.25" fill="#242f80"/>
<circle cx="240.9" cy="481.7" r="3.25" fill="#2a409a"/>
<circle cx="203.1" cy="396.2" r="3.25" fill="#bfd944"/>
<circle cx="64.7" cy="353.0" r="3.25" fill="#f8751e"/>
<circle cx="155.8" cy="393.6" r="3.25" fill="#d8e132"/>
<circle cx="67.1" cy="341.3" r="3.25" fill="#ed3523"/>
<circle cx="134.6" cy="387.4" r="3.25" fill="#e7e629"/>
<circle cx="128.2" cy="376.5" r="3.25" fill="#f4e023"/>
<circle cx="87.8" cy="372.6" r="3.25" fill="#f7da22"/>
<circle cx="201.0" cy="391.7" r="3.25" fill="#dbe230"/>
<circle cx="113.6" cy="384.6" r="3.25" fill="#ece526"/>
<circle cx="183.4" cy="403.1" r="3.25" fill="#a5d15b"/>
<circle cx="202.7" cy="402.0" r="3.25" fill="#bbd847"/>
<circle cx="116.9" cy="384.6" r="3.25" fill="#eee526"/>
<circle cx="205.0" cy="407.3" r="3.25" fill="#9ccf63"/>
<circle cx="160.4" cy="391.0" r="3.25" fill="#d9e132"/>
<circle cx="147.7" cy="392.0" r="3.25" fill="#ccdd3a"/>
<circle cx="114.6" cy="387.5" r="3.25" fill="#e8e628"/>
<circle cx="89.1" cy="367.5" r="3.25" fill="#fcb81e"/>
<circle cx="196.4" cy="392.2" r="3.25" fill="#cbdd3a"/>
<circle cx="149.1" cy="389.7" r="3.25" fill="#d5e034"/>
<circle cx="239.1" cy="488.3" r="3.25" fill="#293d96"/>
<circle cx="104.4" cy="367.8" r="3.25" fill="#fca71c"/>
<circle cx="106.1" cy="367.7" r="3.25" fill="#fca71c"/>
<circle cx="107.5" cy="366.7" r="3.25" fill="#fca21c"/>
<circle cx="108.8" cy="367.7" r="3.25" fill="#fca71c"/>
<circle cx="118.6" cy="368.5" r="3.25" fill="#fcab1d"/>
<circle cx="120.2" cy="368.1" r="3.25" fill="#fca91d"/>
<circle cx="121.7" cy="367.0" r="3.25" fill="#fca31c"/>
<circle cx="123.4" cy="366.6" r="3.25" fill="#fca11c"/>
<circle cx="125.1" cy="366.7" r="3.25" fill="#fca21c"/>
<circle cx="126.8" cy="366.5" r="3.25" fill="#fca11c"/>
<circle cx="128.4" cy="365.7" r="3.25" fill="#fc9f1c"/>
<circle cx="130.2" cy="366.2" r="3.25" fill="#fca01c"/>
<circle cx="146.4" cy="373.5" r="3.25" fill="#f9cd20"/>
<circle cx="147.7" cy="372.5" r="3.25" fill="#fac51f"/>
<circle cx="149.2" cy="371.9" r="3.25" fill="#fbc01f"/>
<circle cx="153.3" cy="368.7" r="3.25" fill="#fcac1d"/>
<circle cx="155.1" cy="368.3" r="3.25" fill="#fcaa1d"/>
<circle cx="156.6" cy="367.5" r="3.25" fill="#fca61c"/>
<circle cx="158.0" cy="367.4" r="3.25" fill="#fca51c"/>
<circle cx="159.8" cy="366.9" r="3.25" fill="#fca31c"/>
<circle cx="161.5" cy="367.5" r="3.25" fill="#fca61c"/>
<circle cx="162.8" cy="368.8" r="3.25" fill="#fcad1d"/>
<circle cx="183.3" cy="371.7" r="3.25" fill="#fbbf1f"/>
<circle cx="185.0" cy="371.1" r="3.25" fill="#fcba1e"/>
<circle cx="186.6" cy="370.5" r="3.25" fill="#fcb71e"/>
<circle cx="188.1" cy="369.6" r="3.25" fill="#fcb21d"/>
<circle cx="189.8" cy="370.3" r="3.25" fill="#fcb61e"/>
<circle cx="191.5" cy="370.3" r="3.25" fill="#fcb51e"/>
<circle cx="193.2" cy="370.2" r="3.25" fill="#fcb51e"/>
<circle cx="194.7" cy="371.0" r="3.25" fill="#fcb91e"/>
</g>
<rect x="46.8" y="307.5" width="205.5" height="200.0" fill="none" stroke="#2b2b2b" stroke-width="1"/>
<line x1="55.8" y1="507.5" x2="55.8" y2="511.3" stroke="#2b2b2b" stroke-width="1"/>
<text x="55.8" y="524.9" font-size="12.4" text-anchor="middle" fill="#1a1a1a">0</text>
<line x1="96.8" y1="507.5" x2="96.8" y2="511.3" stroke="#2b2b2b" stroke-width="1"/>
<text x="96.8" y="524.9" font-size="12.4" text-anchor="middle" fill="#1a1a1a">10</text>
<line x1="137.9" y1="507.5" x2="137.9" y2="511.3" stroke="#2b2b2b" stroke-width="1"/>
<text x="137.9" y="524.9" font-size="12.4" text-anchor="middle" fill="#1a1a1a">20</text>
<line x1="178.9" y1="507.5" x2="178.9" y2="511.3" stroke="#2b2b2b" stroke-width="1"/>
<text x="178.9" y="524.9" font-size="12.4" text-anchor="middle" fill="#1a1a1a">30</text>
<line x1="219.9" y1="507.5" x2="219.9" y2="511.3" stroke="#2b2b2b" stroke-width="1"/>
<text x="219.9" y="524.9" font-size="12.4" text-anchor="middle" fill="#1a1a1a">40</text>
<line x1="43.0" y1="492.2" x2="46.8" y2="492.2" stroke="#2b2b2b" stroke-width="1"/>
<text transform="translate(37.8,488.0) rotate(-90)" font-size="12.4" text-anchor="end" fill="#1a1a1a">0.5</text>
<line x1="43.0" y1="457.4" x2="46.8" y2="457.4" stroke="#2b2b2b" stroke-width="1"/>
<text transform="translate(37.8,453.2) rotate(-90)" font-size="12.4" text-anchor="end" fill="#1a1a1a">1.0</text>
<line x1="43.0" y1="422.5" x2="46.8" y2="422.5" stroke="#2b2b2b" stroke-width="1"/>
<text transform="translate(37.8,418.3) rotate(-90)" font-size="12.4" text-anchor="end" fill="#1a1a1a">1.5</text>
<line x1="43.0" y1="387.7" x2="46.8" y2="387.7" stroke="#2b2b2b" stroke-width="1"/>
<text transform="translate(37.8,383.5) rotate(-90)" font-size="12.4" text-anchor="end" fill="#1a1a1a">2.0</text>
<line x1="43.0" y1="352.8" x2="46.8" y2="352.8" stroke="#2b2b2b" stroke-width="1"/>
<text transform="translate(37.8,348.6) rotate(-90)" font-size="12.4" text-anchor="end" fill="#1a1a1a">2.5</text>
<line x1="43.0" y1="318.0" x2="46.8" y2="318.0" stroke="#2b2b2b" stroke-width="1"/>
<text transform="translate(37.8,313.8) rotate(-90)" font-size="12.4" text-anchor="end" fill="#1a1a1a">3.0</text>
<text x="149.6" y="541.5" font-size="12.7" text-anchor="middle" fill="#1a1a1a">Speed (km/h)</text>
<text transform="translate(19.4,408.1) rotate(-90)" font-size="12.8" text-anchor="middle" fill="#1a1a1a" style="font-family:'DejaVu Sans','Liberation Sans',sans-serif">CO<tspan font-size="9" dy="2.3">2</tspan><tspan dy="-2.3" dx="0.8"> (g)</tspan></text>
<text x="149.8" y="322.1" font-size="16.5" font-weight="bold" text-anchor="middle" fill="#1a1a1a">C</text>
<text x="47.0" y="303.5" font-size="12.4" fill="#1a1a1a">×10<tspan font-size="8.7" dy="-4.2">5</tspan></text>
<text x="158.8" y="352.3" font-size="14.7" font-weight="bold" fill="#1a1a1a">r = −0.92</text>
<g>
<circle cx="323.1" cy="498.9" r="3.25" fill="#242f80"/>
<circle cx="324.9" cy="498.5" r="3.25" fill="#242f80"/>
<circle cx="323.1" cy="497.7" r="3.25" fill="#242f80"/>
<circle cx="324.2" cy="497.2" r="3.25" fill="#263589"/>
<circle cx="323.5" cy="496.5" r="3.25" fill="#263488"/>
<circle cx="323.8" cy="496.0" r="3.25" fill="#26358a"/>
<circle cx="325.2" cy="495.5" r="3.25" fill="#253183"/>
<circle cx="324.2" cy="494.8" r="3.25" fill="#26358a"/>
<circle cx="324.1" cy="494.2" r="3.25" fill="#263488"/>
<circle cx="323.6" cy="493.5" r="3.25" fill="#232e7f"/>
<circle cx="324.3" cy="493.0" r="3.25" fill="#26358a"/>
<circle cx="323.8" cy="492.3" r="3.25" fill="#263589"/>
<circle cx="323.8" cy="491.7" r="3.25" fill="#263489"/>
<circle cx="325.4" cy="491.3" r="3.25" fill="#263488"/>
<circle cx="325.9" cy="490.8" r="3.25" fill="#283990"/>
<circle cx="324.2" cy="490.0" r="3.25" fill="#293e97"/>
<circle cx="325.8" cy="489.6" r="3.25" fill="#293b93"/>
<circle cx="326.0" cy="489.0" r="3.25" fill="#293d96"/>
<circle cx="326.1" cy="488.4" r="3.25" fill="#283890"/>
<circle cx="324.8" cy="487.6" r="3.25" fill="#293d96"/>
<circle cx="324.4" cy="487.0" r="3.25" fill="#2a4099"/>
<circle cx="325.9" cy="486.6" r="3.25" fill="#2a4099"/>
<circle cx="324.5" cy="485.8" r="3.25" fill="#26358a"/>
<circle cx="326.6" cy="485.4" r="3.25" fill="#293e97"/>
<circle cx="326.6" cy="484.8" r="3.25" fill="#2a3f99"/>
<circle cx="324.7" cy="484.0" r="3.25" fill="#2a429b"/>
<circle cx="324.7" cy="483.4" r="3.25" fill="#293e97"/>
<circle cx="326.9" cy="483.1" r="3.25" fill="#2a409a"/>
<circle cx="326.0" cy="482.3" r="3.25" fill="#2a3f98"/>
<circle cx="326.2" cy="481.8" r="3.25" fill="#2b46a0"/>
<circle cx="327.1" cy="481.3" r="3.25" fill="#2a4099"/>
<circle cx="327.0" cy="480.7" r="3.25" fill="#2a459f"/>
<circle cx="325.4" cy="479.8" r="3.25" fill="#2a4099"/>
<circle cx="327.0" cy="479.4" r="3.25" fill="#2a3f99"/>
<circle cx="327.4" cy="478.9" r="3.25" fill="#2a439d"/>
<circle cx="326.0" cy="478.1" r="3.25" fill="#2b49a3"/>
<circle cx="327.6" cy="477.7" r="3.25" fill="#2b4aa4"/>
<circle cx="327.1" cy="477.0" r="3.25" fill="#2b47a0"/>
<circle cx="327.8" cy="476.5" r="3.25" fill="#2b4aa3"/>
<circle cx="325.7" cy="475.6" r="3.25" fill="#2b49a3"/>
<circle cx="327.7" cy="475.3" r="3.25" fill="#2c4da7"/>
<circle cx="326.0" cy="474.5" r="3.25" fill="#2b48a2"/>
<circle cx="328.1" cy="474.1" r="3.25" fill="#2b49a3"/>
<circle cx="326.6" cy="473.3" r="3.25" fill="#2b48a1"/>
<circle cx="328.5" cy="473.0" r="3.25" fill="#2b48a2"/>
<circle cx="328.2" cy="472.3" r="3.25" fill="#2b49a2"/>
<circle cx="328.4" cy="471.8" r="3.25" fill="#2b4ca6"/>
<circle cx="326.3" cy="470.9" r="3.25" fill="#2c50aa"/>
<circle cx="327.5" cy="470.4" r="3.25" fill="#2c53ac"/>
<circle cx="327.9" cy="469.9" r="3.25" fill="#2c4fa9"/>
<circle cx="328.9" cy="469.4" r="3.25" fill="#2c50aa"/>
<circle cx="327.4" cy="468.6" r="3.25" fill="#2c4fa9"/>
<circle cx="328.9" cy="468.2" r="3.25" fill="#2c50aa"/>
<circle cx="329.2" cy="467.6" r="3.25" fill="#2d55ae"/>
<circle cx="328.5" cy="466.9" r="3.25" fill="#2c4da7"/>
<circle cx="326.9" cy="466.1" r="3.25" fill="#2c4fa9"/>
<circle cx="329.3" cy="465.8" r="3.25" fill="#2c54ad"/>
<circle cx="327.1" cy="464.9" r="3.25" fill="#2c53ac"/>
<circle cx="329.7" cy="464.7" r="3.25" fill="#2c50aa"/>
<circle cx="329.7" cy="464.1" r="3.25" fill="#2d5bb3"/>
<circle cx="328.6" cy="463.3" r="3.25" fill="#2d5cb3"/>
<circle cx="329.8" cy="462.9" r="3.25" fill="#2d5cb3"/>
<circle cx="329.9" cy="462.3" r="3.25" fill="#2e63b8"/>
<circle cx="327.6" cy="461.3" r="3.25" fill="#2e62b7"/>
<circle cx="330.1" cy="461.1" r="3.25" fill="#2e63b8"/>
<circle cx="329.3" cy="460.4" r="3.25" fill="#2e69bd"/>
<circle cx="330.3" cy="460.0" r="3.25" fill="#2e65b9"/>
<circle cx="330.4" cy="459.4" r="3.25" fill="#2f69bd"/>
<circle cx="329.8" cy="458.7" r="3.25" fill="#2f70c2"/>
<circle cx="327.9" cy="457.7" r="3.25" fill="#3075c6"/>
<circle cx="330.8" cy="457.6" r="3.25" fill="#3074c5"/>
<circle cx="330.8" cy="457.0" r="3.25" fill="#3077c7"/>
<circle cx="330.8" cy="456.4" r="3.25" fill="#3078c8"/>
<circle cx="328.6" cy="455.4" r="3.25" fill="#3491d5"/>
<circle cx="329.0" cy="454.9" r="3.25" fill="#3078c8"/>
<circle cx="329.5" cy="454.3" r="3.25" fill="#3180cc"/>
<circle cx="328.7" cy="453.6" r="3.25" fill="#3077c7"/>
<circle cx="331.5" cy="453.5" r="3.25" fill="#3287d0"/>
<circle cx="331.3" cy="452.8" r="3.25" fill="#3491d5"/>
<circle cx="329.6" cy="451.9" r="3.25" fill="#3182cd"/>
<circle cx="330.7" cy="451.5" r="3.25" fill="#369ddc"/>
<circle cx="332.2" cy="451.2" r="3.25" fill="#338bd2"/>
<circle cx="329.1" cy="450.0" r="3.25" fill="#3284ce"/>
<circle cx="329.2" cy="449.4" r="3.25" fill="#3494d7"/>
<circle cx="329.5" cy="448.9" r="3.25" fill="#338fd4"/>
<circle cx="329.7" cy="448.3" r="3.25" fill="#338cd3"/>
<circle cx="331.2" cy="447.9" r="3.25" fill="#37a2df"/>
<circle cx="329.9" cy="447.1" r="3.25" fill="#3494d7"/>
<circle cx="331.6" cy="446.8" r="3.25" fill="#37a4e0"/>
<circle cx="333.1" cy="446.5" r="3.25" fill="#369ddc"/>
<circle cx="330.1" cy="445.2" r="3.25" fill="#38ace4"/>
<circle cx="330.1" cy="444.6" r="3.25" fill="#38aee5"/>
<circle cx="333.5" cy="444.8" r="3.25" fill="#39b3e8"/>
<circle cx="333.5" cy="444.2" r="3.25" fill="#37a7e1"/>
<circle cx="333.8" cy="443.6" r="3.25" fill="#38afe6"/>
<circle cx="332.7" cy="442.7" r="3.25" fill="#38aae3"/>
<circle cx="332.3" cy="442.1" r="3.25" fill="#36a0dd"/>
<circle cx="333.5" cy="441.7" r="3.25" fill="#39b3e8"/>
<circle cx="331.6" cy="440.7" r="3.25" fill="#48bddc"/>
<circle cx="331.4" cy="440.0" r="3.25" fill="#43bbe2"/>
<circle cx="334.9" cy="440.2" r="3.25" fill="#46bcde"/>
<circle cx="333.9" cy="439.3" r="3.25" fill="#39b0e6"/>
<circle cx="330.9" cy="438.0" r="3.25" fill="#3dbae8"/>
<circle cx="333.5" cy="438.0" r="3.25" fill="#4bbed8"/>
<circle cx="335.7" cy="437.9" r="3.25" fill="#4bbdd9"/>
<circle cx="334.3" cy="437.0" r="3.25" fill="#50bfd3"/>
<circle cx="336.2" cy="436.8" r="3.25" fill="#3dbae8"/>
<circle cx="335.9" cy="436.1" r="3.25" fill="#56c0cd"/>
<circle cx="331.8" cy="434.5" r="3.25" fill="#58c1cb"/>
<circle cx="336.5" cy="435.0" r="3.25" fill="#57c1cc"/>
<circle cx="332.5" cy="433.5" r="3.25" fill="#57c1cc"/>
<circle cx="331.3" cy="432.6" r="3.25" fill="#63c3ba"/>
<circle cx="337.0" cy="433.3" r="3.25" fill="#59c1ca"/>
<circle cx="337.5" cy="432.7" r="3.25" fill="#59c1ca"/>
<circle cx="337.7" cy="432.2" r="3.25" fill="#5cc2c7"/>
<circle cx="336.0" cy="431.2" r="3.25" fill="#61c3be"/>
<circle cx="338.1" cy="431.1" r="3.25" fill="#57c1cc"/>
<circle cx="335.8" cy="429.9" r="3.25" fill="#57c1cc"/>
<circle cx="331.7" cy="428.4" r="3.25" fill="#63c3b9"/>
<circle cx="338.2" cy="429.2" r="3.25" fill="#63c3ba"/>
<circle cx="339.1" cy="429.0" r="3.25" fill="#61c3be"/>
<circle cx="332.3" cy="426.5" r="3.25" fill="#62c3bd"/>
<circle cx="332.4" cy="425.9" r="3.25" fill="#6dc4a3"/>
<circle cx="338.4" cy="427.0" r="3.25" fill="#66c4b3"/>
<circle cx="339.6" cy="426.7" r="3.25" fill="#61c3be"/>
<circle cx="339.9" cy="426.1" r="3.25" fill="#63c3ba"/>
<circle cx="340.2" cy="425.6" r="3.25" fill="#60c3c1"/>
<circle cx="333.5" cy="423.1" r="3.25" fill="#6ec4a1"/>
<circle cx="340.4" cy="424.4" r="3.25" fill="#6cc4a5"/>
<circle cx="339.9" cy="423.6" r="3.25" fill="#71c598"/>
<circle cx="333.9" cy="421.3" r="3.25" fill="#71c599"/>
<circle cx="340.8" cy="422.6" r="3.25" fill="#6dc4a3"/>
<circle cx="340.4" cy="421.9" r="3.25" fill="#70c59b"/>
<circle cx="375.3" cy="375.1" r="3.25" fill="#f6dc22"/>
<circle cx="388.2" cy="336.6" r="3.25" fill="#ea2b23"/>
<circle cx="350.2" cy="405.3" r="3.25" fill="#a3d15c"/>
<circle cx="389.3" cy="364.1" r="3.25" fill="#fc9b1c"/>
<circle cx="345.1" cy="407.0" r="3.25" fill="#a6d259"/>
<circle cx="352.6" cy="416.4" r="3.25" fill="#73c594"/>
<circle cx="360.7" cy="401.8" r="3.25" fill="#9ecf61"/>
<circle cx="392.1" cy="410.5" r="3.25" fill="#87c975"/>
<circle cx="383.0" cy="409.4" r="3.25" fill="#80c77a"/>
<circle cx="369.0" cy="403.5" r="3.25" fill="#aad356"/>
<circle cx="371.2" cy="407.4" r="3.25" fill="#95cd68"/>
<circle cx="395.8" cy="402.4" r="3.25" fill="#afd552"/>
<circle cx="382.2" cy="389.6" r="3.25" fill="#d1df36"/>
<circle cx="405.9" cy="390.4" r="3.25" fill="#d5e034"/>
<circle cx="381.6" cy="400.8" r="3.25" fill="#b7d74b"/>
<circle cx="389.4" cy="367.7" r="3.25" fill="#fcba1e"/>
<circle cx="374.9" cy="383.2" r="3.25" fill="#ece526"/>
<circle cx="345.1" cy="414.0" r="3.25" fill="#79c686"/>
<circle cx="396.2" cy="345.6" r="3.25" fill="#f14c22"/>
<circle cx="394.8" cy="396.6" r="3.25" fill="#c6db3e"/>
<circle cx="388.1" cy="392.8" r="3.25" fill="#dee32f"/>
<circle cx="355.1" cy="388.6" r="3.25" fill="#e2e42c"/>
<circle cx="386.9" cy="366.3" r="3.25" fill="#fca41c"/>
<circle cx="381.3" cy="392.7" r="3.25" fill="#c1da42"/>
<circle cx="392.0" cy="341.5" r="3.25" fill="#ed3223"/>
<circle cx="395.0" cy="330.8" r="3.25" fill="#dd2122"/>
<circle cx="365.5" cy="383.8" r="3.25" fill="#e8e628"/>
<circle cx="376.1" cy="379.0" r="3.25" fill="#f6db22"/>
<circle cx="404.4" cy="368.2" r="3.25" fill="#f8d221"/>
<circle cx="347.1" cy="409.3" r="3.25" fill="#92cc6b"/>
<circle cx="366.6" cy="402.6" r="3.25" fill="#b4d64e"/>
<circle cx="372.9" cy="402.6" r="3.25" fill="#afd452"/>
<circle cx="394.4" cy="382.5" r="3.25" fill="#f0e425"/>
<circle cx="391.7" cy="369.5" r="3.25" fill="#fcac1d"/>
<circle cx="385.2" cy="334.8" r="3.25" fill="#e72623"/>
<circle cx="377.4" cy="385.0" r="3.25" fill="#e1e42c"/>
<circle cx="372.8" cy="392.7" r="3.25" fill="#c8dc3c"/>
<circle cx="376.8" cy="387.6" r="3.25" fill="#e1e42d"/>
<circle cx="403.2" cy="392.1" r="3.25" fill="#cbdd3a"/>
<circle cx="405.6" cy="393.1" r="3.25" fill="#cadd3b"/>
<circle cx="349.4" cy="397.2" r="3.25" fill="#bbd847"/>
<circle cx="403.5" cy="398.8" r="3.25" fill="#c2da42"/>
<circle cx="385.5" cy="395.0" r="3.25" fill="#bad848"/>
<circle cx="377.4" cy="404.4" r="3.25" fill="#a9d357"/>
<circle cx="378.6" cy="377.9" r="3.25" fill="#eee526"/>
<circle cx="401.6" cy="368.4" r="3.25" fill="#fca71c"/>
<circle cx="398.6" cy="365.0" r="3.25" fill="#fca11c"/>
<circle cx="393.5" cy="360.5" r="3.25" fill="#fb911c"/>
<circle cx="360.1" cy="385.3" r="3.25" fill="#e6e52a"/>
<circle cx="381.9" cy="407.0" r="3.25" fill="#8aca72"/>
<circle cx="397.1" cy="353.6" r="3.25" fill="#fa861d"/>
<circle cx="389.6" cy="375.9" r="3.25" fill="#f6dc22"/>
<circle cx="340.3" cy="416.8" r="3.25" fill="#76c58d"/>
<circle cx="385.0" cy="342.4" r="3.25" fill="#ef4423"/>
<circle cx="335.1" cy="428.1" r="3.25" fill="#61c3bf"/>
<circle cx="402.3" cy="344.5" r="3.25" fill="#f25521"/>
<circle cx="403.6" cy="366.4" r="3.25" fill="#fcb41e"/>
<circle cx="390.3" cy="388.8" r="3.25" fill="#dee32e"/>
<circle cx="370.4" cy="379.8" r="3.25" fill="#ece526"/>
<circle cx="343.7" cy="409.2" r="3.25" fill="#9ace64"/>
<circle cx="339.7" cy="414.3" r="3.25" fill="#7cc680"/>
<circle cx="396.7" cy="340.7" r="3.25" fill="#ee3823"/>
<circle cx="332.8" cy="422.7" r="3.25" fill="#7bc682"/>
<circle cx="378.0" cy="399.7" r="3.25" fill="#b8d74a"/>
<circle cx="399.3" cy="340.3" r="3.25" fill="#ed3123"/>
<circle cx="378.6" cy="395.9" r="3.25" fill="#b9d749"/>
<circle cx="399.9" cy="378.9" r="3.25" fill="#f3e123"/>
<circle cx="400.2" cy="399.1" r="3.25" fill="#c8dc3c"/>
<circle cx="352.4" cy="399.0" r="3.25" fill="#bed944"/>
<circle cx="401.4" cy="373.3" r="3.25" fill="#f6db22"/>
<circle cx="355.7" cy="397.8" r="3.25" fill="#aad357"/>
<circle cx="371.2" cy="404.8" r="3.25" fill="#96cd68"/>
<circle cx="339.8" cy="421.6" r="3.25" fill="#6fc59d"/>
<circle cx="372.9" cy="379.4" r="3.25" fill="#f3e324"/>
<circle cx="398.3" cy="373.8" r="3.25" fill="#f4e123"/>
<circle cx="368.3" cy="371.3" r="3.25" fill="#fbc21f"/>
<circle cx="342.5" cy="421.1" r="3.25" fill="#6dc4a2"/>
<circle cx="394.9" cy="374.1" r="3.25" fill="#f7db22"/>
<circle cx="399.5" cy="346.3" r="3.25" fill="#f14b23"/>
<circle cx="380.8" cy="383.6" r="3.25" fill="#ebe527"/>
<circle cx="392.8" cy="348.5" r="3.25" fill="#f97d1d"/>
<circle cx="346.8" cy="404.9" r="3.25" fill="#a3d15c"/>
<circle cx="402.3" cy="340.1" r="3.25" fill="#ed3623"/>
<circle cx="336.7" cy="422.1" r="3.25" fill="#70c59b"/>
<circle cx="367.3" cy="398.9" r="3.25" fill="#a3d15d"/>
<circle cx="345.3" cy="402.2" r="3.25" fill="#b4d64e"/>
<circle cx="399.0" cy="359.4" r="3.25" fill="#fb911c"/>
<circle cx="365.4" cy="394.2" r="3.25" fill="#c9dc3c"/>
<circle cx="368.7" cy="374.1" r="3.25" fill="#fac820"/>
<circle cx="376.7" cy="401.9" r="3.25" fill="#a3d15d"/>
<circle cx="380.5" cy="335.3" r="3.25" fill="#e92823"/>
<circle cx="372.0" cy="382.8" r="3.25" fill="#ebe527"/>
<circle cx="341.5" cy="423.9" r="3.25" fill="#67c4b0"/>
<circle cx="400.9" cy="389.0" r="3.25" fill="#dce22f"/>
<circle cx="350.1" cy="413.4" r="3.25" fill="#7dc67d"/>
<circle cx="369.1" cy="383.7" r="3.25" fill="#eae627"/>
<circle cx="335.0" cy="417.0" r="3.25" fill="#78c688"/>
<circle cx="396.8" cy="381.5" r="3.25" fill="#f1e424"/>
<circle cx="362.4" cy="383.4" r="3.25" fill="#e4e52b"/>
<circle cx="381.9" cy="330.9" r="3.25" fill="#e42223"/>
<circle cx="380.1" cy="380.6" r="3.25" fill="#f5dd23"/>
<circle cx="340.7" cy="409.1" r="3.25" fill="#8bca71"/>
<circle cx="343.0" cy="426.6" r="3.25" fill="#61c3bf"/>
<circle cx="333.4" cy="425.6" r="3.25" fill="#68c4af"/>
<circle cx="397.5" cy="329.0" r="3.25" fill="#c41d20"/>
<circle cx="398.6" cy="406.0" r="3.25" fill="#a0d05f"/>
<circle cx="356.3" cy="401.0" r="3.25" fill="#afd552"/>
<circle cx="398.4" cy="401.9" r="3.25" fill="#b0d551"/>
<circle cx="399.1" cy="351.9" r="3.25" fill="#f25521"/>
<circle cx="341.8" cy="407.2" r="3.25" fill="#9fd060"/>
<circle cx="367.8" cy="407.5" r="3.25" fill="#82c779"/>
<circle cx="403.1" cy="394.6" r="3.25" fill="#bfd943"/>
<circle cx="359.7" cy="405.3" r="3.25" fill="#86c975"/>
<circle cx="403.3" cy="363.6" r="3.25" fill="#fca11c"/>
<circle cx="367.1" cy="386.9" r="3.25" fill="#e4e52a"/>
<circle cx="358.8" cy="397.2" r="3.25" fill="#abd355"/>
<circle cx="397.7" cy="343.5" r="3.25" fill="#f35621"/>
<circle cx="403.4" cy="382.8" r="3.25" fill="#ebe527"/>
<circle cx="402.2" cy="336.8" r="3.25" fill="#ea2b23"/>
<circle cx="399.4" cy="371.3" r="3.25" fill="#fcb21d"/>
<circle cx="370.7" cy="397.0" r="3.25" fill="#b9d849"/>
<circle cx="361.5" cy="391.5" r="3.25" fill="#ccdd39"/>
<circle cx="370.3" cy="376.8" r="3.25" fill="#f2e424"/>
<circle cx="336.1" cy="425.1" r="3.25" fill="#64c4b7"/>
<circle cx="364.3" cy="397.6" r="3.25" fill="#b7d74b"/>
<circle cx="392.6" cy="363.6" r="3.25" fill="#fb991c"/>
<circle cx="395.9" cy="371.1" r="3.25" fill="#f7da22"/>
<circle cx="395.0" cy="357.9" r="3.25" fill="#f8771e"/>
<circle cx="379.2" cy="409.0" r="3.25" fill="#88c973"/>
<circle cx="360.2" cy="409.6" r="3.25" fill="#99ce65"/>
<circle cx="404.5" cy="375.0" r="3.25" fill="#f1e424"/>
<circle cx="356.0" cy="382.9" r="3.25" fill="#e8e628"/>
<circle cx="350.1" cy="401.0" r="3.25" fill="#a6d25a"/>
<circle cx="350.7" cy="391.3" r="3.25" fill="#cbdd3a"/>
<circle cx="362.9" cy="380.7" r="3.25" fill="#f0e425"/>
<circle cx="390.2" cy="347.8" r="3.25" fill="#f4611f"/>
<circle cx="394.4" cy="393.8" r="3.25" fill="#cadd3b"/>
<circle cx="357.7" cy="410.2" r="3.25" fill="#94cc6a"/>
<circle cx="364.1" cy="392.1" r="3.25" fill="#d8e132"/>
<circle cx="383.2" cy="336.3" r="3.25" fill="#eb2c23"/>
<circle cx="378.7" cy="391.5" r="3.25" fill="#dbe230"/>
<circle cx="342.8" cy="417.9" r="3.25" fill="#79c687"/>
<circle cx="405.4" cy="396.6" r="3.25" fill="#bdd945"/>
<circle cx="400.4" cy="382.6" r="3.25" fill="#e9e627"/>
<circle cx="372.1" cy="399.6" r="3.25" fill="#abd355"/>
<circle cx="400.3" cy="342.7" r="3.25" fill="#f04823"/>
<circle cx="389.0" cy="381.4" r="3.25" fill="#f4df23"/>
<circle cx="395.9" cy="351.3" r="3.25" fill="#f7721e"/>
<circle cx="396.4" cy="386.5" r="3.25" fill="#dae230"/>
<circle cx="394.0" cy="339.4" r="3.25" fill="#ed3123"/>
<circle cx="401.9" cy="401.1" r="3.25" fill="#b4d64d"/>
<circle cx="385.7" cy="337.3" r="3.25" fill="#ea2a23"/>
<circle cx="387.0" cy="384.2" r="3.25" fill="#e6e529"/>
<circle cx="400.5" cy="403.4" r="3.25" fill="#9ccf63"/>
<circle cx="390.7" cy="334.2" r="3.25" fill="#e92923"/>
<circle cx="388.3" cy="397.6" r="3.25" fill="#c7dc3d"/>
<circle cx="384.4" cy="332.8" r="3.25" fill="#e72523"/>
<circle cx="393.8" cy="409.3" r="3.25" fill="#92cc6b"/>
<circle cx="372.1" cy="385.6" r="3.25" fill="#e5e52a"/>
<circle cx="358.5" cy="391.1" r="3.25" fill="#e6e529"/>
<circle cx="377.0" cy="407.2" r="3.25" fill="#95cd69"/>
<circle cx="387.8" cy="377.9" r="3.25" fill="#eee525"/>
<circle cx="380.6" cy="375.7" r="3.25" fill="#f5de23"/>
<circle cx="342.4" cy="414.5" r="3.25" fill="#78c689"/>
<circle cx="403.4" cy="389.0" r="3.25" fill="#d3df35"/>
<circle cx="393.1" cy="355.4" r="3.25" fill="#f9821d"/>
<circle cx="389.8" cy="371.8" r="3.25" fill="#fcb91e"/>
<circle cx="355.1" cy="410.1" r="3.25" fill="#a0d05f"/>
<circle cx="398.8" cy="331.6" r="3.25" fill="#e62423"/>
<circle cx="356.9" cy="380.7" r="3.25" fill="#f4e023"/>
<circle cx="397.2" cy="333.7" r="3.25" fill="#e62523"/>
<circle cx="362.4" cy="405.1" r="3.25" fill="#9bcf63"/>
<circle cx="392.7" cy="332.6" r="3.25" fill="#e52423"/>
<circle cx="396.3" cy="337.7" r="3.25" fill="#ec3023"/>
<circle cx="391.9" cy="407.2" r="3.25" fill="#9fd060"/>
<circle cx="386.1" cy="407.9" r="3.25" fill="#97cd67"/>
<circle cx="387.5" cy="374.2" r="3.25" fill="#f5dd23"/>
<circle cx="341.0" cy="427.9" r="3.25" fill="#68c4ae"/>
<circle cx="402.3" cy="354.9" r="3.25" fill="#fa891c"/>
<circle cx="381.5" cy="372.2" r="3.25" fill="#f9cc20"/>
<circle cx="398.3" cy="367.9" r="3.25" fill="#fcb81e"/>
<circle cx="382.9" cy="395.2" r="3.25" fill="#c4db40"/>
<circle cx="336.6" cy="414.6" r="3.25" fill="#7ac684"/>
<circle cx="362.1" cy="398.9" r="3.25" fill="#bed945"/>
<circle cx="381.5" cy="339.0" r="3.25" fill="#eb2c23"/>
<circle cx="393.4" cy="345.1" r="3.25" fill="#f04423"/>
<circle cx="390.5" cy="384.0" r="3.25" fill="#e9e628"/>
<circle cx="353.2" cy="402.7" r="3.25" fill="#a2d15d"/>
<circle cx="373.6" cy="395.8" r="3.25" fill="#c0da43"/>
<circle cx="399.2" cy="349.3" r="3.25" fill="#f35921"/>
<circle cx="339.0" cy="411.6" r="3.25" fill="#7cc680"/>
<circle cx="346.0" cy="422.3" r="3.25" fill="#64c3b8"/>
<circle cx="387.1" cy="339.7" r="3.25" fill="#ed3223"/>
<circle cx="392.5" cy="389.8" r="3.25" fill="#d6e033"/>
<circle cx="402.2" cy="386.5" r="3.25" fill="#ebe527"/>
<circle cx="383.1" cy="370.1" r="3.25" fill="#fca31c"/>
<circle cx="391.1" cy="400.0" r="3.25" fill="#b1d550"/>
<circle cx="347.7" cy="412.7" r="3.25" fill="#81c77a"/>
<circle cx="378.2" cy="382.4" r="3.25" fill="#e5e52a"/>
<circle cx="395.4" cy="363.1" r="3.25" fill="#fb8d1c"/>
<circle cx="402.4" cy="348.1" r="3.25" fill="#f5621f"/>
<circle cx="362.6" cy="394.7" r="3.25" fill="#bbd847"/>
<circle cx="337.7" cy="428.0" r="3.25" fill="#61c3bf"/>
<circle cx="391.6" cy="381.7" r="3.25" fill="#ebe527"/>
<circle cx="397.4" cy="396.1" r="3.25" fill="#bcd847"/>
<circle cx="356.7" cy="406.7" r="3.25" fill="#95cd69"/>
<circle cx="364.0" cy="402.7" r="3.25" fill="#a1d05e"/>
<circle cx="365.3" cy="407.8" r="3.25" fill="#96cd68"/>
<circle cx="404.0" cy="372.4" r="3.25" fill="#fac41f"/>
<circle cx="399.6" cy="337.6" r="3.25" fill="#ea2a23"/>
<circle cx="392.2" cy="392.6" r="3.25" fill="#c5db3f"/>
<circle cx="373.8" cy="387.9" r="3.25" fill="#d7e132"/>
<circle cx="367.3" cy="396.2" r="3.25" fill="#c0da43"/>
<circle cx="374.4" cy="408.6" r="3.25" fill="#95cd68"/>
<circle cx="339.0" cy="424.4" r="3.25" fill="#66c4b3"/>
<circle cx="399.6" cy="355.2" r="3.25" fill="#fb8e1c"/>
<circle cx="397.3" cy="361.3" r="3.25" fill="#fc9e1c"/>
<circle cx="384.7" cy="385.7" r="3.25" fill="#ebe527"/>
<circle cx="403.1" cy="360.7" r="3.25" fill="#fb911c"/>
<circle cx="353.4" cy="391.0" r="3.25" fill="#d8e132"/>
<circle cx="395.2" cy="366.6" r="3.25" fill="#fc9c1c"/>
<circle cx="406.0" cy="381.0" r="3.25" fill="#efe525"/>
<circle cx="396.0" cy="348.6" r="3.25" fill="#f14f22"/>
<circle cx="406.0" cy="386.5" r="3.25" fill="#e9e628"/>
<circle cx="353.5" cy="405.4" r="3.25" fill="#93cc6a"/>
<circle cx="365.6" cy="404.9" r="3.25" fill="#a1d05e"/>
<circle cx="389.0" cy="386.1" r="3.25" fill="#e2e42c"/>
<circle cx="356.3" cy="394.0" r="3.25" fill="#cdde39"/>
<circle cx="402.9" cy="379.8" r="3.25" fill="#f0e425"/>
<circle cx="381.9" cy="377.8" r="3.25" fill="#f4e023"/>
<circle cx="401.6" cy="397.0" r="3.25" fill="#c2da41"/>
<circle cx="390.6" cy="396.3" r="3.25" fill="#b5d64d"/>
<circle cx="358.8" cy="382.9" r="3.25" fill="#ede526"/>
<circle cx="395.2" cy="343.0" r="3.25" fill="#ef4223"/>
<circle cx="400.6" cy="362.5" r="3.25" fill="#fb8f1c"/>
<circle cx="380.5" cy="398.1" r="3.25" fill="#bfd944"/>
<circle cx="391.1" cy="365.8" r="3.25" fill="#fcb41e"/>
<circle cx="403.4" cy="342.5" r="3.25" fill="#eb2c23"/>
<circle cx="385.4" cy="372.7" r="3.25" fill="#f7d822"/>
<circle cx="392.4" cy="386.3" r="3.25" fill="#e6e629"/>
<circle cx="372.4" cy="390.1" r="3.25" fill="#dce230"/>
<circle cx="376.1" cy="393.8" r="3.25" fill="#c8dc3c"/>
<circle cx="402.3" cy="356.5" r="3.25" fill="#f8791d"/>
<circle cx="364.1" cy="387.2" r="3.25" fill="#e0e32d"/>
<circle cx="359.0" cy="399.9" r="3.25" fill="#cadd3b"/>
<circle cx="396.6" cy="408.8" r="3.25" fill="#95cd69"/>
<circle cx="353.4" cy="395.0" r="3.25" fill="#c4db40"/>
<circle cx="391.9" cy="336.9" r="3.25" fill="#ec3023"/>
<circle cx="374.7" cy="405.2" r="3.25" fill="#a2d15d"/>
<circle cx="375.3" cy="391.1" r="3.25" fill="#cdde39"/>
<circle cx="351.4" cy="419.2" r="3.25" fill="#73c594"/>
<circle cx="359.0" cy="393.7" r="3.25" fill="#d3df35"/>
<circle cx="402.4" cy="376.7" r="3.25" fill="#f2e424"/>
<circle cx="392.7" cy="372.6" r="3.25" fill="#f6dc22"/>
<circle cx="344.0" cy="411.7" r="3.25" fill="#7fc77b"/>
<circle cx="387.6" cy="369.7" r="3.25" fill="#fcb51e"/>
<circle cx="369.8" cy="394.2" r="3.25" fill="#cede38"/>
<circle cx="390.0" cy="338.8" r="3.25" fill="#ec3123"/>
<circle cx="384.4" cy="340.2" r="3.25" fill="#ec3023"/>
<circle cx="368.9" cy="400.9" r="3.25" fill="#b9d849"/>
<circle cx="366.0" cy="375.0" r="3.25" fill="#f2e424"/>
<circle cx="369.7" cy="391.4" r="3.25" fill="#e1e42c"/>
<circle cx="384.5" cy="378.2" r="3.25" fill="#f4e123"/>
<circle cx="397.5" cy="356.7" r="3.25" fill="#fa851d"/>
<circle cx="391.1" cy="403.2" r="3.25" fill="#acd454"/>
<circle cx="348.0" cy="402.5" r="3.25" fill="#a4d15c"/>
<circle cx="331.6" cy="427.5" r="3.25" fill="#64c4b7"/>
<circle cx="388.1" cy="342.2" r="3.25" fill="#ef4023"/>
<circle cx="373.3" cy="375.2" r="3.25" fill="#f4df23"/>
<circle cx="386.8" cy="388.8" r="3.25" fill="#d2df36"/>
<circle cx="400.4" cy="333.2" r="3.25" fill="#e52323"/>
<circle cx="397.6" cy="398.9" r="3.25" fill="#bad848"/>
<circle cx="392.7" cy="398.0" r="3.25" fill="#b2d54f"/>
<circle cx="367.0" cy="377.4" r="3.25" fill="#f3e224"/>
<circle cx="385.8" cy="397.5" r="3.25" fill="#b3d64f"/>
<circle cx="353.4" cy="386.1" r="3.25" fill="#e5e52a"/>
<circle cx="356.1" cy="403.7" r="3.25" fill="#9ace64"/>
<circle cx="393.7" cy="379.8" r="3.25" fill="#ebe527"/>
<circle cx="350.7" cy="394.8" r="3.25" fill="#cdde39"/>
<circle cx="386.0" cy="410.7" r="3.25" fill="#92cc6b"/>
<circle cx="358.0" cy="388.4" r="3.25" fill="#e9e628"/>
<circle cx="345.0" cy="419.8" r="3.25" fill="#76c58d"/>
<circle cx="354.5" cy="414.6" r="3.25" fill="#7dc67e"/>
<circle cx="349.5" cy="410.4" r="3.25" fill="#82c779"/>
<circle cx="394.3" cy="334.8" r="3.25" fill="#e72623"/>
<circle cx="385.1" cy="369.1" r="3.25" fill="#fcb31d"/>
<circle cx="365.1" cy="379.4" r="3.25" fill="#eee525"/>
<circle cx="404.9" cy="377.5" r="3.25" fill="#f4e023"/>
<circle cx="395.9" cy="391.5" r="3.25" fill="#cbdd3a"/>
<circle cx="384.1" cy="399.8" r="3.25" fill="#b5d64d"/>
<circle cx="396.1" cy="376.9" r="3.25" fill="#f4e023"/>
<circle cx="356.8" cy="412.7" r="3.25" fill="#81c77a"/>
<circle cx="344.0" cy="403.1" r="3.25" fill="#add454"/>
<circle cx="398.7" cy="391.5" r="3.25" fill="#d9e131"/>
<circle cx="362.7" cy="374.8" r="3.25" fill="#efe525"/>
<circle cx="357.1" cy="385.8" r="3.25" fill="#eae627"/>
<circle cx="364.4" cy="372.3" r="3.25" fill="#fbc11f"/>
<circle cx="387.9" cy="410.0" r="3.25" fill="#9ace64"/>
<circle cx="367.1" cy="381.3" r="3.25" fill="#efe525"/>
<circle cx="383.7" cy="382.9" r="3.25" fill="#ece527"/>
<circle cx="402.1" cy="351.4" r="3.25" fill="#f66c1e"/>
<circle cx="398.5" cy="376.3" r="3.25" fill="#f4e023"/>
<circle cx="399.2" cy="385.3" r="3.25" fill="#ece526"/>
<circle cx="386.8" cy="345.3" r="3.25" fill="#f35621"/>
<circle cx="362.6" cy="377.1" r="3.25" fill="#f6dc22"/>
<circle cx="398.4" cy="388.7" r="3.25" fill="#d6e033"/>
<circle cx="346.4" cy="417.0" r="3.25" fill="#74c592"/>
<circle cx="366.0" cy="370.5" r="3.25" fill="#fcb91e"/>
<circle cx="346.9" cy="399.9" r="3.25" fill="#b1d550"/>
<circle cx="375.6" cy="409.5" r="3.25" fill="#8cca70"/>
<circle cx="388.8" cy="407.4" r="3.25" fill="#8dcb6f"/>
<circle cx="349.4" cy="407.9" r="3.25" fill="#91cc6c"/>
<circle cx="344.6" cy="424.7" r="3.25" fill="#6ac4a9"/>
<circle cx="361.5" cy="388.0" r="3.25" fill="#e6e529"/>
<circle cx="377.5" cy="374.2" r="3.25" fill="#fcb81e"/>
<circle cx="337.4" cy="418.4" r="3.25" fill="#78c589"/>
<circle cx="351.9" cy="388.6" r="3.25" fill="#e5e52a"/>
<circle cx="385.6" cy="392.2" r="3.25" fill="#c5db3f"/>
<circle cx="400.8" cy="393.2" r="3.25" fill="#c2da41"/>
<circle cx="334.6" cy="419.8" r="3.25" fill="#72c598"/>
<circle cx="349.0" cy="416.5" r="3.25" fill="#77c58c"/>
<circle cx="394.8" cy="388.7" r="3.25" fill="#ede526"/>
<circle cx="391.5" cy="377.6" r="3.25" fill="#f5df23"/>
<circle cx="392.1" cy="375.0" r="3.25" fill="#f6dd23"/>
<circle cx="394.1" cy="400.2" r="3.25" fill="#b9d849"/>
<circle cx="375.9" cy="397.3" r="3.25" fill="#c7dc3d"/>
<circle cx="383.4" cy="375.5" r="3.25" fill="#f0e425"/>
<circle cx="387.9" cy="400.4" r="3.25" fill="#a7d259"/>
<circle cx="405.6" cy="384.8" r="3.25" fill="#e4e52b"/>
<circle cx="393.2" cy="352.5" r="3.25" fill="#f7701e"/>
<circle cx="370.8" cy="388.0" r="3.25" fill="#e2e42c"/>
<circle cx="380.0" cy="386.6" r="3.25" fill="#e9e627"/>
<circle cx="367.3" cy="390.2" r="3.25" fill="#d3df35"/>
<circle cx="360.2" cy="379.3" r="3.25" fill="#f5de23"/>
<circle cx="348.7" cy="420.9" r="3.25" fill="#73c594"/>
<circle cx="385.8" cy="380.7" r="3.25" fill="#f3e123"/>
<circle cx="353.1" cy="412.3" r="3.25" fill="#81c779"/>
<circle cx="361.2" cy="408.0" r="3.25" fill="#91cc6b"/>
<circle cx="394.6" cy="405.7" r="3.25" fill="#a1d05e"/>
<circle cx="351.9" cy="407.8" r="3.25" fill="#8bca71"/>
<circle cx="390.5" cy="344.2" r="3.25" fill="#f25222"/>
<circle cx="394.3" cy="369.0" r="3.25" fill="#fcb81e"/>
<circle cx="379.0" cy="333.7" r="3.25" fill="#e72623"/>
<circle cx="395.8" cy="333.0" r="3.25" fill="#e72523"/>
<circle cx="396.5" cy="331.7" r="3.25" fill="#e52323"/>
<circle cx="396.7" cy="330.3" r="3.25" fill="#dc2122"/>
<circle cx="397.0" cy="328.9" r="3.25" fill="#c91e20"/>
<circle cx="397.2" cy="327.5" r="3.25" fill="#b61b1e"/>
<circle cx="397.6" cy="326.4" r="3.25" fill="#ac191d"/>
<circle cx="398.7" cy="325.5" r="3.25" fill="#a5181c"/>
<circle cx="399.6" cy="324.3" r="3.25" fill="#9b151b"/>
<circle cx="401.1" cy="324.4" r="3.25" fill="#9b151b"/>
<circle cx="402.4" cy="323.8" r="3.25" fill="#96141b"/>
<circle cx="403.8" cy="323.5" r="3.25" fill="#93141a"/>
<circle cx="405.0" cy="323.0" r="3.25" fill="#91131a"/>
<circle cx="406.6" cy="322.6" r="3.25" fill="#90131a"/>
<circle cx="408.3" cy="322.2" r="3.25" fill="#8e131a"/>
<circle cx="410.1" cy="321.7" r="3.25" fill="#8d131a"/>
<circle cx="412.0" cy="321.3" r="3.25" fill="#8c1219"/>
<circle cx="414.0" cy="321.1" r="3.25" fill="#8c1219"/>
<circle cx="416.2" cy="320.8" r="3.25" fill="#8b1219"/>
<circle cx="418.4" cy="320.5" r="3.25" fill="#8a1219"/>
<circle cx="420.8" cy="320.1" r="3.25" fill="#891219"/>
<circle cx="423.4" cy="319.8" r="3.25" fill="#881219"/>
<circle cx="426.1" cy="319.5" r="3.25" fill="#881219"/>
<circle cx="428.9" cy="319.2" r="3.25" fill="#871219"/>
<circle cx="431.9" cy="318.8" r="3.25" fill="#861219"/>
<circle cx="435.0" cy="318.5" r="3.25" fill="#851118"/>
<circle cx="438.3" cy="318.2" r="3.25" fill="#841118"/>
<circle cx="441.7" cy="317.9" r="3.25" fill="#841118"/>
<circle cx="445.2" cy="317.5" r="3.25" fill="#831118"/>
<circle cx="448.9" cy="317.2" r="3.25" fill="#821118"/>
<circle cx="452.8" cy="317.0" r="3.25" fill="#811118"/>
<circle cx="456.9" cy="317.0" r="3.25" fill="#811118"/>
<circle cx="461.2" cy="316.9" r="3.25" fill="#811118"/>
<circle cx="465.7" cy="316.9" r="3.25" fill="#811118"/>
<circle cx="470.5" cy="316.9" r="3.25" fill="#811118"/>
<circle cx="475.4" cy="316.8" r="3.25" fill="#811118"/>
<circle cx="480.7" cy="316.7" r="3.25" fill="#811118"/>
<circle cx="486.1" cy="316.5" r="3.25" fill="#801118"/>
<circle cx="491.9" cy="316.4" r="3.25" fill="#801118"/>
<circle cx="497.8" cy="316.2" r="3.25" fill="#7f1118"/>
<circle cx="503.9" cy="316.1" r="3.25" fill="#7f1118"/>
<circle cx="510.3" cy="316.1" r="3.25" fill="#7f1118"/>
</g>
<rect x="315.2" y="307.8" width="205.6" height="199.6" fill="none" stroke="#2b2b2b" stroke-width="1"/>
<line x1="321.3" y1="507.4" x2="321.3" y2="511.2" stroke="#2b2b2b" stroke-width="1"/>
<text x="321.3" y="524.8" font-size="12.4" text-anchor="middle" fill="#1a1a1a">0</text>
<line x1="366.5" y1="507.4" x2="366.5" y2="511.2" stroke="#2b2b2b" stroke-width="1"/>
<text x="366.5" y="524.8" font-size="12.4" text-anchor="middle" fill="#1a1a1a">50</text>
<line x1="411.8" y1="507.4" x2="411.8" y2="511.2" stroke="#2b2b2b" stroke-width="1"/>
<text x="411.8" y="524.8" font-size="12.4" text-anchor="middle" fill="#1a1a1a">100</text>
<line x1="457.0" y1="507.4" x2="457.0" y2="511.2" stroke="#2b2b2b" stroke-width="1"/>
<text x="457.0" y="524.8" font-size="12.4" text-anchor="middle" fill="#1a1a1a">150</text>
<line x1="502.2" y1="507.4" x2="502.2" y2="511.2" stroke="#2b2b2b" stroke-width="1"/>
<text x="502.2" y="524.8" font-size="12.4" text-anchor="middle" fill="#1a1a1a">200</text>
<line x1="311.4" y1="492.0" x2="315.2" y2="492.0" stroke="#2b2b2b" stroke-width="1"/>
<text transform="translate(306.2,487.8) rotate(-90)" font-size="12.4" text-anchor="end" fill="#1a1a1a">0.5</text>
<line x1="311.4" y1="457.1" x2="315.2" y2="457.1" stroke="#2b2b2b" stroke-width="1"/>
<text transform="translate(306.2,452.9) rotate(-90)" font-size="12.4" text-anchor="end" fill="#1a1a1a">1.0</text>
<line x1="311.4" y1="422.2" x2="315.2" y2="422.2" stroke="#2b2b2b" stroke-width="1"/>
<text transform="translate(306.2,418.0) rotate(-90)" font-size="12.4" text-anchor="end" fill="#1a1a1a">1.5</text>
<line x1="311.4" y1="387.4" x2="315.2" y2="387.4" stroke="#2b2b2b" stroke-width="1"/>
<text transform="translate(306.2,383.2) rotate(-90)" font-size="12.4" text-anchor="end" fill="#1a1a1a">2.0</text>
<line x1="311.4" y1="352.5" x2="315.2" y2="352.5" stroke="#2b2b2b" stroke-width="1"/>
<text transform="translate(306.2,348.3) rotate(-90)" font-size="12.4" text-anchor="end" fill="#1a1a1a">2.5</text>
<line x1="311.4" y1="317.6" x2="315.2" y2="317.6" stroke="#2b2b2b" stroke-width="1"/>
<text transform="translate(306.2,313.4) rotate(-90)" font-size="12.4" text-anchor="end" fill="#1a1a1a">3.0</text>
<text x="418.0" y="541.4" font-size="12.7" text-anchor="middle" fill="#1a1a1a">Density STD (veh/km)</text>
<text transform="translate(287.8,408.2) rotate(-90)" font-size="12.8" text-anchor="middle" fill="#1a1a1a" style="font-family:'DejaVu Sans','Liberation Sans',sans-serif">CO<tspan font-size="9" dy="2.3">2</tspan><tspan dy="-2.3" dx="0.8"> (g)</tspan></text>
<text x="356.3" y="321.8" font-size="16.5" font-weight="bold" text-anchor="middle" fill="#1a1a1a">D</text>
<text x="315.4" y="303.8" font-size="12.4" fill="#1a1a1a">×10<tspan font-size="8.7" dy="-4.2">5</tspan></text>
<text x="439.5" y="386.9" font-size="14.7" font-weight="bold" fill="#1a1a1a">r = 0.88</text>
</svg>
</body></html>
